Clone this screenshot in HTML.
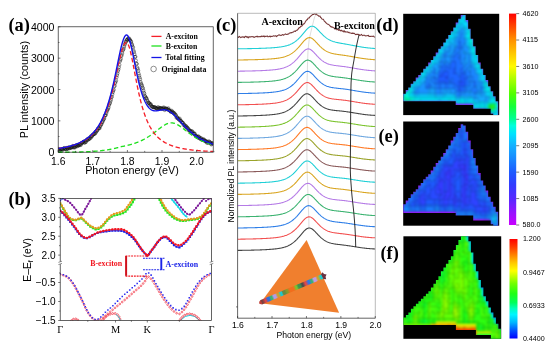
<!DOCTYPE html>
<html><head><meta charset="utf-8"><title>Figure</title>
<style>
html,body{margin:0;padding:0;background:#fff}
svg{display:block}
.s{font-family:"Liberation Sans", Arial, sans-serif}
.r{font-family:"Liberation Serif", "Times New Roman", serif}
</style></head><body>
<svg width="550" height="348" viewBox="0 0 550 348">
<rect width="550" height="348" fill="#fff"/>
<g id="pa">
<clipPath id="ca"><rect x="58.2" y="26.8" width="155" height="126.9"/></clipPath>
<g clip-path="url(#ca)">
<g fill="none" stroke="#111" stroke-width="0.45">
<circle cx="58.2" cy="148.8" r="1.5"/>
<circle cx="58.67" cy="149.51" r="1.5"/>
<circle cx="59.14" cy="149.63" r="1.5"/>
<circle cx="59.61" cy="150.68" r="1.5"/>
<circle cx="60.08" cy="149.72" r="1.5"/>
<circle cx="60.56" cy="149.69" r="1.5"/>
<circle cx="61.03" cy="149.47" r="1.5"/>
<circle cx="61.5" cy="149.71" r="1.5"/>
<circle cx="61.97" cy="149.3" r="1.5"/>
<circle cx="62.44" cy="149.47" r="1.5"/>
<circle cx="62.91" cy="149.87" r="1.5"/>
<circle cx="63.38" cy="148.55" r="1.5"/>
<circle cx="63.85" cy="148.47" r="1.5"/>
<circle cx="64.32" cy="147.92" r="1.5"/>
<circle cx="64.8" cy="148.78" r="1.5"/>
<circle cx="65.27" cy="148.95" r="1.5"/>
<circle cx="65.74" cy="148.94" r="1.5"/>
<circle cx="66.21" cy="149.41" r="1.5"/>
<circle cx="66.68" cy="147.89" r="1.5"/>
<circle cx="67.15" cy="148.97" r="1.5"/>
<circle cx="67.62" cy="148.92" r="1.5"/>
<circle cx="68.09" cy="148.27" r="1.5"/>
<circle cx="68.57" cy="147.21" r="1.5"/>
<circle cx="69.04" cy="147.81" r="1.5"/>
<circle cx="69.51" cy="148.41" r="1.5"/>
<circle cx="69.98" cy="148.12" r="1.5"/>
<circle cx="70.45" cy="147.24" r="1.5"/>
<circle cx="70.92" cy="147.56" r="1.5"/>
<circle cx="71.39" cy="147.78" r="1.5"/>
<circle cx="71.86" cy="147.35" r="1.5"/>
<circle cx="72.33" cy="146.66" r="1.5"/>
<circle cx="72.81" cy="145.83" r="1.5"/>
<circle cx="73.28" cy="147.51" r="1.5"/>
<circle cx="73.75" cy="147.01" r="1.5"/>
<circle cx="74.22" cy="146.96" r="1.5"/>
<circle cx="74.69" cy="147.72" r="1.5"/>
<circle cx="75.16" cy="146.72" r="1.5"/>
<circle cx="75.63" cy="146.61" r="1.5"/>
<circle cx="76.1" cy="145.24" r="1.5"/>
<circle cx="76.57" cy="145.77" r="1.5"/>
<circle cx="77.05" cy="146.44" r="1.5"/>
<circle cx="77.52" cy="144.97" r="1.5"/>
<circle cx="77.99" cy="145.35" r="1.5"/>
<circle cx="78.46" cy="145.94" r="1.5"/>
<circle cx="78.93" cy="145.1" r="1.5"/>
<circle cx="79.4" cy="144.89" r="1.5"/>
<circle cx="79.87" cy="144.84" r="1.5"/>
<circle cx="80.34" cy="144.12" r="1.5"/>
<circle cx="80.82" cy="145.18" r="1.5"/>
<circle cx="81.29" cy="143.84" r="1.5"/>
<circle cx="81.76" cy="142.88" r="1.5"/>
<circle cx="82.23" cy="142.73" r="1.5"/>
<circle cx="82.7" cy="142.34" r="1.5"/>
<circle cx="83.17" cy="142.07" r="1.5"/>
<circle cx="83.64" cy="141.6" r="1.5"/>
<circle cx="84.11" cy="142.8" r="1.5"/>
<circle cx="84.58" cy="141.42" r="1.5"/>
<circle cx="85.06" cy="142.66" r="1.5"/>
<circle cx="85.53" cy="141.65" r="1.5"/>
<circle cx="86" cy="142.09" r="1.5"/>
<circle cx="86.47" cy="140.11" r="1.5"/>
<circle cx="86.94" cy="139.62" r="1.5"/>
<circle cx="87.41" cy="140.15" r="1.5"/>
<circle cx="87.88" cy="138.7" r="1.5"/>
<circle cx="88.35" cy="139.73" r="1.5"/>
<circle cx="88.82" cy="138.9" r="1.5"/>
<circle cx="89.3" cy="138.53" r="1.5"/>
<circle cx="89.77" cy="138.83" r="1.5"/>
<circle cx="90.24" cy="137.59" r="1.5"/>
<circle cx="90.71" cy="136.33" r="1.5"/>
<circle cx="91.18" cy="137.58" r="1.5"/>
<circle cx="91.65" cy="136.06" r="1.5"/>
<circle cx="92.12" cy="136.21" r="1.5"/>
<circle cx="92.59" cy="134.66" r="1.5"/>
<circle cx="93.07" cy="134.91" r="1.5"/>
<circle cx="93.54" cy="134.31" r="1.5"/>
<circle cx="94.01" cy="133.83" r="1.5"/>
<circle cx="94.48" cy="133.53" r="1.5"/>
<circle cx="94.95" cy="133.91" r="1.5"/>
<circle cx="95.42" cy="131.79" r="1.5"/>
<circle cx="95.89" cy="132.77" r="1.5"/>
<circle cx="96.36" cy="131.27" r="1.5"/>
<circle cx="96.83" cy="130.45" r="1.5"/>
<circle cx="97.31" cy="130.64" r="1.5"/>
<circle cx="97.78" cy="129.43" r="1.5"/>
<circle cx="98.25" cy="128.18" r="1.5"/>
<circle cx="98.72" cy="128.16" r="1.5"/>
<circle cx="99.19" cy="127.93" r="1.5"/>
<circle cx="99.66" cy="128.34" r="1.5"/>
<circle cx="100.13" cy="126.47" r="1.5"/>
<circle cx="100.6" cy="125.47" r="1.5"/>
<circle cx="101.07" cy="124.61" r="1.5"/>
<circle cx="101.55" cy="124.02" r="1.5"/>
<circle cx="102.02" cy="122.4" r="1.5"/>
<circle cx="102.49" cy="122.04" r="1.5"/>
<circle cx="102.96" cy="120.84" r="1.5"/>
<circle cx="103.43" cy="119.44" r="1.5"/>
<circle cx="103.9" cy="119.32" r="1.5"/>
<circle cx="104.37" cy="117.98" r="1.5"/>
<circle cx="104.84" cy="115.54" r="1.5"/>
<circle cx="105.31" cy="115.17" r="1.5"/>
<circle cx="105.79" cy="115.27" r="1.5"/>
<circle cx="106.26" cy="113.42" r="1.5"/>
<circle cx="106.73" cy="111.85" r="1.5"/>
<circle cx="107.2" cy="110.24" r="1.5"/>
<circle cx="107.67" cy="109.57" r="1.5"/>
<circle cx="108.14" cy="108.64" r="1.5"/>
<circle cx="108.61" cy="107.39" r="1.5"/>
<circle cx="109.08" cy="105.21" r="1.5"/>
<circle cx="109.56" cy="103.95" r="1.5"/>
<circle cx="110.03" cy="102.93" r="1.5"/>
<circle cx="110.5" cy="101.22" r="1.5"/>
<circle cx="110.97" cy="99.77" r="1.5"/>
<circle cx="111.44" cy="97.51" r="1.5"/>
<circle cx="111.91" cy="96.64" r="1.5"/>
<circle cx="112.38" cy="94.27" r="1.5"/>
<circle cx="112.85" cy="92.31" r="1.5"/>
<circle cx="113.32" cy="90.72" r="1.5"/>
<circle cx="113.8" cy="89.63" r="1.5"/>
<circle cx="114.27" cy="86.52" r="1.5"/>
<circle cx="114.74" cy="85.74" r="1.5"/>
<circle cx="115.21" cy="83.17" r="1.5"/>
<circle cx="115.68" cy="81.84" r="1.5"/>
<circle cx="116.15" cy="80.38" r="1.5"/>
<circle cx="116.62" cy="77.22" r="1.5"/>
<circle cx="117.09" cy="75.11" r="1.5"/>
<circle cx="117.56" cy="73.22" r="1.5"/>
<circle cx="118.04" cy="70.91" r="1.5"/>
<circle cx="118.51" cy="69.31" r="1.5"/>
<circle cx="118.98" cy="67.23" r="1.5"/>
<circle cx="119.45" cy="64.79" r="1.5"/>
<circle cx="119.92" cy="61.51" r="1.5"/>
<circle cx="120.39" cy="60.04" r="1.5"/>
<circle cx="120.86" cy="58.79" r="1.5"/>
<circle cx="121.33" cy="56.24" r="1.5"/>
<circle cx="121.81" cy="54.93" r="1.5"/>
<circle cx="122.28" cy="53.08" r="1.5"/>
<circle cx="122.75" cy="50.57" r="1.5"/>
<circle cx="123.22" cy="49.66" r="1.5"/>
<circle cx="123.69" cy="48.72" r="1.5"/>
<circle cx="124.16" cy="46.79" r="1.5"/>
<circle cx="124.63" cy="44.85" r="1.5"/>
<circle cx="125.1" cy="43.56" r="1.5"/>
<circle cx="125.57" cy="41.8" r="1.5"/>
<circle cx="126.05" cy="41.92" r="1.5"/>
<circle cx="126.52" cy="40.25" r="1.5"/>
<circle cx="126.99" cy="39.73" r="1.5"/>
<circle cx="127.46" cy="39.52" r="1.5"/>
<circle cx="127.93" cy="38.59" r="1.5"/>
<circle cx="128.4" cy="38.57" r="1.5"/>
<circle cx="128.87" cy="39.32" r="1.5"/>
<circle cx="129.34" cy="38.45" r="1.5"/>
<circle cx="129.81" cy="40.19" r="1.5"/>
<circle cx="130.29" cy="40.14" r="1.5"/>
<circle cx="130.76" cy="41.07" r="1.5"/>
<circle cx="131.23" cy="41.92" r="1.5"/>
<circle cx="131.7" cy="43.85" r="1.5"/>
<circle cx="132.17" cy="44.91" r="1.5"/>
<circle cx="132.64" cy="46.58" r="1.5"/>
<circle cx="133.11" cy="47.67" r="1.5"/>
<circle cx="133.58" cy="50.54" r="1.5"/>
<circle cx="134.05" cy="52" r="1.5"/>
<circle cx="134.53" cy="54.21" r="1.5"/>
<circle cx="135" cy="56.89" r="1.5"/>
<circle cx="135.47" cy="56.78" r="1.5"/>
<circle cx="135.94" cy="60.49" r="1.5"/>
<circle cx="136.41" cy="63.47" r="1.5"/>
<circle cx="136.88" cy="64.01" r="1.5"/>
<circle cx="137.35" cy="67.58" r="1.5"/>
<circle cx="137.82" cy="68.91" r="1.5"/>
<circle cx="138.3" cy="70.74" r="1.5"/>
<circle cx="138.77" cy="73.67" r="1.5"/>
<circle cx="139.24" cy="75.58" r="1.5"/>
<circle cx="139.71" cy="77.62" r="1.5"/>
<circle cx="140.18" cy="79.31" r="1.5"/>
<circle cx="140.65" cy="82.01" r="1.5"/>
<circle cx="141.12" cy="83.59" r="1.5"/>
<circle cx="141.59" cy="84.71" r="1.5"/>
<circle cx="142.06" cy="85.71" r="1.5"/>
<circle cx="142.54" cy="87.53" r="1.5"/>
<circle cx="143.01" cy="88.44" r="1.5"/>
<circle cx="143.48" cy="90.49" r="1.5"/>
<circle cx="143.95" cy="92.56" r="1.5"/>
<circle cx="144.42" cy="93.66" r="1.5"/>
<circle cx="144.89" cy="95.99" r="1.5"/>
<circle cx="145.36" cy="96.57" r="1.5"/>
<circle cx="145.83" cy="97.72" r="1.5"/>
<circle cx="146.3" cy="98.05" r="1.5"/>
<circle cx="146.78" cy="98.83" r="1.5"/>
<circle cx="147.25" cy="100.44" r="1.5"/>
<circle cx="147.72" cy="101.32" r="1.5"/>
<circle cx="148.19" cy="102.67" r="1.5"/>
<circle cx="148.66" cy="102.62" r="1.5"/>
<circle cx="149.13" cy="103.11" r="1.5"/>
<circle cx="149.6" cy="103.64" r="1.5"/>
<circle cx="150.07" cy="104.92" r="1.5"/>
<circle cx="150.55" cy="103.89" r="1.5"/>
<circle cx="151.02" cy="104.83" r="1.5"/>
<circle cx="151.49" cy="106" r="1.5"/>
<circle cx="151.96" cy="106.64" r="1.5"/>
<circle cx="152.43" cy="106.88" r="1.5"/>
<circle cx="152.9" cy="106.92" r="1.5"/>
<circle cx="153.37" cy="107.29" r="1.5"/>
<circle cx="153.84" cy="107.25" r="1.5"/>
<circle cx="154.31" cy="107.29" r="1.5"/>
<circle cx="154.79" cy="107.13" r="1.5"/>
<circle cx="155.26" cy="107.4" r="1.5"/>
<circle cx="155.73" cy="108.22" r="1.5"/>
<circle cx="156.2" cy="108.03" r="1.5"/>
<circle cx="156.67" cy="108.54" r="1.5"/>
<circle cx="157.14" cy="108.71" r="1.5"/>
<circle cx="157.61" cy="107.33" r="1.5"/>
<circle cx="158.08" cy="108.69" r="1.5"/>
<circle cx="158.55" cy="107.32" r="1.5"/>
<circle cx="159.03" cy="108.64" r="1.5"/>
<circle cx="159.5" cy="108.29" r="1.5"/>
<circle cx="159.97" cy="107.81" r="1.5"/>
<circle cx="160.44" cy="108.4" r="1.5"/>
<circle cx="160.91" cy="108.18" r="1.5"/>
<circle cx="161.38" cy="108.53" r="1.5"/>
<circle cx="161.85" cy="108.66" r="1.5"/>
<circle cx="162.32" cy="108.49" r="1.5"/>
<circle cx="162.8" cy="108.78" r="1.5"/>
<circle cx="163.27" cy="107.52" r="1.5"/>
<circle cx="163.74" cy="108.58" r="1.5"/>
<circle cx="164.21" cy="107.56" r="1.5"/>
<circle cx="164.68" cy="110.12" r="1.5"/>
<circle cx="165.15" cy="108.68" r="1.5"/>
<circle cx="165.62" cy="108.48" r="1.5"/>
<circle cx="166.09" cy="109.09" r="1.5"/>
<circle cx="166.56" cy="108.45" r="1.5"/>
<circle cx="167.04" cy="108.87" r="1.5"/>
<circle cx="167.51" cy="109.57" r="1.5"/>
<circle cx="167.98" cy="109.38" r="1.5"/>
<circle cx="168.45" cy="108.26" r="1.5"/>
<circle cx="168.92" cy="109.96" r="1.5"/>
<circle cx="169.39" cy="110.2" r="1.5"/>
<circle cx="169.86" cy="110.91" r="1.5"/>
<circle cx="170.33" cy="110.9" r="1.5"/>
<circle cx="170.8" cy="112.03" r="1.5"/>
<circle cx="171.28" cy="111.76" r="1.5"/>
<circle cx="171.75" cy="110.63" r="1.5"/>
<circle cx="172.22" cy="111.8" r="1.5"/>
<circle cx="172.69" cy="112.44" r="1.5"/>
<circle cx="173.16" cy="112.6" r="1.5"/>
<circle cx="173.63" cy="112.59" r="1.5"/>
<circle cx="174.1" cy="113.76" r="1.5"/>
<circle cx="174.57" cy="113.38" r="1.5"/>
<circle cx="175.04" cy="114.41" r="1.5"/>
<circle cx="175.52" cy="115.4" r="1.5"/>
<circle cx="175.99" cy="115.01" r="1.5"/>
<circle cx="176.46" cy="117.81" r="1.5"/>
<circle cx="176.93" cy="117.3" r="1.5"/>
<circle cx="177.4" cy="117.34" r="1.5"/>
<circle cx="177.87" cy="118.51" r="1.5"/>
<circle cx="178.34" cy="118.6" r="1.5"/>
<circle cx="178.81" cy="119.39" r="1.5"/>
<circle cx="179.29" cy="119.93" r="1.5"/>
<circle cx="179.76" cy="118.55" r="1.5"/>
<circle cx="180.23" cy="120.25" r="1.5"/>
<circle cx="180.7" cy="121.16" r="1.5"/>
<circle cx="181.17" cy="120.91" r="1.5"/>
<circle cx="181.64" cy="122.3" r="1.5"/>
<circle cx="182.11" cy="122.19" r="1.5"/>
<circle cx="182.58" cy="123.01" r="1.5"/>
<circle cx="183.05" cy="122.8" r="1.5"/>
<circle cx="183.53" cy="125.03" r="1.5"/>
<circle cx="184" cy="124.3" r="1.5"/>
<circle cx="184.47" cy="125.16" r="1.5"/>
<circle cx="184.94" cy="126.38" r="1.5"/>
<circle cx="185.41" cy="125.62" r="1.5"/>
<circle cx="185.88" cy="127.19" r="1.5"/>
<circle cx="186.35" cy="126.27" r="1.5"/>
<circle cx="186.82" cy="127.36" r="1.5"/>
<circle cx="187.29" cy="127.73" r="1.5"/>
<circle cx="187.77" cy="128.53" r="1.5"/>
<circle cx="188.24" cy="128.52" r="1.5"/>
<circle cx="188.71" cy="130.53" r="1.5"/>
<circle cx="189.18" cy="129.88" r="1.5"/>
<circle cx="189.65" cy="130.71" r="1.5"/>
<circle cx="190.12" cy="130.62" r="1.5"/>
<circle cx="190.59" cy="131.22" r="1.5"/>
<circle cx="191.06" cy="131.26" r="1.5"/>
<circle cx="191.54" cy="132.49" r="1.5"/>
<circle cx="192.01" cy="131.37" r="1.5"/>
<circle cx="192.48" cy="131.49" r="1.5"/>
<circle cx="192.95" cy="133.3" r="1.5"/>
<circle cx="193.42" cy="133.57" r="1.5"/>
<circle cx="193.89" cy="133.76" r="1.5"/>
<circle cx="194.36" cy="133.57" r="1.5"/>
<circle cx="194.83" cy="133.57" r="1.5"/>
<circle cx="195.3" cy="135.67" r="1.5"/>
<circle cx="195.78" cy="135.68" r="1.5"/>
<circle cx="196.25" cy="136.26" r="1.5"/>
<circle cx="196.72" cy="136.62" r="1.5"/>
<circle cx="197.19" cy="137.23" r="1.5"/>
<circle cx="197.66" cy="136.41" r="1.5"/>
<circle cx="198.13" cy="137.58" r="1.5"/>
<circle cx="198.6" cy="136.38" r="1.5"/>
<circle cx="199.07" cy="137" r="1.5"/>
<circle cx="199.54" cy="138.38" r="1.5"/>
<circle cx="200.02" cy="138.66" r="1.5"/>
<circle cx="200.49" cy="138.7" r="1.5"/>
<circle cx="200.96" cy="137.84" r="1.5"/>
<circle cx="201.43" cy="139.37" r="1.5"/>
<circle cx="201.9" cy="139.99" r="1.5"/>
<circle cx="202.37" cy="139.42" r="1.5"/>
<circle cx="202.84" cy="139.43" r="1.5"/>
<circle cx="203.31" cy="140.25" r="1.5"/>
<circle cx="203.79" cy="139.2" r="1.5"/>
<circle cx="204.26" cy="140.21" r="1.5"/>
<circle cx="204.73" cy="140.31" r="1.5"/>
<circle cx="205.2" cy="141.27" r="1.5"/>
<circle cx="205.67" cy="141.02" r="1.5"/>
<circle cx="206.14" cy="141.29" r="1.5"/>
<circle cx="206.61" cy="142.69" r="1.5"/>
<circle cx="207.08" cy="141.45" r="1.5"/>
<circle cx="207.55" cy="142.82" r="1.5"/>
<circle cx="208.03" cy="142.01" r="1.5"/>
<circle cx="208.5" cy="143.01" r="1.5"/>
<circle cx="208.97" cy="141.22" r="1.5"/>
<circle cx="209.44" cy="142.36" r="1.5"/>
<circle cx="209.91" cy="142.23" r="1.5"/>
<circle cx="210.38" cy="142.37" r="1.5"/>
<circle cx="210.85" cy="143.8" r="1.5"/>
<circle cx="211.32" cy="144.5" r="1.5"/>
<circle cx="211.79" cy="143.56" r="1.5"/>
<circle cx="212.27" cy="143.02" r="1.5"/>
<circle cx="212.74" cy="143.63" r="1.5"/>
<circle cx="213.21" cy="143.39" r="1.5"/>
</g>
<path d="M58.2 152.2 L58.59 152.2 L58.98 152.2 L59.37 152.2 L59.75 152.2 L60.14 152.2 L60.53 152.2 L60.92 152.2 L61.31 152.2 L61.7 152.2 L62.08 152.2 L62.47 152.2 L62.86 152.2 L63.25 152.2 L63.64 152.2 L64.03 152.2 L64.42 152.2 L64.8 152.2 L65.19 152.2 L65.58 152.2 L65.97 152.2 L66.36 152.2 L66.75 152.2 L67.14 152.2 L67.52 152.2 L67.91 152.2 L68.3 152.2 L68.69 152.2 L69.08 152.2 L69.47 152.2 L69.85 152.19 L70.24 152.19 L70.63 152.19 L71.02 152.18 L71.41 152.18 L71.8 152.17 L72.19 152.17 L72.57 152.16 L72.96 152.16 L73.35 152.15 L73.74 152.15 L74.13 152.14 L74.52 152.13 L74.91 152.13 L75.29 152.12 L75.68 152.11 L76.07 152.1 L76.46 152.09 L76.85 152.09 L77.24 152.08 L77.62 152.07 L78.01 152.06 L78.4 152.05 L78.79 152.04 L79.18 152.03 L79.57 152.01 L79.96 152 L80.34 151.99 L80.73 151.98 L81.12 151.97 L81.51 151.95 L81.9 151.94 L82.29 151.93 L82.67 151.91 L83.06 151.9 L83.45 151.88 L83.84 151.87 L84.23 151.85 L84.62 151.84 L85.01 151.82 L85.39 151.8 L85.78 151.79 L86.17 151.77 L86.56 151.75 L86.95 151.73 L87.34 151.71 L87.73 151.69 L88.11 151.67 L88.5 151.65 L88.89 151.63 L89.28 151.61 L89.67 151.59 L90.06 151.56 L90.44 151.54 L90.83 151.52 L91.22 151.49 L91.61 151.47 L92 151.44 L92.39 151.42 L92.78 151.39 L93.16 151.36 L93.55 151.34 L93.94 151.31 L94.33 151.28 L94.72 151.25 L95.11 151.22 L95.5 151.19 L95.88 151.16 L96.27 151.12 L96.66 151.09 L97.05 151.06 L97.44 151.02 L97.83 150.99 L98.21 150.95 L98.6 150.91 L98.99 150.88 L99.38 150.84 L99.77 150.8 L100.16 150.76 L100.55 150.72 L100.93 150.67 L101.32 150.63 L101.71 150.59 L102.1 150.54 L102.49 150.5 L102.88 150.45 L103.26 150.4 L103.65 150.35 L104.04 150.3 L104.43 150.25 L104.82 150.2 L105.21 150.14 L105.6 150.09 L105.98 150.03 L106.37 149.98 L106.76 149.92 L107.15 149.86 L107.54 149.8 L107.93 149.74 L108.32 149.67 L108.7 149.61 L109.09 149.54 L109.48 149.47 L109.87 149.41 L110.26 149.33 L110.65 149.26 L111.03 149.19 L111.42 149.11 L111.81 149.04 L112.2 148.96 L112.59 148.88 L112.98 148.79 L113.37 148.71 L113.75 148.62 L114.14 148.53 L114.53 148.44 L114.92 148.35 L115.31 148.26 L115.7 148.16 L116.09 148.06 L116.47 147.96 L116.86 147.86 L117.25 147.75 L117.64 147.65 L118.03 147.54 L118.42 147.42 L118.8 147.31 L119.19 147.19 L119.58 147.07 L119.97 146.95 L120.36 146.82 L120.75 146.74 L121.14 146.67 L121.52 146.6 L121.91 146.52 L122.3 146.45 L122.69 146.38 L123.08 146.3 L123.47 146.23 L123.86 146.15 L124.24 146.07 L124.63 145.99 L125.02 145.91 L125.41 145.82 L125.8 145.74 L126.19 145.65 L126.57 145.56 L126.96 145.47 L127.35 145.38 L127.74 145.29 L128.13 145.19 L128.52 145.1 L128.91 145 L129.29 144.9 L129.68 144.8 L130.07 144.69 L130.46 144.58 L130.85 144.48 L131.24 144.37 L131.62 144.25 L132.01 144.14 L132.4 144.02 L132.79 143.9 L133.18 143.78 L133.57 143.66 L133.96 143.53 L134.34 143.41 L134.73 143.28 L135.12 143.14 L135.51 143.01 L135.9 142.87 L136.29 142.73 L136.68 142.59 L137.06 142.44 L137.45 142.29 L137.84 142.14 L138.23 141.98 L138.62 141.83 L139.01 141.67 L139.39 141.5 L139.78 141.33 L140.17 141.16 L140.56 140.99 L140.95 140.82 L141.34 140.64 L141.73 140.45 L142.11 140.27 L142.5 140.08 L142.89 139.88 L143.28 139.69 L143.67 139.49 L144.06 139.28 L144.45 139.07 L144.83 138.86 L145.22 138.65 L145.61 138.43 L146 138.21 L146.39 137.98 L146.78 137.75 L147.16 137.52 L147.55 137.28 L147.94 137.04 L148.33 136.79 L148.72 136.55 L149.11 136.29 L149.5 136.04 L149.88 135.78 L150.27 135.51 L150.66 135.25 L151.05 134.98 L151.44 134.7 L151.83 134.43 L152.21 134.15 L152.6 133.86 L152.99 133.58 L153.38 133.29 L153.77 133 L154.16 132.7 L154.55 132.41 L154.93 132.11 L155.32 131.81 L155.71 131.51 L156.1 131.2 L156.49 130.9 L156.88 130.59 L157.27 130.29 L157.65 129.98 L158.04 129.68 L158.43 129.37 L158.82 129.07 L159.21 128.77 L159.6 128.47 L159.98 128.17 L160.37 127.88 L160.76 127.59 L161.15 127.3 L161.54 127.01 L161.93 126.74 L162.32 126.46 L162.7 126.2 L163.09 125.93 L163.48 125.68 L163.87 125.44 L164.26 125.2 L164.65 124.97 L165.04 124.75 L165.42 124.54 L165.81 124.34 L166.2 124.15 L166.59 123.97 L166.98 123.81 L167.37 123.66 L167.75 123.52 L168.14 123.39 L168.53 123.28 L168.92 123.18 L169.31 123.09 L169.7 123.02 L170.09 122.97 L170.47 122.93 L170.86 122.9 L171.25 122.89 L171.64 122.89 L172.03 122.91 L172.42 122.95 L172.8 122.99 L173.19 123.06 L173.58 123.14 L173.97 123.23 L174.36 123.34 L174.75 123.46 L175.14 123.59 L175.52 123.74 L175.91 123.9 L176.3 124.07 L176.69 124.25 L177.08 124.44 L177.47 124.65 L177.86 124.86 L178.24 125.09 L178.63 125.32 L179.02 125.56 L179.41 125.82 L179.8 126.07 L180.19 126.34 L180.57 126.61 L180.96 126.88 L181.35 127.16 L181.74 127.45 L182.13 127.74 L182.52 128.03 L182.91 128.33 L183.29 128.63 L183.68 128.93 L184.07 129.23 L184.46 129.54 L184.85 129.84 L185.24 130.15 L185.63 130.45 L186.01 130.76 L186.4 131.06 L186.79 131.36 L187.18 131.67 L187.57 131.97 L187.96 132.27 L188.34 132.56 L188.73 132.86 L189.12 133.15 L189.51 133.44 L189.9 133.73 L190.29 134.01 L190.68 134.3 L191.06 134.57 L191.45 134.85 L191.84 135.12 L192.23 135.39 L192.62 135.65 L193.01 135.92 L193.39 136.17 L193.78 136.43 L194.17 136.68 L194.56 136.93 L194.95 137.17 L195.34 137.41 L195.73 137.64 L196.11 137.87 L196.5 138.1 L196.89 138.33 L197.28 138.55 L197.67 138.76 L198.06 138.98 L198.45 139.19 L198.83 139.39 L199.22 139.59 L199.61 139.79 L200 139.99 L200.39 140.18 L200.78 140.37 L201.16 140.55 L201.55 140.73 L201.94 140.91 L202.33 141.08 L202.72 141.26 L203.11 141.42 L203.5 141.59 L203.88 141.75 L204.27 141.91 L204.66 142.07 L205.05 142.22 L205.44 142.37 L205.83 142.52 L206.22 142.66 L206.6 142.8 L206.99 142.94 L207.38 143.08 L207.77 143.21 L208.16 143.35 L208.55 143.48 L208.93 143.6 L209.32 143.73 L209.71 143.85 L210.1 143.97 L210.49 144.09 L210.88 144.2 L211.27 144.31 L211.65 144.43 L212.04 144.53 L212.43 144.64 L212.82 144.75 L213.21 144.85" fill="none" stroke="#1fe01f" stroke-width="1.35" stroke-dasharray="4.4 2.6"/>
<path d="M58.2 148.51 L58.59 148.46 L58.98 148.4 L59.37 148.34 L59.75 148.27 L60.14 148.21 L60.53 148.15 L60.92 148.08 L61.31 148.02 L61.7 147.95 L62.08 147.88 L62.47 147.81 L62.86 147.74 L63.25 147.67 L63.64 147.59 L64.03 147.52 L64.42 147.44 L64.8 147.36 L65.19 147.28 L65.58 147.2 L65.97 147.12 L66.36 147.04 L66.75 146.95 L67.14 146.86 L67.52 146.77 L67.91 146.68 L68.3 146.59 L68.69 146.5 L69.08 146.4 L69.47 146.3 L69.85 146.2 L70.24 146.1 L70.63 146 L71.02 145.89 L71.41 145.78 L71.8 145.67 L72.19 145.56 L72.57 145.45 L72.96 145.33 L73.35 145.21 L73.74 145.09 L74.13 144.96 L74.52 144.84 L74.91 144.71 L75.29 144.57 L75.68 144.44 L76.07 144.3 L76.46 144.16 L76.85 144.02 L77.24 143.87 L77.62 143.72 L78.01 143.56 L78.4 143.41 L78.79 143.25 L79.18 143.08 L79.57 142.92 L79.96 142.74 L80.34 142.57 L80.73 142.39 L81.12 142.21 L81.51 142.02 L81.9 141.83 L82.29 141.63 L82.67 141.43 L83.06 141.22 L83.45 141.01 L83.84 140.8 L84.23 140.58 L84.62 140.35 L85.01 140.12 L85.39 139.89 L85.78 139.64 L86.17 139.4 L86.56 139.14 L86.95 138.88 L87.34 138.61 L87.73 138.34 L88.11 138.06 L88.5 137.77 L88.89 137.48 L89.28 137.18 L89.67 136.87 L90.06 136.55 L90.44 136.22 L90.83 135.89 L91.22 135.54 L91.61 135.19 L92 134.83 L92.39 134.46 L92.78 134.08 L93.16 133.69 L93.55 133.28 L93.94 132.87 L94.33 132.45 L94.72 132.01 L95.11 131.56 L95.5 131.1 L95.88 130.63 L96.27 130.15 L96.66 129.65 L97.05 129.13 L97.44 128.6 L97.83 128.06 L98.21 127.5 L98.6 126.93 L98.99 126.34 L99.38 125.73 L99.77 125.1 L100.16 124.46 L100.55 123.79 L100.93 123.11 L101.32 122.41 L101.71 121.69 L102.1 120.94 L102.49 120.18 L102.88 119.39 L103.26 118.58 L103.65 117.74 L104.04 116.88 L104.43 116 L104.82 115.09 L105.21 114.15 L105.6 113.19 L105.98 112.2 L106.37 111.18 L106.76 110.13 L107.15 109.05 L107.54 107.94 L107.93 106.8 L108.32 105.62 L108.7 104.42 L109.09 103.18 L109.48 101.91 L109.87 100.61 L110.26 99.27 L110.65 97.9 L111.03 96.5 L111.42 95.06 L111.81 93.59 L112.2 92.09 L112.59 90.55 L112.98 88.99 L113.37 87.39 L113.75 85.77 L114.14 84.12 L114.53 82.44 L114.92 80.74 L115.31 79.01 L115.7 77.27 L116.09 75.52 L116.47 73.75 L116.86 71.97 L117.25 70.19 L117.64 68.41 L118.03 66.64 L118.42 64.88 L118.8 63.14 L119.19 61.42 L119.58 59.73 L119.97 58.07 L120.36 56.46 L120.75 54.9 L121.14 53.41 L121.52 51.97 L121.91 50.62 L122.3 49.34 L122.69 48.15 L123.08 47.06 L123.47 46.07 L123.86 45.19 L124.24 44.43 L124.63 43.79 L125.02 43.27 L125.41 42.88 L125.8 42.62 L126.19 42.49 L126.57 42.5 L126.96 42.69 L127.35 43.05 L127.74 43.59 L128.13 44.29 L128.52 45.16 L128.91 46.18 L129.29 47.34 L129.68 48.64 L130.07 50.07 L130.46 51.61 L130.85 53.25 L131.24 54.98 L131.62 56.79 L132.01 58.67 L132.4 60.61 L132.79 62.59 L133.18 64.6 L133.57 66.64 L133.96 68.7 L134.34 70.76 L134.73 72.83 L135.12 74.89 L135.51 76.93 L135.9 78.96 L136.29 80.96 L136.68 82.93 L137.06 84.88 L137.45 86.78 L137.84 88.65 L138.23 90.48 L138.62 92.27 L139.01 94.02 L139.39 95.72 L139.78 97.38 L140.17 99 L140.56 100.57 L140.95 102.09 L141.34 103.57 L141.73 105.01 L142.11 106.4 L142.5 107.75 L142.89 109.06 L143.28 110.33 L143.67 111.55 L144.06 112.74 L144.45 113.89 L144.83 115 L145.22 116.08 L145.61 117.12 L146 118.13 L146.39 119.1 L146.78 120.05 L147.16 120.96 L147.55 121.84 L147.94 122.69 L148.33 123.51 L148.72 124.31 L149.11 125.08 L149.5 125.83 L149.88 126.55 L150.27 127.25 L150.66 127.93 L151.05 128.58 L151.44 129.21 L151.83 129.83 L152.21 130.42 L152.6 131 L152.99 131.55 L153.38 132.09 L153.77 132.62 L154.16 133.12 L154.55 133.61 L154.93 134.09 L155.32 134.55 L155.71 135 L156.1 135.43 L156.49 135.85 L156.88 136.26 L157.27 136.65 L157.65 137.04 L158.04 137.41 L158.43 137.77 L158.82 138.13 L159.21 138.47 L159.6 138.8 L159.98 139.12 L160.37 139.43 L160.76 139.74 L161.15 140.03 L161.54 140.32 L161.93 140.6 L162.32 140.87 L162.7 141.14 L163.09 141.39 L163.48 141.64 L163.87 141.89 L164.26 142.12 L164.65 142.35 L165.04 142.58 L165.42 142.8 L165.81 143.01 L166.2 143.21 L166.59 143.42 L166.98 143.61 L167.37 143.8 L167.75 143.99 L168.14 144.17 L168.53 144.35 L168.92 144.52 L169.31 144.69 L169.7 144.86 L170.09 145.02 L170.47 145.17 L170.86 145.32 L171.25 145.47 L171.64 145.62 L172.03 145.76 L172.42 145.9 L172.8 146.03 L173.19 146.16 L173.58 146.29 L173.97 146.42 L174.36 146.54 L174.75 146.66 L175.14 146.78 L175.52 146.89 L175.91 147 L176.3 147.11 L176.69 147.22 L177.08 147.32 L177.47 147.42 L177.86 147.52 L178.24 147.62 L178.63 147.71 L179.02 147.81 L179.41 147.9 L179.8 147.99 L180.19 148.07 L180.57 148.16 L180.96 148.24 L181.35 148.32 L181.74 148.4 L182.13 148.48 L182.52 148.55 L182.91 148.63 L183.29 148.7 L183.68 148.77 L184.07 148.84 L184.46 148.91 L184.85 148.98 L185.24 149.04 L185.63 149.1 L186.01 149.17 L186.4 149.23 L186.79 149.29 L187.18 149.35 L187.57 149.4 L187.96 149.46 L188.34 149.51 L188.73 149.57 L189.12 149.62 L189.51 149.67 L189.9 149.72 L190.29 149.77 L190.68 149.82 L191.06 149.87 L191.45 149.92 L191.84 149.96 L192.23 150.01 L192.62 150.05 L193.01 150.09 L193.39 150.13 L193.78 150.18 L194.17 150.22 L194.56 150.26 L194.95 150.29 L195.34 150.33 L195.73 150.37 L196.11 150.41 L196.5 150.44 L196.89 150.48 L197.28 150.51 L197.67 150.54 L198.06 150.58 L198.45 150.61 L198.83 150.64 L199.22 150.67 L199.61 150.7 L200 150.73 L200.39 150.76 L200.78 150.79 L201.16 150.82 L201.55 150.84 L201.94 150.87 L202.33 150.9 L202.72 150.92 L203.11 150.95 L203.5 150.97 L203.88 151 L204.27 151.02 L204.66 151.05 L205.05 151.07 L205.44 151.09 L205.83 151.11 L206.22 151.14 L206.6 151.16 L206.99 151.18 L207.38 151.2 L207.77 151.22 L208.16 151.24 L208.55 151.26 L208.93 151.28 L209.32 151.29 L209.71 151.31 L210.1 151.33 L210.49 151.35 L210.88 151.36 L211.27 151.38 L211.65 151.4 L212.04 151.41 L212.43 151.43 L212.82 151.45 L213.21 151.46" fill="none" stroke="#f5202a" stroke-width="1.35" stroke-dasharray="4.4 2.6"/>
<path d="M58.2 148.51 L58.59 148.46 L58.98 148.4 L59.37 148.34 L59.75 148.27 L60.14 148.21 L60.53 148.15 L60.92 148.08 L61.31 148.02 L61.7 147.95 L62.08 147.88 L62.47 147.81 L62.86 147.74 L63.25 147.67 L63.64 147.59 L64.03 147.52 L64.42 147.44 L64.8 147.36 L65.19 147.28 L65.58 147.2 L65.97 147.12 L66.36 147.04 L66.75 146.95 L67.14 146.86 L67.52 146.77 L67.91 146.68 L68.3 146.59 L68.69 146.5 L69.08 146.4 L69.47 146.3 L69.85 146.2 L70.24 146.09 L70.63 145.99 L71.02 145.88 L71.41 145.76 L71.8 145.65 L72.19 145.53 L72.57 145.41 L72.96 145.29 L73.35 145.16 L73.74 145.03 L74.13 144.9 L74.52 144.77 L74.91 144.63 L75.29 144.49 L75.68 144.35 L76.07 144.2 L76.46 144.05 L76.85 143.9 L77.24 143.74 L77.62 143.58 L78.01 143.42 L78.4 143.25 L78.79 143.08 L79.18 142.91 L79.57 142.73 L79.96 142.55 L80.34 142.36 L80.73 142.17 L81.12 141.97 L81.51 141.77 L81.9 141.57 L82.29 141.36 L82.67 141.14 L83.06 140.92 L83.45 140.7 L83.84 140.47 L84.23 140.23 L84.62 139.99 L85.01 139.74 L85.39 139.49 L85.78 139.23 L86.17 138.96 L86.56 138.69 L86.95 138.41 L87.34 138.13 L87.73 137.83 L88.11 137.53 L88.5 137.22 L88.89 136.91 L89.28 136.58 L89.67 136.25 L90.06 135.91 L90.44 135.56 L90.83 135.21 L91.22 134.84 L91.61 134.46 L92 134.07 L92.39 133.68 L92.78 133.27 L93.16 132.85 L93.55 132.42 L93.94 131.98 L94.33 131.53 L94.72 131.06 L95.11 130.58 L95.5 130.09 L95.88 129.59 L96.27 129.07 L96.66 128.54 L97.05 127.99 L97.44 127.42 L97.83 126.85 L98.21 126.25 L98.6 125.64 L98.99 125.01 L99.38 124.36 L99.77 123.7 L100.16 123.01 L100.55 122.31 L100.93 121.58 L101.32 120.84 L101.71 120.07 L102.1 119.28 L102.49 118.47 L102.88 117.64 L103.26 116.78 L103.65 115.89 L104.04 114.98 L104.43 114.05 L104.82 113.08 L105.21 112.09 L105.6 111.07 L105.98 110.02 L106.37 108.95 L106.76 107.84 L107.15 106.7 L107.54 105.52 L107.93 104.32 L108.32 103.08 L108.7 101.8 L109.09 100.5 L109.48 99.16 L109.87 97.78 L110.26 96.37 L110.65 94.92 L111.03 93.43 L111.42 91.91 L111.81 90.36 L112.2 88.77 L112.59 87.14 L112.98 85.48 L113.37 83.79 L113.75 82.06 L114.14 80.31 L114.53 78.52 L114.92 76.71 L115.31 74.87 L115.7 73.01 L116.09 71.14 L116.47 69.24 L116.86 67.34 L117.25 65.43 L117.64 63.51 L118.03 61.6 L118.42 59.69 L118.8 57.8 L119.19 55.93 L119.58 54.09 L119.97 52.28 L120.36 50.51 L120.75 48.83 L121.14 47.22 L121.52 45.69 L121.91 44.23 L122.3 42.85 L122.69 41.55 L123.08 40.36 L123.47 39.27 L123.86 38.29 L124.24 37.43 L124.63 36.68 L125.02 36.07 L125.41 35.58 L125.8 35.23 L126.19 35.01 L126.57 34.93 L126.96 35.03 L127.35 35.31 L127.74 35.77 L128.13 36.39 L128.52 37.18 L128.91 38.12 L129.29 39.21 L129.68 40.44 L130.07 41.79 L130.46 43.25 L130.85 44.82 L131.24 46.47 L131.62 48.2 L132.01 50 L132.4 51.86 L132.79 53.75 L133.18 55.68 L133.57 57.63 L133.96 59.59 L134.34 61.56 L134.73 63.52 L135.12 65.47 L135.51 67.4 L135.9 69.32 L136.29 71.2 L136.68 73.05 L137.06 74.86 L137.45 76.63 L137.84 78.36 L138.23 80.05 L138.62 81.69 L139.01 83.28 L139.39 84.82 L139.78 86.31 L140.17 87.75 L140.56 89.14 L140.95 90.48 L141.34 91.77 L141.73 93.01 L142.11 94.2 L142.5 95.34 L142.89 96.43 L143.28 97.48 L143.67 98.47 L144.06 99.42 L144.45 100.33 L144.83 101.18 L145.22 102 L145.61 102.77 L146 103.5 L146.39 104.19 L146.78 104.84 L147.16 105.45 L147.55 106.02 L147.94 106.55 L148.33 107.05 L148.72 107.51 L149.11 107.93 L149.5 108.33 L149.88 108.69 L150.27 109.01 L150.66 109.31 L151.05 109.58 L151.44 109.82 L151.83 110.03 L152.21 110.21 L152.6 110.37 L152.99 110.5 L153.38 110.61 L153.77 110.7 L154.16 110.77 L154.55 110.82 L154.93 110.85 L155.32 110.87 L155.71 110.87 L156.1 110.85 L156.49 110.82 L156.88 110.78 L157.27 110.74 L157.65 110.68 L158.04 110.62 L158.43 110.55 L158.82 110.47 L159.21 110.4 L159.6 110.32 L159.98 110.25 L160.37 110.17 L160.76 110.1 L161.15 110.04 L161.54 109.98 L161.93 109.92 L162.32 109.88 L162.7 109.84 L163.09 109.81 L163.48 109.8 L163.87 109.79 L164.26 109.8 L164.65 109.82 L165.04 109.86 L165.42 109.91 L165.81 109.97 L166.2 110.05 L166.59 110.15 L166.98 110.26 L167.37 110.39 L167.75 110.54 L168.14 110.7 L168.53 110.87 L168.92 111.07 L169.31 111.27 L169.7 111.5 L170.09 111.74 L170.47 111.99 L170.86 112.26 L171.25 112.54 L171.64 112.83 L172.03 113.14 L172.42 113.46 L172.8 113.79 L173.19 114.13 L173.58 114.48 L173.97 114.84 L174.36 115.21 L174.75 115.59 L175.14 115.97 L175.52 116.36 L175.91 116.76 L176.3 117.16 L176.69 117.57 L177.08 117.98 L177.47 118.4 L177.86 118.82 L178.24 119.24 L178.63 119.66 L179.02 120.09 L179.41 120.52 L179.8 120.94 L180.19 121.37 L180.57 121.79 L180.96 122.22 L181.35 122.64 L181.74 123.07 L182.13 123.49 L182.52 123.91 L182.91 124.32 L183.29 124.74 L183.68 125.15 L184.07 125.56 L184.46 125.96 L184.85 126.36 L185.24 126.76 L185.63 127.15 L186.01 127.54 L186.4 127.93 L186.79 128.31 L187.18 128.69 L187.57 129.06 L187.96 129.43 L188.34 129.79 L188.73 130.15 L189.12 130.51 L189.51 130.86 L189.9 131.2 L190.29 131.54 L190.68 131.88 L191.06 132.21 L191.45 132.54 L191.84 132.86 L192.23 133.17 L192.62 133.49 L193.01 133.79 L193.39 134.1 L193.78 134.39 L194.17 134.68 L194.56 134.97 L194.95 135.26 L195.34 135.53 L195.73 135.81 L196.11 136.08 L196.5 136.34 L196.89 136.6 L197.28 136.85 L197.67 137.1 L198.06 137.35 L198.45 137.59 L198.83 137.83 L199.22 138.06 L199.61 138.29 L200 138.52 L200.39 138.74 L200.78 138.95 L201.16 139.17 L201.55 139.38 L201.94 139.58 L202.33 139.78 L202.72 139.98 L203.11 140.17 L203.5 140.36 L203.88 140.55 L204.27 140.73 L204.66 140.91 L205.05 141.09 L205.44 141.26 L205.83 141.43 L206.22 141.6 L206.6 141.76 L206.99 141.92 L207.38 142.08 L207.77 142.23 L208.16 142.38 L208.55 142.53 L208.93 142.68 L209.32 142.82 L209.71 142.96 L210.1 143.1 L210.49 143.23 L210.88 143.37 L211.27 143.5 L211.65 143.62 L212.04 143.75 L212.43 143.87 L212.82 143.99 L213.21 144.11" fill="none" stroke="#1414e6" stroke-width="1.4"/>
</g>
<rect x="58.2" y="26.8" width="155" height="125.4" fill="none" stroke="#222" stroke-width="0.7"/>
<path d="M58.2 152.2v-2.2M75.5 152.2v-1.3M92.8 152.2v-2.2M110.1 152.2v-1.3M127.4 152.2v-2.2M144.7 152.2v-1.3M162 152.2v-2.2M179.3 152.2v-1.3M196.6 152.2v-2.2M213.9 152.2v-1.3M58.2 152.2h2.2M58.2 136.52h1.3M58.2 120.85h2.2M58.2 105.17h1.3M58.2 89.5h2.2M58.2 73.82h1.3M58.2 58.15h2.2M58.2 42.47h1.3M58.2 26.8h2.2" stroke="#222" stroke-width="0.6" fill="none"/>
<text class="s" x="58.2" y="165.4" font-size="10.4" text-anchor="middle">1.6</text>
<text class="s" x="92.8" y="165.4" font-size="10.4" text-anchor="middle">1.7</text>
<text class="s" x="127.4" y="165.4" font-size="10.4" text-anchor="middle">1.8</text>
<text class="s" x="162" y="165.4" font-size="10.4" text-anchor="middle">1.9</text>
<text class="s" x="196.6" y="165.4" font-size="10.4" text-anchor="middle">2.0</text>
<text class="s" x="54.5" y="156.2" font-size="10.6" text-anchor="end">0</text>
<text class="s" x="54.5" y="124.85" font-size="10.6" text-anchor="end">1000</text>
<text class="s" x="54.5" y="93.5" font-size="10.6" text-anchor="end">2000</text>
<text class="s" x="54.5" y="62.15" font-size="10.6" text-anchor="end">3000</text>
<text class="s" x="54.5" y="30.8" font-size="10.6" text-anchor="end">4000</text>
<text class="s" x="132" y="174.2" font-size="10.8" text-anchor="middle">Photon energy (eV)</text>
<text class="s" x="28" y="89.6" font-size="10.8" text-anchor="middle" transform="rotate(-90 28 89.6)">PL intensity (counts)</text>
<text class="r" x="8.4" y="30.8" font-size="18.4" font-weight="bold">(a)</text>
<path d="M151.4 36.4H161.5" stroke="#f5202a" stroke-width="1.3"/>
<path d="M151.4 46H161.5" stroke="#1fe01f" stroke-width="1.3"/>
<path d="M151.4 57.5H161.5" stroke="#1414e6" stroke-width="1.3"/>
<circle cx="153.6" cy="69" r="2.8" fill="none" stroke="#222" stroke-width="0.5"/>
<text class="r" x="165.7" y="38.9" font-size="7.8" font-weight="bold">A-exciton</text>
<text class="r" x="165.7" y="48.5" font-size="7.8" font-weight="bold">B-exciton</text>
<text class="r" x="165.2" y="60" font-size="7.8" font-weight="bold">Total fitting</text>
<text class="r" x="161.5" y="71.5" font-size="7.8" font-weight="bold">Original data</text>
</g>
<g id="pb">
<clipPath id="cb"><rect x="60.2" y="198.4" width="151.3" height="122.1"/></clipPath>
<g clip-path="url(#cb)">
<path d="M169 195 L169.5 195.81 L170 196.61 L170.5 197.38 L171 198.12 L171.5 198.81 L172 199.49 L172.5 200.14 L173 200.78 L173.5 201.4 L174 202 L174.5 202.6 L175 203.19 L175.5 203.78 L176 204.37 L176.5 204.95 L177 205.54 L177.5 206.13 L178 206.73 L178.5 207.35 L179 207.99 L179.5 208.65 L180 209.33 L180.5 210.01 L181 210.7 L181.5 211.38 L182 212.05 L182.5 212.7 L183 213.33 L183.5 213.93 L184 214.48 L184.5 214.99 L185 215.45 L185.5 215.85 L186 216.22 L186.5 216.54 L187 216.84 L187.5 217.1" fill="none" stroke="#19d7e8" stroke-width="1.5"/>
<path d="M168 195a1 1 0 1 0 2 0a1 1 0 1 0 -2 0zM169.61 197.53a1 1 0 1 0 2 0a1 1 0 1 0 -2 0zM171.36 199.96a1 1 0 1 0 2 0a1 1 0 1 0 -2 0zM173.25 202.3a1 1 0 1 0 2 0a1 1 0 1 0 -2 0zM175.19 204.59a1 1 0 1 0 2 0a1 1 0 1 0 -2 0zM177.12 206.88a1 1 0 1 0 2 0a1 1 0 1 0 -2 0zM178.95 209.26a1 1 0 1 0 2 0a1 1 0 1 0 -2 0zM180.72 211.68a1 1 0 1 0 2 0a1 1 0 1 0 -2 0zM182.59 214.03a1 1 0 1 0 2 0a1 1 0 1 0 -2 0zM184.78 216.06a1 1 0 1 0 2 0a1 1 0 1 0 -2 0z" fill="#19d7e8"/>
<path d="M60.2 203.8 L60.7 204.54 L61.2 205.32 L61.7 206.15 L62.2 207.02 L62.7 207.9 L63.2 208.8 L63.7 209.68 L64.2 210.55 L64.7 211.37 L65.2 212.15 L65.7 212.95 L66.2 213.77 L66.7 214.6 L67.2 215.41 L67.7 216.2 L68.2 216.92 L68.7 217.57 L69.2 218.12 L69.7 218.55 L70.2 218.85 L70.7 219.09 L71.2 219.31 L71.7 219.53 L72.2 219.72 L72.7 219.89 L73.2 220.03 L73.7 220.15 L74.2 220.24 L74.7 220.29 L75.2 220.3 L75.7 220.25 L76.2 220.15 L76.7 220.01 L77.2 219.83 L77.7 219.64 L78.2 219.43 L78.7 219.22 L79.2 219.03 L79.7 218.86 L80.2 218.72 L80.7 218.63 L81.2 218.6 L81.7 218.7 L82.2 218.97 L82.7 219.37 L83.2 219.87 L83.7 220.42 L84.2 220.98 L84.7 221.52 L85.2 222 L85.7 222.45 L86.2 222.92 L86.7 223.4 L87.2 223.9 L87.7 224.39 L88.2 224.88 L88.7 225.36 L89.2 225.82 L89.7 226.25 L90.2 226.64 L90.7 227 L91.2 227.3 L91.7 227.58 L92.2 227.87 L92.7 228.15 L93.2 228.43 L93.7 228.68 L94.2 228.91 L94.7 229.1 L95.2 229.25 L95.7 229.35 L96.2 229.4 L96.7 229.38 L97.2 229.3 L97.7 229.17 L98.2 228.99 L98.7 228.77 L99.2 228.53 L99.7 228.25 L100.2 227.96 L100.7 227.66 L101.2 227.36 L101.7 227.03 L102.2 226.61 L102.7 226.11 L103.2 225.56 L103.7 224.95 L104.2 224.32 L104.7 223.67 L105.2 223.02 L105.7 222.38 L106.2 221.77 L106.7 221.2 L107.2 220.69 L107.7 220.23 L108.2 219.76 L108.7 219.28 L109.2 218.82 L109.7 218.36 L110.2 217.91 L110.7 217.49 L111.2 217.09 L111.7 216.73 L112.2 216.4 L112.7 216.12 L113.2 215.88 L113.7 215.69 L114.2 215.53 L114.7 215.38 L115.2 215.26 L115.7 215.14 L116.2 215.03 L116.7 214.93 L117.2 214.83 L117.7 214.72 L118.2 214.61 L118.7 214.49 L119.2 214.36 L119.7 214.21 L120.2 214.06 L120.7 213.91 L121.2 213.76 L121.7 213.6 L122.2 213.43 L122.7 213.24 L123.2 213.04 L123.7 212.81 L124.2 212.56 L124.7 212.28 L125.2 211.91 L125.7 211.47 L126.2 210.95 L126.7 210.39 L127.2 209.79 L127.7 209.18 L128.2 208.56 L128.7 207.96 L129.2 207.34 L129.7 206.69 L130.2 206.02 L130.7 205.32 L131.2 204.6 L131.7 203.85 L132.2 203.08 L132.7 202.27 L133.2 201.43 L133.7 200.55 L134.2 199.64 L134.7 198.68 L135.2 197.7 L135.7 196.68 L136.2 195.64" fill="none" stroke="#22e622" stroke-width="0.9"/>
<path d="M59.1 202.7h2.2v2.2h-2.2zM60.71 205.23h2.2v2.2h-2.2zM62.18 207.84h2.2v2.2h-2.2zM63.7 210.43h2.2v2.2h-2.2zM65.29 212.98h2.2v2.2h-2.2zM66.89 215.51h2.2v2.2h-2.2zM68.95 217.66h2.2v2.2h-2.2zM71.71 218.82h2.2v2.2h-2.2zM74.66 219.14h2.2v2.2h-2.2zM77.49 218.17h2.2v2.2h-2.2zM80.39 217.56h2.2v2.2h-2.2zM82.68 219.41h2.2v2.2h-2.2zM84.8 221.53h2.2v2.2h-2.2zM86.95 223.63h2.2v2.2h-2.2zM89.2 225.61h2.2v2.2h-2.2zM91.77 227.15h2.2v2.2h-2.2zM94.55 228.24h2.2v2.2h-2.2zM97.46 227.74h2.2v2.2h-2.2zM100.07 226.28h2.2v2.2h-2.2zM102.27 224.25h2.2v2.2h-2.2zM104.12 221.89h2.2v2.2h-2.2zM106.08 219.62h2.2v2.2h-2.2zM108.26 217.57h2.2v2.2h-2.2zM110.57 215.65h2.2v2.2h-2.2zM113.27 214.38h2.2v2.2h-2.2zM116.19 213.71h2.2v2.2h-2.2zM119.1 212.96h2.2v2.2h-2.2zM121.94 212h2.2v2.2h-2.2zM124.49 210.46h2.2v2.2h-2.2zM126.48 208.23h2.2v2.2h-2.2zM128.37 205.89h2.2v2.2h-2.2zM130.13 203.46h2.2v2.2h-2.2zM131.74 200.94h2.2v2.2h-2.2zM133.21 198.32h2.2v2.2h-2.2zM134.57 195.65h2.2v2.2h-2.2z" fill="#22e622"/>
<path d="M156.2 195 L156.7 195.52 L157.2 196.11 L157.7 196.76 L158.2 197.48 L158.7 198.24 L159.2 199.09 L159.7 200.09 L160.2 201.18 L160.7 202.28 L161.2 203.34 L161.7 204.28 L162.2 205.16 L162.7 206.02 L163.2 206.86 L163.7 207.67 L164.2 208.44 L164.7 209.16 L165.2 209.84 L165.7 210.48 L166.2 211.08 L166.7 211.67 L167.2 212.23 L167.7 212.77 L168.2 213.29 L168.7 213.79 L169.2 214.27 L169.7 214.72 L170.2 215.16 L170.7 215.58 L171.2 216 L171.7 216.41 L172.2 216.82 L172.7 217.22 L173.2 217.61 L173.7 217.97 L174.2 218.31 L174.7 218.63 L175.2 218.91 L175.7 219.16 L176.2 219.36 L176.7 219.54 L177.2 219.71 L177.7 219.88 L178.2 220.04 L178.7 220.2 L179.2 220.34 L179.7 220.48 L180.2 220.6 L180.7 220.71 L181.2 220.81 L181.7 220.89 L182.2 220.94 L182.7 220.98 L183.2 221 L183.7 220.99 L184.2 220.96 L184.7 220.91 L185.2 220.85 L185.7 220.77 L186.2 220.68 L186.7 220.58 L187.2 220.48 L187.7 220.39 L188.2 220.29 L188.7 220.2 L189.2 220.13 L189.7 220.06 L190.2 220 L190.7 219.95 L191.2 219.9 L191.7 219.85 L192.2 219.81 L192.7 219.76 L193.2 219.71 L193.7 219.65 L194.2 219.59 L194.7 219.52 L195.2 219.44 L195.7 219.34 L196.2 219.23 L196.7 219.1 L197.2 218.96 L197.7 218.79 L198.2 218.61 L198.7 218.41 L199.2 218.19 L199.7 217.95 L200.2 217.69 L200.7 217.42 L201.2 217.12 L201.7 216.79 L202.2 216.35 L202.7 215.81 L203.2 215.2 L203.7 214.53 L204.2 213.83 L204.7 213.12 L205.2 212.41 L205.7 211.72 L206.2 210.99 L206.7 210.21 L207.2 209.4 L207.7 208.59 L208.2 207.8 L208.7 207.05 L209.2 206.37 L209.7 205.77 L210.2 205.22 L210.7 204.72 L211.2 204.26" fill="none" stroke="#22e622" stroke-width="0.9"/>
<path d="M155.1 193.9h2.2v2.2h-2.2zM156.99 196.22h2.2v2.2h-2.2zM158.51 198.81h2.2v2.2h-2.2zM159.77 201.53h2.2v2.2h-2.2zM161.17 204.18h2.2v2.2h-2.2zM162.72 206.75h2.2v2.2h-2.2zM164.46 209.19h2.2v2.2h-2.2zM166.41 211.47h2.2v2.2h-2.2zM168.54 213.57h2.2v2.2h-2.2zM170.84 215.51h2.2v2.2h-2.2zM173.24 217.3h2.2v2.2h-2.2zM175.95 218.56h2.2v2.2h-2.2zM178.82 219.43h2.2v2.2h-2.2zM181.78 219.89h2.2v2.2h-2.2zM184.76 219.64h2.2v2.2h-2.2zM187.71 219.09h2.2v2.2h-2.2zM190.69 218.75h2.2v2.2h-2.2zM193.67 218.4h2.2v2.2h-2.2zM196.58 217.7h2.2v2.2h-2.2zM199.32 216.47h2.2v2.2h-2.2zM201.66 214.64h2.2v2.2h-2.2zM203.45 212.23h2.2v2.2h-2.2zM205.17 209.78h2.2v2.2h-2.2zM206.76 207.23h2.2v2.2h-2.2zM208.5 204.79h2.2v2.2h-2.2z" fill="#22e622"/>
<path d="M60.2 203 L60.7 203.67 L61.2 204.4 L61.7 205.2 L62.2 206.05 L62.7 206.94 L63.2 207.84 L63.7 208.73 L64.2 209.61 L64.7 210.46 L65.2 211.26 L65.7 212.07 L66.2 212.92 L66.7 213.78 L67.2 214.64 L67.7 215.46 L68.2 216.22 L68.7 216.9 L69.2 217.48 L69.7 217.94 L70.2 218.25 L70.7 218.51 L71.2 218.75 L71.7 218.97 L72.2 219.18 L72.7 219.36 L73.2 219.52 L73.7 219.64 L74.2 219.73 L74.7 219.79 L75.2 219.8 L75.7 219.75 L76.2 219.63 L76.7 219.46 L77.2 219.25 L77.7 219.02 L78.2 218.78 L78.7 218.53 L79.2 218.3 L79.7 218.1 L80.2 217.94 L80.7 217.84 L81.2 217.8 L81.7 217.9 L82.2 218.17 L82.7 218.58 L83.2 219.08 L83.7 219.63 L84.2 220.2 L84.7 220.73 L85.2 221.2 L85.7 221.63 L86.2 222.08 L86.7 222.54 L87.2 223.01 L87.7 223.48 L88.2 223.94 L88.7 224.38 L89.2 224.81 L89.7 225.21 L90.2 225.58 L90.7 225.91 L91.2 226.2 L91.7 226.47 L92.2 226.74 L92.7 227.01 L93.2 227.27 L93.7 227.51 L94.2 227.73 L94.7 227.91 L95.2 228.06 L95.7 228.16 L96.2 228.2 L96.7 228.18 L97.2 228.11 L97.7 227.98 L98.2 227.82 L98.7 227.61 L99.2 227.38 L99.7 227.12 L100.2 226.84 L100.7 226.55 L101.2 226.26 L101.7 225.93 L102.2 225.5 L102.7 225 L103.2 224.42 L103.7 223.79 L104.2 223.13 L104.7 222.44 L105.2 221.76 L105.7 221.08 L106.2 220.44 L106.7 219.84 L107.2 219.3 L107.7 218.81 L108.2 218.31 L108.7 217.81 L109.2 217.31 L109.7 216.82 L110.2 216.35 L110.7 215.9 L111.2 215.48 L111.7 215.09 L112.2 214.74 L112.7 214.44 L113.2 214.19 L113.7 213.98 L114.2 213.81 L114.7 213.66 L115.2 213.53 L115.7 213.41 L116.2 213.3 L116.7 213.19 L117.2 213.08 L117.7 212.97 L118.2 212.85 L118.7 212.72 L119.2 212.57 L119.7 212.4 L120.2 212.22 L120.7 212.04 L121.2 211.84 L121.7 211.63 L122.2 211.41 L122.7 211.17 L123.2 210.91 L123.7 210.62 L124.2 210.3 L124.7 209.95 L125.2 209.5 L125.7 208.96 L126.2 208.34 L126.7 207.66 L127.2 206.96 L127.7 206.23 L128.2 205.52 L128.7 204.82 L129.2 204.13 L129.7 203.42 L130.2 202.69 L130.7 201.94 L131.2 201.16 L131.7 200.36 L132.2 199.52 L132.7 198.64 L133.2 197.7 L133.7 196.69 L134.2 195.64" fill="none" stroke="#e39a1c" stroke-width="0.9"/>
<path d="M59 203a1.2 1.2 0 1 0 2.4 0a1.2 1.2 0 1 0 -2.4 0zM60.67 205.49a1.2 1.2 0 1 0 2.4 0a1.2 1.2 0 1 0 -2.4 0zM62.15 208.1a1.2 1.2 0 1 0 2.4 0a1.2 1.2 0 1 0 -2.4 0zM63.65 210.7a1.2 1.2 0 1 0 2.4 0a1.2 1.2 0 1 0 -2.4 0zM65.2 213.27a1.2 1.2 0 1 0 2.4 0a1.2 1.2 0 1 0 -2.4 0zM66.75 215.83a1.2 1.2 0 1 0 2.4 0a1.2 1.2 0 1 0 -2.4 0zM68.71 218.07a1.2 1.2 0 1 0 2.4 0a1.2 1.2 0 1 0 -2.4 0zM71.43 219.33a1.2 1.2 0 1 0 2.4 0a1.2 1.2 0 1 0 -2.4 0zM74.37 219.76a1.2 1.2 0 1 0 2.4 0a1.2 1.2 0 1 0 -2.4 0zM77.16 218.7a1.2 1.2 0 1 0 2.4 0a1.2 1.2 0 1 0 -2.4 0zM80 217.8a1.2 1.2 0 1 0 2.4 0a1.2 1.2 0 1 0 -2.4 0zM82.38 219.5a1.2 1.2 0 1 0 2.4 0a1.2 1.2 0 1 0 -2.4 0zM84.49 221.62a1.2 1.2 0 1 0 2.4 0a1.2 1.2 0 1 0 -2.4 0zM86.7 223.66a1.2 1.2 0 1 0 2.4 0a1.2 1.2 0 1 0 -2.4 0zM89 225.58a1.2 1.2 0 1 0 2.4 0a1.2 1.2 0 1 0 -2.4 0zM91.6 227.07a1.2 1.2 0 1 0 2.4 0a1.2 1.2 0 1 0 -2.4 0zM94.39 228.14a1.2 1.2 0 1 0 2.4 0a1.2 1.2 0 1 0 -2.4 0zM97.31 227.69a1.2 1.2 0 1 0 2.4 0a1.2 1.2 0 1 0 -2.4 0zM99.96 226.28a1.2 1.2 0 1 0 2.4 0a1.2 1.2 0 1 0 -2.4 0zM102.14 224.24a1.2 1.2 0 1 0 2.4 0a1.2 1.2 0 1 0 -2.4 0zM103.94 221.84a1.2 1.2 0 1 0 2.4 0a1.2 1.2 0 1 0 -2.4 0zM105.81 219.5a1.2 1.2 0 1 0 2.4 0a1.2 1.2 0 1 0 -2.4 0zM107.93 217.38a1.2 1.2 0 1 0 2.4 0a1.2 1.2 0 1 0 -2.4 0zM110.15 215.36a1.2 1.2 0 1 0 2.4 0a1.2 1.2 0 1 0 -2.4 0zM112.75 213.9a1.2 1.2 0 1 0 2.4 0a1.2 1.2 0 1 0 -2.4 0zM115.65 213.16a1.2 1.2 0 1 0 2.4 0a1.2 1.2 0 1 0 -2.4 0zM118.55 212.38a1.2 1.2 0 1 0 2.4 0a1.2 1.2 0 1 0 -2.4 0zM121.33 211.25a1.2 1.2 0 1 0 2.4 0a1.2 1.2 0 1 0 -2.4 0zM123.84 209.64a1.2 1.2 0 1 0 2.4 0a1.2 1.2 0 1 0 -2.4 0zM125.74 207.32a1.2 1.2 0 1 0 2.4 0a1.2 1.2 0 1 0 -2.4 0zM127.47 204.87a1.2 1.2 0 1 0 2.4 0a1.2 1.2 0 1 0 -2.4 0zM129.18 202.41a1.2 1.2 0 1 0 2.4 0a1.2 1.2 0 1 0 -2.4 0zM130.79 199.88a1.2 1.2 0 1 0 2.4 0a1.2 1.2 0 1 0 -2.4 0zM132.22 197.25a1.2 1.2 0 1 0 2.4 0a1.2 1.2 0 1 0 -2.4 0z" fill="#e39a1c"/>
<path d="M158.2 195 L158.7 195.82 L159.2 196.66 L159.7 197.52 L160.2 198.4 L160.7 199.33 L161.2 200.3 L161.7 201.29 L162.2 202.27 L162.7 203.22 L163.2 204.1 L163.7 204.94 L164.2 205.76 L164.7 206.56 L165.2 207.34 L165.7 208.09 L166.2 208.8 L166.7 209.47 L167.2 210.1 L167.7 210.69 L168.2 211.26 L168.7 211.81 L169.2 212.34 L169.7 212.85 L170.2 213.33 L170.7 213.8 L171.2 214.25 L171.7 214.68 L172.2 215.1 L172.7 215.51 L173.2 215.92 L173.7 216.32 L174.2 216.71 L174.7 217.08 L175.2 217.44 L175.7 217.77 L176.2 218.07 L176.7 218.34 L177.2 218.56 L177.7 218.76 L178.2 218.95 L178.7 219.14 L179.2 219.32 L179.7 219.5 L180.2 219.66 L180.7 219.81 L181.2 219.93 L181.7 220.04 L182.2 220.12 L182.7 220.18 L183.2 220.2 L183.7 220.19 L184.2 220.16 L184.7 220.1 L185.2 220.02 L185.7 219.93 L186.2 219.83 L186.7 219.72 L187.2 219.61 L187.7 219.5 L188.2 219.4 L188.7 219.3 L189.2 219.23 L189.7 219.16 L190.2 219.11 L190.7 219.06 L191.2 219.02 L191.7 218.98 L192.2 218.94 L192.7 218.9 L193.2 218.86 L193.7 218.82 L194.2 218.76 L194.7 218.7 L195.2 218.63 L195.7 218.55 L196.2 218.44 L196.7 218.31 L197.2 218.16 L197.7 217.99 L198.2 217.79 L198.7 217.58 L199.2 217.34 L199.7 217.09 L200.2 216.82 L200.7 216.53 L201.2 216.23 L201.7 215.89 L202.2 215.44 L202.7 214.9 L203.2 214.29 L203.7 213.62 L204.2 212.92 L204.7 212.21 L205.2 211.51 L205.7 210.82 L206.2 210.09 L206.7 209.31 L207.2 208.5 L207.7 207.69 L208.2 206.9 L208.7 206.15 L209.2 205.47 L209.7 204.87 L210.2 204.32 L210.7 203.82 L211.2 203.36" fill="none" stroke="#e39a1c" stroke-width="0.9"/>
<path d="M157 195a1.2 1.2 0 1 0 2.4 0a1.2 1.2 0 1 0 -2.4 0zM158.53 197.58a1.2 1.2 0 1 0 2.4 0a1.2 1.2 0 1 0 -2.4 0zM159.96 200.22a1.2 1.2 0 1 0 2.4 0a1.2 1.2 0 1 0 -2.4 0zM161.33 202.89a1.2 1.2 0 1 0 2.4 0a1.2 1.2 0 1 0 -2.4 0zM162.83 205.48a1.2 1.2 0 1 0 2.4 0a1.2 1.2 0 1 0 -2.4 0zM164.45 208.01a1.2 1.2 0 1 0 2.4 0a1.2 1.2 0 1 0 -2.4 0zM166.25 210.4a1.2 1.2 0 1 0 2.4 0a1.2 1.2 0 1 0 -2.4 0zM168.28 212.62a1.2 1.2 0 1 0 2.4 0a1.2 1.2 0 1 0 -2.4 0zM170.47 214.66a1.2 1.2 0 1 0 2.4 0a1.2 1.2 0 1 0 -2.4 0zM172.8 216.55a1.2 1.2 0 1 0 2.4 0a1.2 1.2 0 1 0 -2.4 0zM175.29 218.22a1.2 1.2 0 1 0 2.4 0a1.2 1.2 0 1 0 -2.4 0zM178.07 219.35a1.2 1.2 0 1 0 2.4 0a1.2 1.2 0 1 0 -2.4 0zM180.96 220.12a1.2 1.2 0 1 0 2.4 0a1.2 1.2 0 1 0 -2.4 0zM183.95 220.03a1.2 1.2 0 1 0 2.4 0a1.2 1.2 0 1 0 -2.4 0zM186.88 219.42a1.2 1.2 0 1 0 2.4 0a1.2 1.2 0 1 0 -2.4 0zM189.86 219.03a1.2 1.2 0 1 0 2.4 0a1.2 1.2 0 1 0 -2.4 0zM192.85 218.78a1.2 1.2 0 1 0 2.4 0a1.2 1.2 0 1 0 -2.4 0zM195.79 218.22a1.2 1.2 0 1 0 2.4 0a1.2 1.2 0 1 0 -2.4 0zM198.55 217.06a1.2 1.2 0 1 0 2.4 0a1.2 1.2 0 1 0 -2.4 0zM201.03 215.4a1.2 1.2 0 1 0 2.4 0a1.2 1.2 0 1 0 -2.4 0zM202.9 213.06a1.2 1.2 0 1 0 2.4 0a1.2 1.2 0 1 0 -2.4 0zM204.64 210.62a1.2 1.2 0 1 0 2.4 0a1.2 1.2 0 1 0 -2.4 0zM206.26 208.09a1.2 1.2 0 1 0 2.4 0a1.2 1.2 0 1 0 -2.4 0zM207.91 205.59a1.2 1.2 0 1 0 2.4 0a1.2 1.2 0 1 0 -2.4 0zM209.96 203.4a1.2 1.2 0 1 0 2.4 0a1.2 1.2 0 1 0 -2.4 0z" fill="#e39a1c"/>
<path d="M61.2 195.5 L61.7 196.38 L62.2 197.22 L62.7 197.95 L63.2 198.49 L63.7 198.91 L64.2 199.27 L64.7 199.59 L65.2 199.87 L65.7 200.13 L66.2 200.37 L66.7 200.6 L67.2 200.84 L67.7 201.1 L68.2 201.39 L68.7 201.71 L69.2 202.08 L69.7 202.5 L70.2 202.96 L70.7 203.47 L71.2 204 L71.7 204.56 L72.2 205.13 L72.7 205.72 L73.2 206.31 L73.7 206.91 L74.2 207.49 L74.7 208.06 L75.2 208.61 L75.7 209.21 L76.2 209.87 L76.7 210.57 L77.2 211.29 L77.7 212 L78.2 212.69 L78.7 213.34 L79.2 213.91 L79.7 214.4 L80.2 214.77 L80.7 215.01 L81.2 215.1 L81.7 214.93 L82.2 214.46 L82.7 213.76 L83.2 212.89 L83.7 211.93 L84.2 210.93 L84.7 209.96 L85.2 209.1 L85.7 208.3 L86.2 207.49 L86.7 206.67 L87.2 205.83 L87.7 204.98 L88.2 204.1 L88.7 203.19 L89.2 202.25 L89.7 201.29 L90.2 200.32 L90.7 199.36 L91.2 198.4 L91.7 197.45 L92.2 196.51 L92.7 195.57" fill="none" stroke="#7d1a9a" stroke-width="0.9"/>
<path d="M60.05 195.5a1.15 1.15 0 1 0 2.3 0a1.15 1.15 0 1 0 -2.3 0zM61.63 198.04a1.15 1.15 0 1 0 2.3 0a1.15 1.15 0 1 0 -2.3 0zM64.01 199.85a1.15 1.15 0 1 0 2.3 0a1.15 1.15 0 1 0 -2.3 0zM66.69 201.18a1.15 1.15 0 1 0 2.3 0a1.15 1.15 0 1 0 -2.3 0zM69.08 202.99a1.15 1.15 0 1 0 2.3 0a1.15 1.15 0 1 0 -2.3 0zM71.11 205.2a1.15 1.15 0 1 0 2.3 0a1.15 1.15 0 1 0 -2.3 0zM73.05 207.49a1.15 1.15 0 1 0 2.3 0a1.15 1.15 0 1 0 -2.3 0zM74.98 209.78a1.15 1.15 0 1 0 2.3 0a1.15 1.15 0 1 0 -2.3 0zM76.71 212.23a1.15 1.15 0 1 0 2.3 0a1.15 1.15 0 1 0 -2.3 0zM78.67 214.49a1.15 1.15 0 1 0 2.3 0a1.15 1.15 0 1 0 -2.3 0zM81.19 214.26a1.15 1.15 0 1 0 2.3 0a1.15 1.15 0 1 0 -2.3 0zM82.68 211.66a1.15 1.15 0 1 0 2.3 0a1.15 1.15 0 1 0 -2.3 0zM84.1 209.02a1.15 1.15 0 1 0 2.3 0a1.15 1.15 0 1 0 -2.3 0zM85.67 206.46a1.15 1.15 0 1 0 2.3 0a1.15 1.15 0 1 0 -2.3 0zM87.18 203.87a1.15 1.15 0 1 0 2.3 0a1.15 1.15 0 1 0 -2.3 0zM88.59 201.22a1.15 1.15 0 1 0 2.3 0a1.15 1.15 0 1 0 -2.3 0zM89.97 198.56a1.15 1.15 0 1 0 2.3 0a1.15 1.15 0 1 0 -2.3 0zM91.37 195.9a1.15 1.15 0 1 0 2.3 0a1.15 1.15 0 1 0 -2.3 0z" fill="#7d1a9a"/>
<path d="M172.5 195 L173 196.01 L173.5 196.99 L174 197.9 L174.5 198.72 L175 199.48 L175.5 200.21 L176 200.91 L176.5 201.57 L177 202.22 L177.5 202.85 L178 203.48 L178.5 204.1 L179 204.72 L179.5 205.35 L180 206 L180.5 206.64 L181 207.29 L181.5 207.93 L182 208.56 L182.5 209.16 L183 209.75 L183.5 210.3 L184 210.81 L184.5 211.29 L185 211.79 L185.5 212.31 L186 212.82 L186.5 213.31 L187 213.76 L187.5 214.14 L188 214.44 L188.5 214.63 L189 214.7 L189.5 214.62 L190 214.4 L190.5 214.06 L191 213.63 L191.5 213.13 L192 212.59 L192.5 212.04 L193 211.5 L193.5 211 L194 210.49 L194.5 209.93 L195 209.35 L195.5 208.74 L196 208.12 L196.5 207.48 L197 206.84 L197.5 206.21 L198 205.59 L198.5 204.98 L199 204.38 L199.5 203.78 L200 203.19 L200.5 202.59 L201 201.99 L201.5 201.39 L202 200.8 L202.5 200.2 L203 199.6 L203.5 199 L204 198.4 L204.5 197.8 L205 197.2 L205.5 196.6 L206 196" fill="none" stroke="#7d1a9a" stroke-width="0.9"/>
<path d="M171.35 195a1.15 1.15 0 1 0 2.3 0a1.15 1.15 0 1 0 -2.3 0zM172.72 197.67a1.15 1.15 0 1 0 2.3 0a1.15 1.15 0 1 0 -2.3 0zM174.34 200.19a1.15 1.15 0 1 0 2.3 0a1.15 1.15 0 1 0 -2.3 0zM176.14 202.59a1.15 1.15 0 1 0 2.3 0a1.15 1.15 0 1 0 -2.3 0zM178.02 204.93a1.15 1.15 0 1 0 2.3 0a1.15 1.15 0 1 0 -2.3 0zM179.86 207.3a1.15 1.15 0 1 0 2.3 0a1.15 1.15 0 1 0 -2.3 0zM181.75 209.63a1.15 1.15 0 1 0 2.3 0a1.15 1.15 0 1 0 -2.3 0zM183.84 211.78a1.15 1.15 0 1 0 2.3 0a1.15 1.15 0 1 0 -2.3 0zM185.99 213.86a1.15 1.15 0 1 0 2.3 0a1.15 1.15 0 1 0 -2.3 0zM188.73 214.45a1.15 1.15 0 1 0 2.3 0a1.15 1.15 0 1 0 -2.3 0zM190.96 212.47a1.15 1.15 0 1 0 2.3 0a1.15 1.15 0 1 0 -2.3 0zM193.03 210.29a1.15 1.15 0 1 0 2.3 0a1.15 1.15 0 1 0 -2.3 0zM194.95 207.99a1.15 1.15 0 1 0 2.3 0a1.15 1.15 0 1 0 -2.3 0zM196.81 205.63a1.15 1.15 0 1 0 2.3 0a1.15 1.15 0 1 0 -2.3 0zM198.73 203.33a1.15 1.15 0 1 0 2.3 0a1.15 1.15 0 1 0 -2.3 0zM200.65 201.03a1.15 1.15 0 1 0 2.3 0a1.15 1.15 0 1 0 -2.3 0zM202.58 198.73a1.15 1.15 0 1 0 2.3 0a1.15 1.15 0 1 0 -2.3 0zM204.5 196.42a1.15 1.15 0 1 0 2.3 0a1.15 1.15 0 1 0 -2.3 0z" fill="#7d1a9a"/>
<path d="M206 201 L206.5 200.53 L207 200.1 L207.5 199.72 L208 199.41 L208.5 199.2 L209 199.04 L209.5 198.9 L210 198.78 L210.5 198.68 L211 198.62 L211.5 198.6" fill="none" stroke="#7d1a9a" stroke-width="0.9"/>
<path d="M205 201a1 1 0 1 0 2 0a1 1 0 1 0 -2 0zM207.4 199.24a1 1 0 1 0 2 0a1 1 0 1 0 -2 0zM210.32 198.61a1 1 0 1 0 2 0a1 1 0 1 0 -2 0z" fill="#7d1a9a"/>
<path d="M60.2 200.6 L60.7 200.26 L61.2 199.88 L61.7 199.47 L62.2 199.01 L62.7 198.51 L63.2 197.97 L63.7 197.37" fill="none" stroke="#2a49e0" stroke-width="0.9"/>
<path d="M59.3 199.7h1.8v1.8h-1.8zM61.61 197.8h1.8v1.8h-1.8z" fill="#2a49e0"/>
<path d="M60.2 210.9 L60.7 211.33 L61.2 211.79 L61.7 212.28 L62.2 212.78 L62.7 213.29 L63.2 213.82 L63.7 214.35 L64.2 214.9 L64.7 215.46 L65.2 216.02 L65.7 216.59 L66.2 217.16 L66.7 217.74 L67.2 218.32 L67.7 218.9 L68.2 219.5 L68.7 220.1 L69.2 220.71 L69.7 221.33 L70.2 221.95 L70.7 222.58 L71.2 223.22 L71.7 223.86 L72.2 224.49 L72.7 225.14 L73.2 225.78 L73.7 226.42 L74.2 227.06 L74.7 227.69 L75.2 228.33 L75.7 228.99 L76.2 229.7 L76.7 230.42 L77.2 231.16 L77.7 231.9 L78.2 232.63 L78.7 233.33 L79.2 233.99 L79.7 234.6 L80.2 235.15 L80.7 235.62 L81.2 236 L81.7 236.33 L82.2 236.67 L82.7 236.99 L83.2 237.29 L83.7 237.57 L84.2 237.81 L84.7 238.01 L85.2 238.17 L85.7 238.27 L86.2 238.3 L86.7 238.26 L87.2 238.16 L87.7 238.01 L88.2 237.8 L88.7 237.56 L89.2 237.29 L89.7 237 L90.2 236.7 L90.7 236.41 L91.2 236.12 L91.7 235.84 L92.2 235.6 L92.7 235.37 L93.2 235.12 L93.7 234.86 L94.2 234.6 L94.7 234.34 L95.2 234.08 L95.7 233.83 L96.2 233.59 L96.7 233.37 L97.2 233.16 L97.7 232.98 L98.2 232.83 L98.7 232.7 L99.2 232.57 L99.7 232.45 L100.2 232.34 L100.7 232.23 L101.2 232.12 L101.7 232.02 L102.2 231.93 L102.7 231.84 L103.2 231.75 L103.7 231.67 L104.2 231.59 L104.7 231.52 L105.2 231.45 L105.7 231.38 L106.2 231.32 L106.7 231.26 L107.2 231.21 L107.7 231.16 L108.2 231.11 L108.7 231.05 L109.2 231 L109.7 230.95 L110.2 230.9 L110.7 230.85 L111.2 230.81 L111.7 230.77 L112.2 230.73 L112.7 230.69 L113.2 230.66 L113.7 230.64 L114.2 230.62 L114.7 230.61 L115.2 230.6 L115.7 230.6 L116.2 230.61 L116.7 230.62 L117.2 230.63 L117.7 230.65 L118.2 230.67 L118.7 230.7 L119.2 230.73 L119.7 230.76 L120.2 230.8 L120.7 230.84 L121.2 230.88 L121.7 230.94 L122.2 231.03 L122.7 231.16 L123.2 231.33 L123.7 231.53 L124.2 231.76 L124.7 232 L125.2 232.27 L125.7 232.55 L126.2 232.84 L126.7 233.13 L127.2 233.43 L127.7 233.72 L128.2 234.03 L128.7 234.37 L129.2 234.73 L129.7 235.11 L130.2 235.51 L130.7 235.93 L131.2 236.37 L131.7 236.83 L132.2 237.3 L132.7 237.79 L133.2 238.29 L133.7 238.81 L134.2 239.38 L134.7 239.99 L135.2 240.65 L135.7 241.33 L136.2 242.04 L136.7 242.77 L137.2 243.5 L137.7 244.24 L138.2 244.97 L138.7 245.68 L139.2 246.37 L139.7 247.03 L140.2 247.69 L140.7 248.36 L141.2 249.03 L141.7 249.7 L142.2 250.36 L142.7 251 L143.2 251.62 L143.7 252.22 L144.2 252.78 L144.7 253.31 L145.2 253.8 L145.7 254.33 L146.2 254.85 L146.7 255.28 L147.2 255.55 L147.7 255.56 L148.2 255.2 L148.7 254.56 L149.2 253.78 L149.7 253.01 L150.2 252.35 L150.7 251.72 L151.2 251.08 L151.7 250.44 L152.2 249.79 L152.7 249.13 L153.2 248.47 L153.7 247.78 L154.2 247.07 L154.7 246.34 L155.2 245.6 L155.7 244.87 L156.2 244.15 L156.7 243.45 L157.2 242.79 L157.7 242.17 L158.2 241.6 L158.7 241.05 L159.2 240.51 L159.7 239.97 L160.2 239.46 L160.7 239 L161.2 238.59 L161.7 238.25 L162.2 238 L162.7 237.8 L163.2 237.61 L163.7 237.45 L164.2 237.32 L164.7 237.23 L165.2 237.2 L165.7 237.27 L166.2 237.48 L166.7 237.79 L167.2 238.19 L167.7 238.65 L168.2 239.16 L168.7 239.69 L169.2 240.23 L169.7 240.73 L170.2 241.2 L170.7 241.66 L171.2 242.17 L171.7 242.71 L172.2 243.26 L172.7 243.81 L173.2 244.34 L173.7 244.85 L174.2 245.31 L174.7 245.71 L175.2 246.04 L175.7 246.32 L176.2 246.6 L176.7 246.86 L177.2 247.08 L177.7 247.26 L178.2 247.37 L178.7 247.4 L179.2 247.33 L179.7 247.18 L180.2 246.95 L180.7 246.65 L181.2 246.3 L181.7 245.91 L182.2 245.48 L182.7 245.04 L183.2 244.58 L183.7 244.13 L184.2 243.69 L184.7 243.24 L185.2 242.76 L185.7 242.25 L186.2 241.7 L186.7 241.12 L187.2 240.52 L187.7 239.89 L188.2 239.25 L188.7 238.59 L189.2 237.92 L189.7 237.25 L190.2 236.57 L190.7 235.89 L191.2 235.18 L191.7 234.44 L192.2 233.68 L192.7 232.9 L193.2 232.11 L193.7 231.31 L194.2 230.5 L194.7 229.7 L195.2 228.89 L195.7 228.09 L196.2 227.31 L196.7 226.53 L197.2 225.74 L197.7 224.92 L198.2 224.1 L198.7 223.27 L199.2 222.45 L199.7 221.64 L200.2 220.85 L200.7 220.09 L201.2 219.36 L201.7 218.68 L202.2 218.04 L202.7 217.45 L203.2 216.86 L203.7 216.29 L204.2 215.73 L204.7 215.2 L205.2 214.69 L205.7 214.22 L206.2 213.79 L206.7 213.4 L207.2 213.07 L207.7 212.79 L208.2 212.54 L208.7 212.29 L209.2 212.07 L209.7 211.87 L210.2 211.69 L210.7 211.55 L211.2 211.44" fill="none" stroke="#1a22e8" stroke-width="0.9"/>
<path d="M59.1 209.8h2.2v2.2h-2.2zM61.28 211.86h2.2v2.2h-2.2zM63.33 214.05h2.2v2.2h-2.2zM65.31 216.3h2.2v2.2h-2.2zM67.26 218.59h2.2v2.2h-2.2zM69.15 220.91h2.2v2.2h-2.2zM71 223.27h2.2v2.2h-2.2zM72.85 225.64h2.2v2.2h-2.2zM74.68 228.01h2.2v2.2h-2.2zM76.38 230.48h2.2v2.2h-2.2zM78.13 232.92h2.2v2.2h-2.2zM80.26 235.01h2.2v2.2h-2.2zM82.82 236.57h2.2v2.2h-2.2zM85.71 237.14h2.2v2.2h-2.2zM88.46 235.98h2.2v2.2h-2.2zM91.07 234.51h2.2v2.2h-2.2zM93.75 233.16h2.2v2.2h-2.2zM96.48 231.92h2.2v2.2h-2.2zM99.38 231.17h2.2v2.2h-2.2zM102.33 230.61h2.2v2.2h-2.2zM105.3 230.2h2.2v2.2h-2.2zM108.29 229.88h2.2v2.2h-2.2zM111.27 229.62h2.2v2.2h-2.2zM114.27 229.5h2.2v2.2h-2.2zM117.27 229.58h2.2v2.2h-2.2zM120.26 229.8h2.2v2.2h-2.2zM123.12 230.66h2.2v2.2h-2.2zM125.74 232.11h2.2v2.2h-2.2zM128.26 233.74h2.2v2.2h-2.2zM130.55 235.68h2.2v2.2h-2.2zM132.67 237.79h2.2v2.2h-2.2zM134.54 240.14h2.2v2.2h-2.2zM136.24 242.61h2.2v2.2h-2.2zM137.96 245.07h2.2v2.2h-2.2zM139.76 247.47h2.2v2.2h-2.2zM141.57 249.86h2.2v2.2h-2.2zM143.53 252.13h2.2v2.2h-2.2zM145.68 254.22h2.2v2.2h-2.2zM147.92 252.97h2.2v2.2h-2.2zM149.67 250.53h2.2v2.2h-2.2zM151.5 248.16h2.2v2.2h-2.2zM153.26 245.73h2.2v2.2h-2.2zM154.96 243.26h2.2v2.2h-2.2zM156.77 240.87h2.2v2.2h-2.2zM158.8 238.66h2.2v2.2h-2.2zM161.18 236.87h2.2v2.2h-2.2zM164.06 236.1h2.2v2.2h-2.2zM166.6 237.56h2.2v2.2h-2.2zM168.69 239.72h2.2v2.2h-2.2zM170.81 241.84h2.2v2.2h-2.2zM172.88 244h2.2v2.2h-2.2zM175.38 245.64h2.2v2.2h-2.2zM178.25 246.19h2.2v2.2h-2.2zM180.79 244.64h2.2v2.2h-2.2zM183.03 242.65h2.2v2.2h-2.2zM185.16 240.53h2.2v2.2h-2.2zM187.05 238.21h2.2v2.2h-2.2zM188.85 235.81h2.2v2.2h-2.2zM190.59 233.36h2.2v2.2h-2.2zM192.21 230.84h2.2v2.2h-2.2zM193.79 228.29h2.2v2.2h-2.2zM195.39 225.75h2.2v2.2h-2.2zM196.97 223.2h2.2v2.2h-2.2zM198.54 220.64h2.2v2.2h-2.2zM200.19 218.14h2.2v2.2h-2.2zM202.07 215.8h2.2v2.2h-2.2zM204.1 213.59h2.2v2.2h-2.2zM206.46 211.77h2.2v2.2h-2.2zM209.21 210.56h2.2v2.2h-2.2z" fill="#1a22e8"/>
<path d="M60.2 210.6 L60.7 210.9 L61.2 211.25 L61.7 211.64 L62.2 212.07 L62.7 212.52 L63.2 213 L63.7 213.5 L64.2 214.02 L64.7 214.55 L65.2 215.09 L65.7 215.64 L66.2 216.2 L66.7 216.76 L67.2 217.31 L67.7 217.87 L68.2 218.45 L68.7 219.04 L69.2 219.64 L69.7 220.26 L70.2 220.88 L70.7 221.51 L71.2 222.14 L71.7 222.79 L72.2 223.43 L72.7 224.08 L73.2 224.73 L73.7 225.38 L74.2 226.03 L74.7 226.68 L75.2 227.33 L75.7 228.01 L76.2 228.73 L76.7 229.47 L77.2 230.23 L77.7 231 L78.2 231.75 L78.7 232.47 L79.2 233.16 L79.7 233.8 L80.2 234.38 L80.7 234.88 L81.2 235.3 L81.7 235.67 L82.2 236.04 L82.7 236.4 L83.2 236.75 L83.7 237.06 L84.2 237.34 L84.7 237.57 L85.2 237.75 L85.7 237.86 L86.2 237.9 L86.7 237.87 L87.2 237.77 L87.7 237.62 L88.2 237.43 L88.7 237.2 L89.2 236.95 L89.7 236.67 L90.2 236.38 L90.7 236.09 L91.2 235.81 L91.7 235.54 L92.2 235.3 L92.7 235.06 L93.2 234.81 L93.7 234.54 L94.2 234.27 L94.7 234 L95.2 233.72 L95.7 233.45 L96.2 233.2 L96.7 232.95 L97.2 232.72 L97.7 232.51 L98.2 232.33 L98.7 232.17 L99.2 232.02 L99.7 231.87 L100.2 231.73 L100.7 231.59 L101.2 231.46 L101.7 231.33 L102.2 231.21 L102.7 231.09 L103.2 230.98 L103.7 230.87 L104.2 230.76 L104.7 230.66 L105.2 230.57 L105.7 230.47 L106.2 230.38 L106.7 230.3 L107.2 230.22 L107.7 230.13 L108.2 230.05 L108.7 229.97 L109.2 229.88 L109.7 229.8 L110.2 229.72 L110.7 229.64 L111.2 229.56 L111.7 229.49 L112.2 229.42 L112.7 229.36 L113.2 229.31 L113.7 229.27 L114.2 229.24 L114.7 229.21 L115.2 229.2 L115.7 229.2 L116.2 229.2 L116.7 229.2 L117.2 229.2 L117.7 229.2 L118.2 229.2 L118.7 229.2 L119.2 229.2 L119.7 229.2 L120.2 229.2 L120.7 229.2 L121.2 229.2 L121.7 229.21 L122.2 229.27 L122.7 229.39 L123.2 229.54 L123.7 229.74 L124.2 229.97 L124.7 230.23 L125.2 230.51 L125.7 230.8 L126.2 231.11 L126.7 231.41 L127.2 231.72 L127.7 232.02 L128.2 232.35 L128.7 232.7 L129.2 233.09 L129.7 233.5 L130.2 233.93 L130.7 234.39 L131.2 234.87 L131.7 235.37 L132.2 235.89 L132.7 236.42 L133.2 236.97 L133.7 237.53 L134.2 238.14 L134.7 238.81 L135.2 239.52 L135.7 240.27 L136.2 241.04 L136.7 241.83 L137.2 242.63 L137.7 243.43 L138.2 244.22 L138.7 244.99 L139.2 245.73 L139.7 246.44 L140.2 247.14 L140.7 247.86 L141.2 248.58 L141.7 249.29 L142.2 250 L142.7 250.68 L143.2 251.34 L143.7 251.97 L144.2 252.56 L144.7 253.1 L145.2 253.6 L145.7 254.13 L146.2 254.65 L146.7 255.08 L147.2 255.35 L147.7 255.36 L148.2 255 L148.7 254.36 L149.2 253.58 L149.7 252.81 L150.2 252.15 L150.7 251.52 L151.2 250.89 L151.7 250.24 L152.2 249.59 L152.7 248.93 L153.2 248.27 L153.7 247.58 L154.2 246.86 L154.7 246.13 L155.2 245.4 L155.7 244.66 L156.2 243.94 L156.7 243.23 L157.2 242.55 L157.7 241.9 L158.2 241.3 L158.7 240.71 L159.2 240.12 L159.7 239.53 L160.2 238.97 L160.7 238.45 L161.2 237.98 L161.7 237.6 L162.2 237.3 L162.7 237.06 L163.2 236.82 L163.7 236.62 L164.2 236.45 L164.7 236.34 L165.2 236.3 L165.7 236.37 L166.2 236.55 L166.7 236.83 L167.2 237.19 L167.7 237.61 L168.2 238.07 L168.7 238.55 L169.2 239.02 L169.7 239.48 L170.2 239.9 L170.7 240.32 L171.2 240.79 L171.7 241.29 L172.2 241.8 L172.7 242.31 L173.2 242.8 L173.7 243.26 L174.2 243.66 L174.7 244 L175.2 244.26 L175.7 244.45 L176.2 244.63 L176.7 244.81 L177.2 244.96 L177.7 245.09 L178.2 245.2 L178.7 245.27 L179.2 245.3 L179.7 245.27 L180.2 245.15 L180.7 244.95 L181.2 244.68 L181.7 244.36 L182.2 243.99 L182.7 243.6 L183.2 243.19 L183.7 242.78 L184.2 242.38 L184.7 241.97 L185.2 241.53 L185.7 241.04 L186.2 240.52 L186.7 239.96 L187.2 239.38 L187.7 238.78 L188.2 238.15 L188.7 237.52 L189.2 236.87 L189.7 236.22 L190.2 235.56 L190.7 234.9 L191.2 234.21 L191.7 233.49 L192.2 232.75 L192.7 231.99 L193.2 231.21 L193.7 230.43 L194.2 229.64 L194.7 228.84 L195.2 228.05 L195.7 227.27 L196.2 226.5 L196.7 225.74 L197.2 224.96 L197.7 224.16 L198.2 223.35 L198.7 222.54 L199.2 221.74 L199.7 220.95 L200.2 220.17 L200.7 219.43 L201.2 218.72 L201.7 218.05 L202.2 217.43 L202.7 216.86 L203.2 216.3 L203.7 215.74 L204.2 215.21 L204.7 214.69 L205.2 214.2 L205.7 213.75 L206.2 213.34 L206.7 212.97 L207.2 212.66 L207.7 212.4 L208.2 212.16 L208.7 211.93 L209.2 211.72 L209.7 211.53 L210.2 211.36 L210.7 211.23 L211.2 211.14" fill="none" stroke="#f2141e" stroke-width="1.0"/>
<path d="M59 210.6a1.2 1.2 0 1 0 2.4 0a1.2 1.2 0 1 0 -2.4 0zM61.38 212.41a1.2 1.2 0 1 0 2.4 0a1.2 1.2 0 1 0 -2.4 0zM63.49 214.54a1.2 1.2 0 1 0 2.4 0a1.2 1.2 0 1 0 -2.4 0zM65.51 216.77a1.2 1.2 0 1 0 2.4 0a1.2 1.2 0 1 0 -2.4 0zM67.48 219.02a1.2 1.2 0 1 0 2.4 0a1.2 1.2 0 1 0 -2.4 0zM69.38 221.35a1.2 1.2 0 1 0 2.4 0a1.2 1.2 0 1 0 -2.4 0zM71.22 223.72a1.2 1.2 0 1 0 2.4 0a1.2 1.2 0 1 0 -2.4 0zM73.05 226.1a1.2 1.2 0 1 0 2.4 0a1.2 1.2 0 1 0 -2.4 0zM74.84 228.5a1.2 1.2 0 1 0 2.4 0a1.2 1.2 0 1 0 -2.4 0zM76.5 231a1.2 1.2 0 1 0 2.4 0a1.2 1.2 0 1 0 -2.4 0zM78.23 233.45a1.2 1.2 0 1 0 2.4 0a1.2 1.2 0 1 0 -2.4 0zM80.35 235.56a1.2 1.2 0 1 0 2.4 0a1.2 1.2 0 1 0 -2.4 0zM82.83 237.24a1.2 1.2 0 1 0 2.4 0a1.2 1.2 0 1 0 -2.4 0zM85.7 237.83a1.2 1.2 0 1 0 2.4 0a1.2 1.2 0 1 0 -2.4 0zM88.46 236.69a1.2 1.2 0 1 0 2.4 0a1.2 1.2 0 1 0 -2.4 0zM91.09 235.26a1.2 1.2 0 1 0 2.4 0a1.2 1.2 0 1 0 -2.4 0zM93.75 233.86a1.2 1.2 0 1 0 2.4 0a1.2 1.2 0 1 0 -2.4 0zM96.44 232.54a1.2 1.2 0 1 0 2.4 0a1.2 1.2 0 1 0 -2.4 0zM99.3 231.64a1.2 1.2 0 1 0 2.4 0a1.2 1.2 0 1 0 -2.4 0zM102.21 230.93a1.2 1.2 0 1 0 2.4 0a1.2 1.2 0 1 0 -2.4 0zM105.16 230.36a1.2 1.2 0 1 0 2.4 0a1.2 1.2 0 1 0 -2.4 0zM108.12 229.86a1.2 1.2 0 1 0 2.4 0a1.2 1.2 0 1 0 -2.4 0zM111.08 229.41a1.2 1.2 0 1 0 2.4 0a1.2 1.2 0 1 0 -2.4 0zM114.07 229.2a1.2 1.2 0 1 0 2.4 0a1.2 1.2 0 1 0 -2.4 0zM117.07 229.2a1.2 1.2 0 1 0 2.4 0a1.2 1.2 0 1 0 -2.4 0zM120.07 229.2a1.2 1.2 0 1 0 2.4 0a1.2 1.2 0 1 0 -2.4 0zM122.95 229.95a1.2 1.2 0 1 0 2.4 0a1.2 1.2 0 1 0 -2.4 0zM125.55 231.44a1.2 1.2 0 1 0 2.4 0a1.2 1.2 0 1 0 -2.4 0zM128.04 233.12a1.2 1.2 0 1 0 2.4 0a1.2 1.2 0 1 0 -2.4 0zM130.26 235.13a1.2 1.2 0 1 0 2.4 0a1.2 1.2 0 1 0 -2.4 0zM132.31 237.32a1.2 1.2 0 1 0 2.4 0a1.2 1.2 0 1 0 -2.4 0zM134.12 239.71a1.2 1.2 0 1 0 2.4 0a1.2 1.2 0 1 0 -2.4 0zM135.75 242.23a1.2 1.2 0 1 0 2.4 0a1.2 1.2 0 1 0 -2.4 0zM137.35 244.76a1.2 1.2 0 1 0 2.4 0a1.2 1.2 0 1 0 -2.4 0zM139.06 247.23a1.2 1.2 0 1 0 2.4 0a1.2 1.2 0 1 0 -2.4 0zM140.78 249.69a1.2 1.2 0 1 0 2.4 0a1.2 1.2 0 1 0 -2.4 0zM142.59 252.08a1.2 1.2 0 1 0 2.4 0a1.2 1.2 0 1 0 -2.4 0zM144.63 254.27a1.2 1.2 0 1 0 2.4 0a1.2 1.2 0 1 0 -2.4 0zM147.08 254.9a1.2 1.2 0 1 0 2.4 0a1.2 1.2 0 1 0 -2.4 0zM148.78 252.44a1.2 1.2 0 1 0 2.4 0a1.2 1.2 0 1 0 -2.4 0zM150.63 250.07a1.2 1.2 0 1 0 2.4 0a1.2 1.2 0 1 0 -2.4 0zM152.43 247.67a1.2 1.2 0 1 0 2.4 0a1.2 1.2 0 1 0 -2.4 0zM154.13 245.2a1.2 1.2 0 1 0 2.4 0a1.2 1.2 0 1 0 -2.4 0zM155.85 242.75a1.2 1.2 0 1 0 2.4 0a1.2 1.2 0 1 0 -2.4 0zM157.75 240.42a1.2 1.2 0 1 0 2.4 0a1.2 1.2 0 1 0 -2.4 0zM159.76 238.2a1.2 1.2 0 1 0 2.4 0a1.2 1.2 0 1 0 -2.4 0zM162.33 236.69a1.2 1.2 0 1 0 2.4 0a1.2 1.2 0 1 0 -2.4 0zM165.21 236.67a1.2 1.2 0 1 0 2.4 0a1.2 1.2 0 1 0 -2.4 0zM167.52 238.56a1.2 1.2 0 1 0 2.4 0a1.2 1.2 0 1 0 -2.4 0zM169.76 240.56a1.2 1.2 0 1 0 2.4 0a1.2 1.2 0 1 0 -2.4 0zM171.88 242.68a1.2 1.2 0 1 0 2.4 0a1.2 1.2 0 1 0 -2.4 0zM174.32 244.38a1.2 1.2 0 1 0 2.4 0a1.2 1.2 0 1 0 -2.4 0zM177.19 245.22a1.2 1.2 0 1 0 2.4 0a1.2 1.2 0 1 0 -2.4 0zM180.06 244.64a1.2 1.2 0 1 0 2.4 0a1.2 1.2 0 1 0 -2.4 0zM182.44 242.83a1.2 1.2 0 1 0 2.4 0a1.2 1.2 0 1 0 -2.4 0zM184.69 240.84a1.2 1.2 0 1 0 2.4 0a1.2 1.2 0 1 0 -2.4 0zM186.66 238.58a1.2 1.2 0 1 0 2.4 0a1.2 1.2 0 1 0 -2.4 0zM188.5 236.22a1.2 1.2 0 1 0 2.4 0a1.2 1.2 0 1 0 -2.4 0zM190.28 233.8a1.2 1.2 0 1 0 2.4 0a1.2 1.2 0 1 0 -2.4 0zM191.94 231.3a1.2 1.2 0 1 0 2.4 0a1.2 1.2 0 1 0 -2.4 0zM193.55 228.77a1.2 1.2 0 1 0 2.4 0a1.2 1.2 0 1 0 -2.4 0zM195.17 226.25a1.2 1.2 0 1 0 2.4 0a1.2 1.2 0 1 0 -2.4 0zM196.78 223.71a1.2 1.2 0 1 0 2.4 0a1.2 1.2 0 1 0 -2.4 0zM198.36 221.17a1.2 1.2 0 1 0 2.4 0a1.2 1.2 0 1 0 -2.4 0zM200.03 218.67a1.2 1.2 0 1 0 2.4 0a1.2 1.2 0 1 0 -2.4 0zM201.94 216.36a1.2 1.2 0 1 0 2.4 0a1.2 1.2 0 1 0 -2.4 0zM204.01 214.19a1.2 1.2 0 1 0 2.4 0a1.2 1.2 0 1 0 -2.4 0zM206.43 212.44a1.2 1.2 0 1 0 2.4 0a1.2 1.2 0 1 0 -2.4 0zM209.2 211.31a1.2 1.2 0 1 0 2.4 0a1.2 1.2 0 1 0 -2.4 0z" fill="#f2141e"/>
<path d="M59.35 274.4a0.85 0.85 0 1 0 1.7 0a0.85 0.85 0 1 0 -1.7 0zM62.33 275.27a0.85 0.85 0 1 0 1.7 0a0.85 0.85 0 1 0 -1.7 0zM65.19 276.43a0.85 0.85 0 1 0 1.7 0a0.85 0.85 0 1 0 -1.7 0zM67.75 278.17a0.85 0.85 0 1 0 1.7 0a0.85 0.85 0 1 0 -1.7 0zM69.8 280.48a0.85 0.85 0 1 0 1.7 0a0.85 0.85 0 1 0 -1.7 0zM71.65 282.97a0.85 0.85 0 1 0 1.7 0a0.85 0.85 0 1 0 -1.7 0zM73.38 285.54a0.85 0.85 0 1 0 1.7 0a0.85 0.85 0 1 0 -1.7 0zM74.91 288.24a0.85 0.85 0 1 0 1.7 0a0.85 0.85 0 1 0 -1.7 0zM76.35 290.98a0.85 0.85 0 1 0 1.7 0a0.85 0.85 0 1 0 -1.7 0zM77.79 293.73a0.85 0.85 0 1 0 1.7 0a0.85 0.85 0 1 0 -1.7 0zM79.19 296.49a0.85 0.85 0 1 0 1.7 0a0.85 0.85 0 1 0 -1.7 0zM80.56 299.27a0.85 0.85 0 1 0 1.7 0a0.85 0.85 0 1 0 -1.7 0zM81.93 302.06a0.85 0.85 0 1 0 1.7 0a0.85 0.85 0 1 0 -1.7 0zM83.28 304.85a0.85 0.85 0 1 0 1.7 0a0.85 0.85 0 1 0 -1.7 0zM84.57 307.67a0.85 0.85 0 1 0 1.7 0a0.85 0.85 0 1 0 -1.7 0zM85.9 310.46a0.85 0.85 0 1 0 1.7 0a0.85 0.85 0 1 0 -1.7 0zM87.45 313.15a0.85 0.85 0 1 0 1.7 0a0.85 0.85 0 1 0 -1.7 0zM89.25 315.67a0.85 0.85 0 1 0 1.7 0a0.85 0.85 0 1 0 -1.7 0zM91.28 318.01a0.85 0.85 0 1 0 1.7 0a0.85 0.85 0 1 0 -1.7 0zM93.72 319.91a0.85 0.85 0 1 0 1.7 0a0.85 0.85 0 1 0 -1.7 0zM96.65 320.44a0.85 0.85 0 1 0 1.7 0a0.85 0.85 0 1 0 -1.7 0zM99.51 319.26a0.85 0.85 0 1 0 1.7 0a0.85 0.85 0 1 0 -1.7 0zM102.21 317.74a0.85 0.85 0 1 0 1.7 0a0.85 0.85 0 1 0 -1.7 0zM104.63 315.81a0.85 0.85 0 1 0 1.7 0a0.85 0.85 0 1 0 -1.7 0zM106.95 313.75a0.85 0.85 0 1 0 1.7 0a0.85 0.85 0 1 0 -1.7 0zM109.33 311.77a0.85 0.85 0 1 0 1.7 0a0.85 0.85 0 1 0 -1.7 0zM111.74 309.82a0.85 0.85 0 1 0 1.7 0a0.85 0.85 0 1 0 -1.7 0zM114.14 307.86a0.85 0.85 0 1 0 1.7 0a0.85 0.85 0 1 0 -1.7 0zM116.55 305.9a0.85 0.85 0 1 0 1.7 0a0.85 0.85 0 1 0 -1.7 0zM118.96 303.95a0.85 0.85 0 1 0 1.7 0a0.85 0.85 0 1 0 -1.7 0zM121.37 302.01a0.85 0.85 0 1 0 1.7 0a0.85 0.85 0 1 0 -1.7 0zM123.77 300.04a0.85 0.85 0 1 0 1.7 0a0.85 0.85 0 1 0 -1.7 0zM126.13 298.04a0.85 0.85 0 1 0 1.7 0a0.85 0.85 0 1 0 -1.7 0zM128.46 296a0.85 0.85 0 1 0 1.7 0a0.85 0.85 0 1 0 -1.7 0zM130.79 293.94a0.85 0.85 0 1 0 1.7 0a0.85 0.85 0 1 0 -1.7 0zM133.12 291.9a0.85 0.85 0 1 0 1.7 0a0.85 0.85 0 1 0 -1.7 0zM135.49 289.91a0.85 0.85 0 1 0 1.7 0a0.85 0.85 0 1 0 -1.7 0zM137.86 287.91a0.85 0.85 0 1 0 1.7 0a0.85 0.85 0 1 0 -1.7 0zM140.14 285.81a0.85 0.85 0 1 0 1.7 0a0.85 0.85 0 1 0 -1.7 0zM142.27 283.55a0.85 0.85 0 1 0 1.7 0a0.85 0.85 0 1 0 -1.7 0zM144.19 281.12a0.85 0.85 0 1 0 1.7 0a0.85 0.85 0 1 0 -1.7 0zM145.64 278.38a0.85 0.85 0 1 0 1.7 0a0.85 0.85 0 1 0 -1.7 0zM147.75 276.64a0.85 0.85 0 1 0 1.7 0a0.85 0.85 0 1 0 -1.7 0zM150.02 278.71a0.85 0.85 0 1 0 1.7 0a0.85 0.85 0 1 0 -1.7 0zM151.97 281.11a0.85 0.85 0 1 0 1.7 0a0.85 0.85 0 1 0 -1.7 0zM153.64 283.72a0.85 0.85 0 1 0 1.7 0a0.85 0.85 0 1 0 -1.7 0zM155.19 286.41a0.85 0.85 0 1 0 1.7 0a0.85 0.85 0 1 0 -1.7 0zM156.78 289.07a0.85 0.85 0 1 0 1.7 0a0.85 0.85 0 1 0 -1.7 0zM158.36 291.73a0.85 0.85 0 1 0 1.7 0a0.85 0.85 0 1 0 -1.7 0zM159.93 294.41a0.85 0.85 0 1 0 1.7 0a0.85 0.85 0 1 0 -1.7 0zM161.55 297.05a0.85 0.85 0 1 0 1.7 0a0.85 0.85 0 1 0 -1.7 0zM163.24 299.65a0.85 0.85 0 1 0 1.7 0a0.85 0.85 0 1 0 -1.7 0zM164.96 302.23a0.85 0.85 0 1 0 1.7 0a0.85 0.85 0 1 0 -1.7 0zM166.76 304.75a0.85 0.85 0 1 0 1.7 0a0.85 0.85 0 1 0 -1.7 0zM168.74 307.14a0.85 0.85 0 1 0 1.7 0a0.85 0.85 0 1 0 -1.7 0zM170.85 309.41a0.85 0.85 0 1 0 1.7 0a0.85 0.85 0 1 0 -1.7 0zM173.14 311.49a0.85 0.85 0 1 0 1.7 0a0.85 0.85 0 1 0 -1.7 0zM175.74 313.18a0.85 0.85 0 1 0 1.7 0a0.85 0.85 0 1 0 -1.7 0zM178.66 313.89a0.85 0.85 0 1 0 1.7 0a0.85 0.85 0 1 0 -1.7 0zM181.12 312.07a0.85 0.85 0 1 0 1.7 0a0.85 0.85 0 1 0 -1.7 0zM183.16 309.73a0.85 0.85 0 1 0 1.7 0a0.85 0.85 0 1 0 -1.7 0zM185.03 307.27a0.85 0.85 0 1 0 1.7 0a0.85 0.85 0 1 0 -1.7 0zM186.64 304.62a0.85 0.85 0 1 0 1.7 0a0.85 0.85 0 1 0 -1.7 0zM188.18 301.93a0.85 0.85 0 1 0 1.7 0a0.85 0.85 0 1 0 -1.7 0zM189.73 299.24a0.85 0.85 0 1 0 1.7 0a0.85 0.85 0 1 0 -1.7 0zM191.22 296.52a0.85 0.85 0 1 0 1.7 0a0.85 0.85 0 1 0 -1.7 0zM192.7 293.8a0.85 0.85 0 1 0 1.7 0a0.85 0.85 0 1 0 -1.7 0zM194.22 291.1a0.85 0.85 0 1 0 1.7 0a0.85 0.85 0 1 0 -1.7 0zM195.71 288.38a0.85 0.85 0 1 0 1.7 0a0.85 0.85 0 1 0 -1.7 0zM197.22 285.67a0.85 0.85 0 1 0 1.7 0a0.85 0.85 0 1 0 -1.7 0zM198.89 283.06a0.85 0.85 0 1 0 1.7 0a0.85 0.85 0 1 0 -1.7 0zM200.87 280.68a0.85 0.85 0 1 0 1.7 0a0.85 0.85 0 1 0 -1.7 0zM203.06 278.49a0.85 0.85 0 1 0 1.7 0a0.85 0.85 0 1 0 -1.7 0zM205.51 276.59a0.85 0.85 0 1 0 1.7 0a0.85 0.85 0 1 0 -1.7 0zM208.2 275.06a0.85 0.85 0 1 0 1.7 0a0.85 0.85 0 1 0 -1.7 0z" fill="none" stroke="#f23545" stroke-width="0.72"/>
<path d="M59.43 273.23h1.55v1.55h-1.55zM62.63 273.97h1.55v1.55h-1.55zM65.63 275.33h1.55v1.55h-1.55zM68.26 277.3h1.55v1.55h-1.55zM70.4 279.81h1.55v1.55h-1.55zM72.36 282.47h1.55v1.55h-1.55zM74.11 285.26h1.55v1.55h-1.55zM75.67 288.17h1.55v1.55h-1.55zM77.2 291.09h1.55v1.55h-1.55zM78.72 294.03h1.55v1.55h-1.55zM80.19 296.98h1.55v1.55h-1.55zM81.64 299.94h1.55v1.55h-1.55zM83.09 302.91h1.55v1.55h-1.55zM84.47 305.91h1.55v1.55h-1.55zM85.88 308.89h1.55v1.55h-1.55zM87.51 311.75h1.55v1.55h-1.55zM89.41 314.45h1.55v1.55h-1.55zM91.61 316.91h1.55v1.55h-1.55zM94.35 318.73h1.55v1.55h-1.55zM97.43 318.26h1.55v1.55h-1.55zM100.02 316.22h1.55v1.55h-1.55zM102.35 313.89h1.55v1.55h-1.55zM104.64 311.52h1.55v1.55h-1.55zM107.11 309.32h1.55v1.55h-1.55zM109.62 307.18h1.55v1.55h-1.55zM112.1 305.01h1.55v1.55h-1.55zM114.48 302.72h1.55v1.55h-1.55zM116.79 300.36h1.55v1.55h-1.55zM119.1 298h1.55v1.55h-1.55zM121.49 295.73h1.55v1.55h-1.55zM123.96 293.54h1.55v1.55h-1.55zM126.46 291.39h1.55v1.55h-1.55zM128.95 289.23h1.55v1.55h-1.55zM131.45 287.07h1.55v1.55h-1.55zM133.95 284.92h1.55v1.55h-1.55zM136.41 282.72h1.55v1.55h-1.55zM138.82 280.46h1.55v1.55h-1.55zM141.18 278.16h1.55v1.55h-1.55zM143.39 275.71h1.55v1.55h-1.55zM145.19 272.95h1.55v1.55h-1.55zM147.93 272.13h1.55v1.55h-1.55zM150.35 274.36h1.55v1.55h-1.55zM152.12 277.13h1.55v1.55h-1.55zM153.6 280.08h1.55v1.55h-1.55zM155.22 282.96h1.55v1.55h-1.55zM156.9 285.79h1.55v1.55h-1.55zM158.61 288.62h1.55v1.55h-1.55zM160.36 291.42h1.55v1.55h-1.55zM162.12 294.21h1.55v1.55h-1.55zM163.9 296.98h1.55v1.55h-1.55zM165.79 299.69h1.55v1.55h-1.55zM167.81 302.3h1.55v1.55h-1.55zM169.91 304.84h1.55v1.55h-1.55zM172.33 307.08h1.55v1.55h-1.55zM175.1 308.87h1.55v1.55h-1.55zM178.25 309.52h1.55v1.55h-1.55zM181.07 307.87h1.55v1.55h-1.55zM183.46 305.6h1.55v1.55h-1.55zM185.23 302.82h1.55v1.55h-1.55zM186.83 299.93h1.55v1.55h-1.55zM188.46 297.06h1.55v1.55h-1.55zM190.01 294.16h1.55v1.55h-1.55zM191.58 291.25h1.55v1.55h-1.55zM193.24 288.4h1.55v1.55h-1.55zM194.96 285.58h1.55v1.55h-1.55zM196.77 282.82h1.55v1.55h-1.55zM198.8 280.23h1.55v1.55h-1.55zM201.07 277.83h1.55v1.55h-1.55zM203.57 275.69h1.55v1.55h-1.55zM206.4 273.99h1.55v1.55h-1.55zM209.42 272.67h1.55v1.55h-1.55z" fill="#3030f0"/>
<path d="M101.35 320.8a0.95 0.95 0 1 0 1.9 0a0.95 0.95 0 1 0 -1.9 0zM102.91 318.72a0.95 0.95 0 1 0 1.9 0a0.95 0.95 0 1 0 -1.9 0zM104.74 316.87a0.95 0.95 0 1 0 1.9 0a0.95 0.95 0 1 0 -1.9 0zM106.77 315.25a0.95 0.95 0 1 0 1.9 0a0.95 0.95 0 1 0 -1.9 0zM109.15 314.23a0.95 0.95 0 1 0 1.9 0a0.95 0.95 0 1 0 -1.9 0zM111.66 313.57a0.95 0.95 0 1 0 1.9 0a0.95 0.95 0 1 0 -1.9 0zM114.24 313.51a0.95 0.95 0 1 0 1.9 0a0.95 0.95 0 1 0 -1.9 0zM116.5 314.76a0.95 0.95 0 1 0 1.9 0a0.95 0.95 0 1 0 -1.9 0zM118.08 316.78a0.95 0.95 0 1 0 1.9 0a0.95 0.95 0 1 0 -1.9 0zM119.07 319.18a0.95 0.95 0 1 0 1.9 0a0.95 0.95 0 1 0 -1.9 0z" fill="none" stroke="#f03040" stroke-width="0.72"/>
<path d="M116 314.4Q119 316 120.4 320.4" stroke="#19d7e8" stroke-width="0.8" fill="none"/>
<path d="M70.6 320.6a0.9 0.9 0 1 0 1.8 0a0.9 0.9 0 1 0 -1.8 0zM72.52 319.18a0.9 0.9 0 1 0 1.8 0a0.9 0.9 0 1 0 -1.8 0zM74.86 318.88a0.9 0.9 0 1 0 1.8 0a0.9 0.9 0 1 0 -1.8 0zM76.95 320a0.9 0.9 0 1 0 1.8 0a0.9 0.9 0 1 0 -1.8 0z" fill="none" stroke="#f03040" stroke-width="0.72"/>
<path d="M180.5 320.3Q190 310.3 199.5 320.3" stroke="#19d7e8" stroke-width="1" fill="none"/>
<path d="M178.35 320.8a0.95 0.95 0 1 0 1.9 0a0.95 0.95 0 1 0 -1.9 0zM179.88 318.7a0.95 0.95 0 1 0 1.9 0a0.95 0.95 0 1 0 -1.9 0zM181.67 316.82a0.95 0.95 0 1 0 1.9 0a0.95 0.95 0 1 0 -1.9 0zM183.72 315.22a0.95 0.95 0 1 0 1.9 0a0.95 0.95 0 1 0 -1.9 0zM186.12 314.23a0.95 0.95 0 1 0 1.9 0a0.95 0.95 0 1 0 -1.9 0zM188.67 313.81a0.95 0.95 0 1 0 1.9 0a0.95 0.95 0 1 0 -1.9 0zM191.2 314.33a0.95 0.95 0 1 0 1.9 0a0.95 0.95 0 1 0 -1.9 0zM193.62 315.29a0.95 0.95 0 1 0 1.9 0a0.95 0.95 0 1 0 -1.9 0zM195.76 316.75a0.95 0.95 0 1 0 1.9 0a0.95 0.95 0 1 0 -1.9 0zM197.66 318.52a0.95 0.95 0 1 0 1.9 0a0.95 0.95 0 1 0 -1.9 0zM199.27 320.56a0.95 0.95 0 1 0 1.9 0a0.95 0.95 0 1 0 -1.9 0z" fill="none" stroke="#f03040" stroke-width="0.72"/>
</g>
<path d="M125.5 256H148M125.5 276.1H148" stroke="#f2141e" stroke-width="1.15" stroke-dasharray="1.9 0.9" fill="none"/>
<path d="M126.1 256V275.8" stroke="#d0101c" stroke-width="2" fill="none"/>
<path d="M143 258.2H165.2M143 269.7H165.2" stroke="#1a22e8" stroke-width="1.15" stroke-dasharray="1.9 0.9" fill="none"/>
<path d="M161.3 258.2V269.9" stroke="#1a22e8" stroke-width="1.9" fill="none"/>
<circle cx="147.5" cy="255.6" r="1.3" fill="#f2141e"/>
<text class="r" x="90.2" y="265.6" font-size="7.9" font-weight="bold" fill="#f2141e">B-exciton</text>
<text class="r" x="165.6" y="266.6" font-size="7.9" font-weight="bold" fill="#1a22e8">A-exciton</text>
<rect x="60.2" y="198.4" width="151.3" height="122.1" fill="none" stroke="#222" stroke-width="0.7"/>
<rect x="58.7" y="261.6" width="3" height="2.6" fill="#fff"/>
<path d="M58.4 262.4l3.6 -1.2M58.4 264.6l3.6 -1.2" stroke="#222" stroke-width="0.5" fill="none"/>
<rect x="210" y="261.6" width="3" height="2.6" fill="#fff"/>
<path d="M209.7 262.4l3.6 -1.2M209.7 264.6l3.6 -1.2" stroke="#222" stroke-width="0.5" fill="none"/>
<path d="M60.2 198.4h-2M60.2 217.3h-2M60.2 236.2h-2M60.2 255.1h-2M60.2 282.5h-2M60.2 301.5h-2M60.2 320.5h-2M60.2 207.85h-1.2M60.2 226.75h-1.2M60.2 245.65h-1.2M60.2 273h-1.2M60.2 292h-1.2M60.2 311h-1.2M115.5 320.5v2M147.3 320.5v2M87.8 320.5v1.3M131.4 320.5v1.3M179.4 320.5v1.3" stroke="#222" stroke-width="0.6" fill="none"/>
<text class="s" x="55.6" y="202" font-size="10.1" text-anchor="end">3.5</text>
<text class="s" x="55.6" y="220.9" font-size="10.1" text-anchor="end">3.0</text>
<text class="s" x="55.6" y="239.8" font-size="10.1" text-anchor="end">2.5</text>
<text class="s" x="55.6" y="258.7" font-size="10.1" text-anchor="end">2.0</text>
<text class="s" x="55.6" y="286.1" font-size="10.1" text-anchor="end">−0.5</text>
<text class="s" x="55.6" y="305.1" font-size="10.1" text-anchor="end">−1.0</text>
<text class="s" x="55.6" y="324.1" font-size="10.1" text-anchor="end">−1.5</text>
<text class="r" x="60.2" y="333.2" font-size="10.4" text-anchor="middle">Γ</text>
<text class="r" x="115.5" y="333.2" font-size="10.4" text-anchor="middle">M</text>
<text class="r" x="147.3" y="333.2" font-size="10.4" text-anchor="middle">K</text>
<text class="r" x="211.5" y="333.2" font-size="10.4" text-anchor="middle">Γ</text>
<text class="s" x="31.2" y="259.8" font-size="10.3" text-anchor="middle" transform="rotate(-90 31.2 259.8)">E–E<tspan font-size="7" dy="1.8">f</tspan><tspan dy="-1.8"> (eV)</tspan></text>
<text class="r" x="8.4" y="204.8" font-size="18.4" font-weight="bold">(b)</text>
</g>
<g id="pc">
<clipPath id="cc"><rect x="237.6" y="13.3" width="137.7" height="304.9"/></clipPath>
<path d="M306.6 240.1L339.1 312.7L260.3 303.3Z" fill="#f07f2e"/>
<linearGradient id="sg" x1="0" y1="0" x2="1" y2="0">
<stop offset="0.01" stop-color="#7a4040"/><stop offset="0.03" stop-color="#7a4040"/>
<stop offset="0.07" stop-color="#e04545"/><stop offset="0.08" stop-color="#e04545"/>
<stop offset="0.11" stop-color="#2f6fe0"/><stop offset="0.14" stop-color="#2f6fe0"/>
<stop offset="0.16" stop-color="#3cb371"/><stop offset="0.18" stop-color="#3cb371"/>
<stop offset="0.21" stop-color="#b59ae6"/><stop offset="0.24" stop-color="#b59ae6"/>
<stop offset="0.27" stop-color="#c9a030"/><stop offset="0.29" stop-color="#c9a030"/>
<stop offset="0.32" stop-color="#1fc8cf"/><stop offset="0.34" stop-color="#1fc8cf"/>
<stop offset="0.36" stop-color="#6a8a40"/><stop offset="0.39" stop-color="#6a8a40"/>
<stop offset="0.42" stop-color="#8a9a2a"/><stop offset="0.43" stop-color="#8a9a2a"/>
<stop offset="0.47" stop-color="#f26d1c"/><stop offset="0.48" stop-color="#f26d1c"/>
<stop offset="0.52" stop-color="#f26d1c"/><stop offset="0.53" stop-color="#f26d1c"/>
<stop offset="0.57" stop-color="#7cc42e"/><stop offset="0.58" stop-color="#7cc42e"/>
<stop offset="0.61" stop-color="#3f9050"/><stop offset="0.64" stop-color="#3f9050"/>
<stop offset="0.67" stop-color="#4a4a4a"/><stop offset="0.68" stop-color="#4a4a4a"/>
<stop offset="0.72" stop-color="#e04848"/><stop offset="0.73" stop-color="#e04848"/>
<stop offset="0.77" stop-color="#2f74e8"/><stop offset="0.78" stop-color="#2f74e8"/>
<stop offset="0.82" stop-color="#3cb371"/><stop offset="0.83" stop-color="#3cb371"/>
<stop offset="0.86" stop-color="#c09ae6"/><stop offset="0.89" stop-color="#c09ae6"/>
<stop offset="0.92" stop-color="#d0a520"/><stop offset="0.93" stop-color="#d0a520"/>
<stop offset="0.97" stop-color="#1fcfd0"/><stop offset="0.98" stop-color="#1fcfd0"/>
</linearGradient>
<g transform="translate(261 302.4) rotate(-22.88)">
<rect x="0" y="-2.4" width="66.86" height="4.8" fill="url(#sg)"/>
<path d="M66.26 -2.6l2.2 -1.2l0.6 2.2l2.2 1.4l-1.8 1.6l-0.4 2.6l-2.4 -1.4z" fill="#6a3242"/>
<path d="M0.6 -2.2l-1.6 0.6l-1.2 1.8l1.4 1.6l1.4 0.4z" fill="#c04038"/>
</g>
<g clip-path="url(#cc)" fill="none" stroke-width="1.08" stroke-linejoin="round">
<path d="M316.2 14.5 L314.6 16.9 L311.8 28.1 L309.2 39.3 L308 50.5 L307.6 61.7 L307.3 72.9 L307 84.1 L306.8 95.3 L306.8 106.5 L306.8 117.7 L306.8 128.9 L306.8 140.1 L306.8 151.3 L307 162.5 L307.2 173.7 L307.6 184.9 L308 196.1 L308.4 207.3 L308.8 218.5 L309 229.7" stroke="#d4d4d4" stroke-width="0.8"/>
<path d="M237.6 36.67 L238.23 37.52 L238.86 36.88 L239.49 36.29 L240.11 37.17 L240.74 37.67 L241.37 37.03 L242 37.11 L242.63 36.79 L243.26 37.24 L243.89 36.89 L244.52 37.69 L245.14 36.6 L245.77 36.33 L246.4 36.43 L247.03 37.4 L247.66 36.75 L248.29 37.89 L248.92 36.74 L249.54 36.85 L250.17 37.16 L250.8 36.68 L251.43 36.74 L252.06 36.45 L252.69 36.72 L253.32 36.67 L253.95 37.42 L254.57 37.13 L255.2 36.87 L255.83 36.59 L256.46 36.68 L257.09 36.13 L257.72 36.95 L258.35 36.71 L258.97 36.52 L259.6 36.67 L260.23 36.4 L260.86 36.75 L261.49 36.03 L262.12 36.62 L262.75 36.1 L263.38 36.48 L264 35.92 L264.63 36.91 L265.26 36.21 L265.89 36.52 L266.52 36.26 L267.15 35.9 L267.78 36.68 L268.41 36.72 L269.03 36.57 L269.66 36.1 L270.29 36.82 L270.92 36.09 L271.55 36.54 L272.18 36.45 L272.81 36.14 L273.43 35.83 L274.06 36.14 L274.69 36.05 L275.32 35.84 L275.95 35.88 L276.58 36.66 L277.21 35.82 L277.84 35.58 L278.46 35.17 L279.09 34.77 L279.72 35.18 L280.35 35.32 L280.98 35.6 L281.61 35.15 L282.24 34.82 L282.86 34.56 L283.49 35.21 L284.12 34.71 L284.75 34.39 L285.38 33.91 L286.01 34.34 L286.64 34.47 L287.27 34.38 L287.89 34.1 L288.52 34.03 L289.15 33.32 L289.78 33.04 L290.41 32.95 L291.04 32.55 L291.67 32.88 L292.29 32.33 L292.92 32.32 L293.55 31.87 L294.18 31.13 L294.81 31.23 L295.44 31.51 L296.07 30.56 L296.7 30.31 L297.32 30.16 L297.95 29.45 L298.58 28.36 L299.21 27.6 L299.84 27.82 L300.47 26.74 L301.1 26.1 L301.72 26.31 L302.35 25.29 L302.98 24.64 L303.61 23.89 L304.24 23.81 L304.87 22.67 L305.5 21.46 L306.13 20.66 L306.75 19.74 L307.38 19.77 L308.01 18.28 L308.64 18.01 L309.27 18.05 L309.9 16.67 L310.53 16.47 L311.16 15.63 L311.78 15.37 L312.41 14.51 L313.04 14.52 L313.67 14.47 L314.3 13.88 L314.93 14.08 L315.56 14.35 L316.18 13.88 L316.81 14.69 L317.44 15.06 L318.07 15.4 L318.7 16.16 L319.33 16.33 L319.96 16.02 L320.59 17.56 L321.21 17.83 L321.84 18.84 L322.47 19.29 L323.1 19.18 L323.73 20.02 L324.36 21.17 L324.99 21.57 L325.61 22.45 L326.24 23.02 L326.87 23.62 L327.5 24.16 L328.13 24.24 L328.76 24.64 L329.39 25.15 L330.02 25.83 L330.64 26.67 L331.27 26.62 L331.9 27.3 L332.53 27.03 L333.16 27.48 L333.79 27.73 L334.42 28.42 L335.04 29.21 L335.67 28.51 L336.3 28.67 L336.93 29.86 L337.56 29.51 L338.19 29.36 L338.82 30.36 L339.45 29.56 L340.07 30.48 L340.7 30.91 L341.33 30.23 L341.96 30.77 L342.59 31.27 L343.22 30.89 L343.85 32.03 L344.47 30.86 L345.1 31.93 L345.73 31.69 L346.36 32.08 L346.99 31.93 L347.62 31.91 L348.25 32.65 L348.88 32.23 L349.5 32.75 L350.13 33.02 L350.76 33 L351.39 33.41 L352.02 33.47 L352.65 33 L353.28 33.52 L353.91 33.2 L354.53 33.58 L355.16 34.23 L355.79 34.66 L356.42 34.37 L357.05 34.16 L357.68 34.38 L358.31 34.79 L358.93 34.27 L359.56 35.35 L360.19 35.3 L360.82 34.93 L361.45 34.31 L362.08 35.04 L362.71 35.65 L363.34 35.19 L363.96 35.25 L364.59 35.26 L365.22 35.82 L365.85 36.05 L366.48 35.81 L367.11 35.79 L367.74 35.45 L368.36 35.35 L368.99 36.41 L369.62 36.41 L370.25 36.31 L370.88 36.44 L371.51 36.24 L372.14 36.3 L372.77 36.43 L373.39 36.1 L374.02 36.67 L374.65 37.03 L375.28 37.25" stroke="#7a3b3b"/>
<path d="M237.6 48.8 L238.23 48.79 L238.86 48.79 L239.49 48.78 L240.11 48.77 L240.74 48.76 L241.37 48.75 L242 48.74 L242.63 48.74 L243.26 48.73 L243.89 48.72 L244.52 48.71 L245.14 48.7 L245.77 48.69 L246.4 48.68 L247.03 48.67 L247.66 48.66 L248.29 48.65 L248.92 48.63 L249.54 48.62 L250.17 48.61 L250.8 48.6 L251.43 48.59 L252.06 48.57 L252.69 48.56 L253.32 48.54 L253.95 48.53 L254.57 48.52 L255.2 48.5 L255.83 48.48 L256.46 48.47 L257.09 48.45 L257.72 48.43 L258.35 48.42 L258.97 48.4 L259.6 48.38 L260.23 48.36 L260.86 48.34 L261.49 48.32 L262.12 48.29 L262.75 48.27 L263.38 48.25 L264 48.22 L264.63 48.2 L265.26 48.17 L265.89 48.14 L266.52 48.11 L267.15 48.08 L267.78 48.05 L268.41 48.02 L269.03 47.99 L269.66 47.95 L270.29 47.92 L270.92 47.88 L271.55 47.84 L272.18 47.8 L272.81 47.75 L273.43 47.71 L274.06 47.66 L274.69 47.61 L275.32 47.55 L275.95 47.5 L276.58 47.44 L277.21 47.37 L277.84 47.31 L278.46 47.24 L279.09 47.16 L279.72 47.08 L280.35 47 L280.98 46.91 L281.61 46.81 L282.24 46.7 L282.86 46.59 L283.49 46.47 L284.12 46.34 L284.75 46.2 L285.38 46.05 L286.01 45.89 L286.64 45.72 L287.27 45.54 L287.89 45.34 L288.52 45.12 L289.15 44.89 L289.78 44.64 L290.41 44.37 L291.04 44.08 L291.67 43.78 L292.29 43.45 L292.92 43.09 L293.55 42.72 L294.18 42.32 L294.81 41.89 L295.44 41.43 L296.07 40.95 L296.7 40.45 L297.32 39.91 L297.95 39.35 L298.58 38.75 L299.21 38.13 L299.84 37.49 L300.47 36.82 L301.1 36.12 L301.72 35.41 L302.35 34.68 L302.98 33.93 L303.61 33.17 L304.24 32.41 L304.87 31.66 L305.5 30.91 L306.13 30.18 L306.75 29.48 L307.38 28.83 L308.01 28.22 L308.64 27.67 L309.27 27.2 L309.9 26.81 L310.53 26.51 L311.16 26.31 L311.78 26.21 L312.41 26.21 L313.04 26.31 L313.67 26.52 L314.3 26.82 L314.93 27.2 L315.56 27.65 L316.18 28.17 L316.81 28.75 L317.44 29.36 L318.07 30 L318.7 30.66 L319.33 31.33 L319.96 32.01 L320.59 32.68 L321.21 33.34 L321.84 33.99 L322.47 34.62 L323.1 35.23 L323.73 35.81 L324.36 36.37 L324.99 36.9 L325.61 37.4 L326.24 37.88 L326.87 38.33 L327.5 38.75 L328.13 39.14 L328.76 39.51 L329.39 39.85 L330.02 40.17 L330.64 40.47 L331.27 40.75 L331.9 41 L332.53 41.24 L333.16 41.46 L333.79 41.66 L334.42 41.85 L335.04 42.03 L335.67 42.19 L336.3 42.35 L336.93 42.49 L337.56 42.63 L338.19 42.76 L338.82 42.89 L339.45 43.01 L340.07 43.13 L340.7 43.24 L341.33 43.35 L341.96 43.46 L342.59 43.57 L343.22 43.68 L343.85 43.79 L344.47 43.9 L345.1 44.01 L345.73 44.12 L346.36 44.23 L346.99 44.34 L347.62 44.46 L348.25 44.57 L348.88 44.69 L349.5 44.8 L350.13 44.92 L350.76 45.04 L351.39 45.16 L352.02 45.28 L352.65 45.4 L353.28 45.52 L353.91 45.64 L354.53 45.76 L355.16 45.88 L355.79 46 L356.42 46.12 L357.05 46.24 L357.68 46.35 L358.31 46.47 L358.93 46.58 L359.56 46.69 L360.19 46.8 L360.82 46.9 L361.45 47 L362.08 47.1 L362.71 47.2 L363.34 47.29 L363.96 47.39 L364.59 47.47 L365.22 47.56 L365.85 47.64 L366.48 47.72 L367.11 47.8 L367.74 47.87 L368.36 47.94 L368.99 48.01 L369.62 48.07 L370.25 48.13 L370.88 48.19 L371.51 48.24 L372.14 48.29 L372.77 48.34 L373.39 48.39 L374.02 48.43 L374.65 48.47 L375.28 48.51" stroke="#1fcfd6"/>
<path d="M237.6 60 L238.23 59.99 L238.86 59.98 L239.49 59.98 L240.11 59.97 L240.74 59.96 L241.37 59.95 L242 59.94 L242.63 59.93 L243.26 59.92 L243.89 59.91 L244.52 59.9 L245.14 59.89 L245.77 59.88 L246.4 59.86 L247.03 59.85 L247.66 59.84 L248.29 59.83 L248.92 59.82 L249.54 59.8 L250.17 59.79 L250.8 59.77 L251.43 59.76 L252.06 59.74 L252.69 59.73 L253.32 59.71 L253.95 59.7 L254.57 59.68 L255.2 59.66 L255.83 59.64 L256.46 59.63 L257.09 59.61 L257.72 59.59 L258.35 59.57 L258.97 59.54 L259.6 59.52 L260.23 59.5 L260.86 59.47 L261.49 59.45 L262.12 59.42 L262.75 59.4 L263.38 59.37 L264 59.34 L264.63 59.31 L265.26 59.28 L265.89 59.25 L266.52 59.21 L267.15 59.18 L267.78 59.14 L268.41 59.1 L269.03 59.06 L269.66 59.02 L270.29 58.98 L270.92 58.93 L271.55 58.88 L272.18 58.83 L272.81 58.78 L273.43 58.72 L274.06 58.66 L274.69 58.6 L275.32 58.53 L275.95 58.46 L276.58 58.38 L277.21 58.3 L277.84 58.22 L278.46 58.12 L279.09 58.03 L279.72 57.92 L280.35 57.81 L280.98 57.69 L281.61 57.56 L282.24 57.42 L282.86 57.27 L283.49 57.11 L284.12 56.93 L284.75 56.75 L285.38 56.54 L286.01 56.33 L286.64 56.09 L287.27 55.84 L287.89 55.57 L288.52 55.28 L289.15 54.97 L289.78 54.64 L290.41 54.29 L291.04 53.91 L291.67 53.51 L292.29 53.08 L292.92 52.62 L293.55 52.14 L294.18 51.63 L294.81 51.09 L295.44 50.53 L296.07 49.94 L296.7 49.32 L297.32 48.67 L297.95 48 L298.58 47.31 L299.21 46.6 L299.84 45.87 L300.47 45.12 L301.1 44.37 L301.72 43.62 L302.35 42.87 L302.98 42.13 L303.61 41.41 L304.24 40.73 L304.87 40.09 L305.5 39.49 L306.13 38.97 L306.75 38.51 L307.38 38.14 L308.01 37.87 L308.64 37.69 L309.27 37.61 L309.9 37.63 L310.53 37.76 L311.16 37.99 L311.78 38.31 L312.41 38.71 L313.04 39.19 L313.67 39.73 L314.3 40.31 L314.93 40.94 L315.56 41.6 L316.18 42.27 L316.81 42.95 L317.44 43.64 L318.07 44.32 L318.7 44.98 L319.33 45.63 L319.96 46.27 L320.59 46.88 L321.21 47.46 L321.84 48.02 L322.47 48.55 L323.1 49.05 L323.73 49.52 L324.36 49.96 L324.99 50.38 L325.61 50.77 L326.24 51.13 L326.87 51.46 L327.5 51.77 L328.13 52.06 L328.76 52.32 L329.39 52.56 L330.02 52.78 L330.64 52.99 L331.27 53.17 L331.9 53.35 L332.53 53.5 L333.16 53.65 L333.79 53.78 L334.42 53.91 L335.04 54.02 L335.67 54.13 L336.3 54.23 L336.93 54.33 L337.56 54.42 L338.19 54.51 L338.82 54.6 L339.45 54.68 L340.07 54.77 L340.7 54.85 L341.33 54.94 L341.96 55.02 L342.59 55.11 L343.22 55.19 L343.85 55.28 L344.47 55.37 L345.1 55.47 L345.73 55.56 L346.36 55.66 L346.99 55.76 L347.62 55.86 L348.25 55.96 L348.88 56.07 L349.5 56.18 L350.13 56.29 L350.76 56.4 L351.39 56.51 L352.02 56.62 L352.65 56.73 L353.28 56.85 L353.91 56.96 L354.53 57.08 L355.16 57.19 L355.79 57.3 L356.42 57.42 L357.05 57.53 L357.68 57.64 L358.31 57.75 L358.93 57.85 L359.56 57.96 L360.19 58.06 L360.82 58.17 L361.45 58.26 L362.08 58.36 L362.71 58.45 L363.34 58.55 L363.96 58.63 L364.59 58.72 L365.22 58.8 L365.85 58.88 L366.48 58.96 L367.11 59.03 L367.74 59.1 L368.36 59.17 L368.99 59.23 L369.62 59.29 L370.25 59.35 L370.88 59.4 L371.51 59.46 L372.14 59.51 L372.77 59.55 L373.39 59.6 L374.02 59.64 L374.65 59.68 L375.28 59.72" stroke="#d9a520"/>
<path d="M237.6 71.2 L238.23 71.19 L238.86 71.18 L239.49 71.17 L240.11 71.16 L240.74 71.16 L241.37 71.15 L242 71.14 L242.63 71.13 L243.26 71.11 L243.89 71.1 L244.52 71.09 L245.14 71.08 L245.77 71.07 L246.4 71.06 L247.03 71.04 L247.66 71.03 L248.29 71.02 L248.92 71.01 L249.54 70.99 L250.17 70.98 L250.8 70.96 L251.43 70.95 L252.06 70.93 L252.69 70.91 L253.32 70.9 L253.95 70.88 L254.57 70.86 L255.2 70.84 L255.83 70.82 L256.46 70.8 L257.09 70.78 L257.72 70.76 L258.35 70.74 L258.97 70.72 L259.6 70.69 L260.23 70.67 L260.86 70.64 L261.49 70.62 L262.12 70.59 L262.75 70.56 L263.38 70.53 L264 70.5 L264.63 70.47 L265.26 70.43 L265.89 70.4 L266.52 70.36 L267.15 70.32 L267.78 70.28 L268.41 70.24 L269.03 70.2 L269.66 70.15 L270.29 70.1 L270.92 70.05 L271.55 70 L272.18 69.94 L272.81 69.88 L273.43 69.82 L274.06 69.75 L274.69 69.68 L275.32 69.61 L275.95 69.53 L276.58 69.44 L277.21 69.35 L277.84 69.25 L278.46 69.15 L279.09 69.04 L279.72 68.92 L280.35 68.79 L280.98 68.65 L281.61 68.5 L282.24 68.34 L282.86 68.17 L283.49 67.98 L284.12 67.78 L284.75 67.56 L285.38 67.33 L286.01 67.08 L286.64 66.82 L287.27 66.53 L287.89 66.22 L288.52 65.89 L289.15 65.54 L289.78 65.17 L290.41 64.77 L291.04 64.34 L291.67 63.89 L292.29 63.41 L292.92 62.9 L293.55 62.37 L294.18 61.81 L294.81 61.22 L295.44 60.6 L296.07 59.96 L296.7 59.3 L297.32 58.61 L297.95 57.9 L298.58 57.17 L299.21 56.43 L299.84 55.68 L300.47 54.93 L301.1 54.18 L301.72 53.44 L302.35 52.73 L302.98 52.04 L303.61 51.4 L304.24 50.81 L304.87 50.28 L305.5 49.82 L306.13 49.44 L306.75 49.16 L307.38 48.98 L308.01 48.9 L308.64 48.91 L309.27 49.04 L309.9 49.26 L310.53 49.58 L311.16 49.98 L311.78 50.45 L312.41 50.99 L313.04 51.58 L313.67 52.2 L314.3 52.86 L314.93 53.54 L315.56 54.22 L316.18 54.91 L316.81 55.59 L317.44 56.27 L318.07 56.92 L318.7 57.56 L319.33 58.18 L319.96 58.77 L320.59 59.33 L321.21 59.86 L321.84 60.37 L322.47 60.85 L323.1 61.29 L323.73 61.71 L324.36 62.1 L324.99 62.46 L325.61 62.8 L326.24 63.11 L326.87 63.39 L327.5 63.66 L328.13 63.9 L328.76 64.12 L329.39 64.32 L330.02 64.5 L330.64 64.67 L331.27 64.82 L331.9 64.96 L332.53 65.08 L333.16 65.2 L333.79 65.31 L334.42 65.41 L335.04 65.5 L335.67 65.59 L336.3 65.67 L336.93 65.75 L337.56 65.82 L338.19 65.9 L338.82 65.97 L339.45 66.04 L340.07 66.12 L340.7 66.19 L341.33 66.26 L341.96 66.34 L342.59 66.42 L343.22 66.5 L343.85 66.58 L344.47 66.66 L345.1 66.75 L345.73 66.84 L346.36 66.93 L346.99 67.02 L347.62 67.12 L348.25 67.22 L348.88 67.32 L349.5 67.42 L350.13 67.53 L350.76 67.64 L351.39 67.74 L352.02 67.85 L352.65 67.96 L353.28 68.07 L353.91 68.19 L354.53 68.3 L355.16 68.41 L355.79 68.52 L356.42 68.63 L357.05 68.74 L357.68 68.85 L358.31 68.95 L358.93 69.06 L359.56 69.16 L360.19 69.26 L360.82 69.36 L361.45 69.46 L362.08 69.55 L362.71 69.65 L363.34 69.74 L363.96 69.82 L364.59 69.91 L365.22 69.99 L365.85 70.06 L366.48 70.14 L367.11 70.21 L367.74 70.28 L368.36 70.34 L368.99 70.41 L369.62 70.47 L370.25 70.52 L370.88 70.58 L371.51 70.63 L372.14 70.68 L372.77 70.72 L373.39 70.76 L374.02 70.81 L374.65 70.84 L375.28 70.88" stroke="#b57be6"/>
<path d="M237.6 82.4 L238.23 82.39 L238.86 82.38 L239.49 82.37 L240.11 82.36 L240.74 82.35 L241.37 82.34 L242 82.33 L242.63 82.32 L243.26 82.31 L243.89 82.3 L244.52 82.29 L245.14 82.28 L245.77 82.27 L246.4 82.25 L247.03 82.24 L247.66 82.23 L248.29 82.22 L248.92 82.2 L249.54 82.19 L250.17 82.17 L250.8 82.16 L251.43 82.14 L252.06 82.13 L252.69 82.11 L253.32 82.09 L253.95 82.07 L254.57 82.05 L255.2 82.04 L255.83 82.02 L256.46 82 L257.09 81.97 L257.72 81.95 L258.35 81.93 L258.97 81.91 L259.6 81.88 L260.23 81.86 L260.86 81.83 L261.49 81.8 L262.12 81.78 L262.75 81.75 L263.38 81.72 L264 81.68 L264.63 81.65 L265.26 81.62 L265.89 81.58 L266.52 81.54 L267.15 81.5 L267.78 81.46 L268.41 81.42 L269.03 81.37 L269.66 81.33 L270.29 81.28 L270.92 81.22 L271.55 81.17 L272.18 81.11 L272.81 81.05 L273.43 80.98 L274.06 80.91 L274.69 80.84 L275.32 80.76 L275.95 80.68 L276.58 80.59 L277.21 80.49 L277.84 80.39 L278.46 80.28 L279.09 80.17 L279.72 80.04 L280.35 79.91 L280.98 79.76 L281.61 79.6 L282.24 79.44 L282.86 79.25 L283.49 79.06 L284.12 78.85 L284.75 78.63 L285.38 78.38 L286.01 78.12 L286.64 77.84 L287.27 77.54 L287.89 77.22 L288.52 76.88 L289.15 76.51 L289.78 76.12 L290.41 75.7 L291.04 75.26 L291.67 74.79 L292.29 74.3 L292.92 73.77 L293.55 73.22 L294.18 72.64 L294.81 72.04 L295.44 71.41 L296.07 70.75 L296.7 70.07 L297.32 69.37 L297.95 68.65 L298.58 67.91 L299.21 67.17 L299.84 66.42 L300.47 65.67 L301.1 64.93 L301.72 64.2 L302.35 63.5 L302.98 62.85 L303.61 62.23 L304.24 61.68 L304.87 61.2 L305.5 60.79 L306.13 60.48 L306.75 60.26 L307.38 60.14 L308.01 60.12 L308.64 60.21 L309.27 60.4 L309.9 60.68 L310.53 61.05 L311.16 61.5 L311.78 62.02 L312.41 62.59 L313.04 63.2 L313.67 63.85 L314.3 64.53 L314.93 65.21 L315.56 65.9 L316.18 66.59 L316.81 67.26 L317.44 67.93 L318.07 68.57 L318.7 69.2 L319.33 69.8 L319.96 70.37 L320.59 70.92 L321.21 71.43 L321.84 71.92 L322.47 72.38 L323.1 72.81 L323.73 73.21 L324.36 73.58 L324.99 73.92 L325.61 74.24 L326.24 74.54 L326.87 74.8 L327.5 75.05 L328.13 75.28 L328.76 75.48 L329.39 75.67 L330.02 75.84 L330.64 76 L331.27 76.14 L331.9 76.26 L332.53 76.38 L333.16 76.49 L333.79 76.59 L334.42 76.68 L335.04 76.77 L335.67 76.85 L336.3 76.92 L336.93 76.99 L337.56 77.07 L338.19 77.13 L338.82 77.2 L339.45 77.27 L340.07 77.34 L340.7 77.41 L341.33 77.48 L341.96 77.55 L342.59 77.63 L343.22 77.7 L343.85 77.78 L344.47 77.86 L345.1 77.95 L345.73 78.03 L346.36 78.12 L346.99 78.22 L347.62 78.31 L348.25 78.41 L348.88 78.51 L349.5 78.61 L350.13 78.71 L350.76 78.82 L351.39 78.92 L352.02 79.03 L352.65 79.14 L353.28 79.25 L353.91 79.36 L354.53 79.47 L355.16 79.58 L355.79 79.69 L356.42 79.8 L357.05 79.91 L357.68 80.01 L358.31 80.12 L358.93 80.22 L359.56 80.33 L360.19 80.43 L360.82 80.53 L361.45 80.62 L362.08 80.71 L362.71 80.81 L363.34 80.89 L363.96 80.98 L364.59 81.06 L365.22 81.14 L365.85 81.22 L366.48 81.29 L367.11 81.36 L367.74 81.43 L368.36 81.5 L368.99 81.56 L369.62 81.62 L370.25 81.67 L370.88 81.73 L371.51 81.78 L372.14 81.82 L372.77 81.87 L373.39 81.91 L374.02 81.95 L374.65 81.99 L375.28 82.02" stroke="#3cb371"/>
<path d="M237.6 93.6 L238.23 93.59 L238.86 93.58 L239.49 93.57 L240.11 93.56 L240.74 93.55 L241.37 93.54 L242 93.53 L242.63 93.52 L243.26 93.51 L243.89 93.5 L244.52 93.49 L245.14 93.48 L245.77 93.47 L246.4 93.45 L247.03 93.44 L247.66 93.43 L248.29 93.41 L248.92 93.4 L249.54 93.38 L250.17 93.37 L250.8 93.35 L251.43 93.34 L252.06 93.32 L252.69 93.3 L253.32 93.29 L253.95 93.27 L254.57 93.25 L255.2 93.23 L255.83 93.21 L256.46 93.19 L257.09 93.17 L257.72 93.15 L258.35 93.12 L258.97 93.1 L259.6 93.07 L260.23 93.05 L260.86 93.02 L261.49 92.99 L262.12 92.97 L262.75 92.94 L263.38 92.9 L264 92.87 L264.63 92.84 L265.26 92.8 L265.89 92.77 L266.52 92.73 L267.15 92.69 L267.78 92.65 L268.41 92.6 L269.03 92.55 L269.66 92.51 L270.29 92.46 L270.92 92.4 L271.55 92.34 L272.18 92.28 L272.81 92.22 L273.43 92.15 L274.06 92.08 L274.69 92.01 L275.32 91.93 L275.95 91.84 L276.58 91.75 L277.21 91.65 L277.84 91.54 L278.46 91.43 L279.09 91.31 L279.72 91.18 L280.35 91.04 L280.98 90.89 L281.61 90.73 L282.24 90.56 L282.86 90.37 L283.49 90.17 L284.12 89.95 L284.75 89.72 L285.38 89.47 L286.01 89.2 L286.64 88.91 L287.27 88.6 L287.89 88.27 L288.52 87.91 L289.15 87.53 L289.78 87.13 L290.41 86.7 L291.04 86.25 L291.67 85.77 L292.29 85.26 L292.92 84.72 L293.55 84.16 L294.18 83.57 L294.81 82.95 L295.44 82.3 L296.07 81.64 L296.7 80.94 L297.32 80.23 L297.95 79.51 L298.58 78.77 L299.21 78.02 L299.84 77.27 L300.47 76.52 L301.1 75.79 L301.72 75.08 L302.35 74.4 L302.98 73.76 L303.61 73.17 L304.24 72.65 L304.87 72.21 L305.5 71.85 L306.13 71.58 L306.75 71.41 L307.38 71.34 L308.01 71.37 L308.64 71.51 L309.27 71.74 L309.9 72.07 L310.53 72.48 L311.16 72.96 L311.78 73.51 L312.41 74.1 L313.04 74.73 L313.67 75.4 L314.3 76.08 L314.93 76.76 L315.56 77.45 L316.18 78.14 L316.81 78.81 L317.44 79.47 L318.07 80.1 L318.7 80.72 L319.33 81.3 L319.96 81.86 L320.59 82.4 L321.21 82.9 L321.84 83.37 L322.47 83.82 L323.1 84.23 L323.73 84.62 L324.36 84.98 L324.99 85.31 L325.61 85.61 L326.24 85.89 L326.87 86.15 L327.5 86.39 L328.13 86.6 L328.76 86.8 L329.39 86.97 L330.02 87.14 L330.64 87.28 L331.27 87.41 L331.9 87.54 L332.53 87.65 L333.16 87.75 L333.79 87.84 L334.42 87.92 L335.04 88 L335.67 88.08 L336.3 88.15 L336.93 88.22 L337.56 88.29 L338.19 88.35 L338.82 88.42 L339.45 88.48 L340.07 88.55 L340.7 88.61 L341.33 88.68 L341.96 88.75 L342.59 88.82 L343.22 88.9 L343.85 88.97 L344.47 89.05 L345.1 89.14 L345.73 89.22 L346.36 89.31 L346.99 89.4 L347.62 89.49 L348.25 89.59 L348.88 89.69 L349.5 89.79 L350.13 89.89 L350.76 89.99 L351.39 90.1 L352.02 90.21 L352.65 90.31 L353.28 90.42 L353.91 90.53 L354.53 90.64 L355.16 90.75 L355.79 90.86 L356.42 90.96 L357.05 91.07 L357.68 91.18 L358.31 91.28 L358.93 91.39 L359.56 91.49 L360.19 91.59 L360.82 91.68 L361.45 91.78 L362.08 91.87 L362.71 91.96 L363.34 92.05 L363.96 92.13 L364.59 92.22 L365.22 92.29 L365.85 92.37 L366.48 92.44 L367.11 92.51 L367.74 92.58 L368.36 92.64 L368.99 92.7 L369.62 92.76 L370.25 92.82 L370.88 92.87 L371.51 92.92 L372.14 92.97 L372.77 93.01 L373.39 93.05 L374.02 93.09 L374.65 93.13 L375.28 93.16" stroke="#2f7fe8"/>
<path d="M237.6 104.8 L238.23 104.79 L238.86 104.78 L239.49 104.77 L240.11 104.76 L240.74 104.75 L241.37 104.74 L242 104.73 L242.63 104.72 L243.26 104.71 L243.89 104.7 L244.52 104.69 L245.14 104.68 L245.77 104.66 L246.4 104.65 L247.03 104.64 L247.66 104.62 L248.29 104.61 L248.92 104.6 L249.54 104.58 L250.17 104.57 L250.8 104.55 L251.43 104.53 L252.06 104.52 L252.69 104.5 L253.32 104.48 L253.95 104.46 L254.57 104.44 L255.2 104.43 L255.83 104.4 L256.46 104.38 L257.09 104.36 L257.72 104.34 L258.35 104.32 L258.97 104.29 L259.6 104.27 L260.23 104.24 L260.86 104.21 L261.49 104.18 L262.12 104.16 L262.75 104.12 L263.38 104.09 L264 104.06 L264.63 104.03 L265.26 103.99 L265.89 103.95 L266.52 103.91 L267.15 103.87 L267.78 103.83 L268.41 103.78 L269.03 103.74 L269.66 103.69 L270.29 103.63 L270.92 103.58 L271.55 103.52 L272.18 103.46 L272.81 103.39 L273.43 103.32 L274.06 103.25 L274.69 103.17 L275.32 103.09 L275.95 103 L276.58 102.91 L277.21 102.8 L277.84 102.7 L278.46 102.58 L279.09 102.45 L279.72 102.32 L280.35 102.18 L280.98 102.02 L281.61 101.85 L282.24 101.67 L282.86 101.48 L283.49 101.27 L284.12 101.04 L284.75 100.8 L285.38 100.54 L286.01 100.27 L286.64 99.97 L287.27 99.65 L287.89 99.3 L288.52 98.94 L289.15 98.55 L289.78 98.13 L290.41 97.69 L291.04 97.23 L291.67 96.73 L292.29 96.21 L292.92 95.66 L293.55 95.08 L294.18 94.48 L294.81 93.85 L295.44 93.19 L296.07 92.52 L296.7 91.82 L297.32 91.1 L297.95 90.36 L298.58 89.62 L299.21 88.87 L299.84 88.12 L300.47 87.38 L301.1 86.66 L301.72 85.96 L302.35 85.3 L302.98 84.69 L303.61 84.13 L304.24 83.65 L304.87 83.24 L305.5 82.92 L306.13 82.7 L306.75 82.58 L307.38 82.56 L308.01 82.64 L308.64 82.83 L309.27 83.11 L309.9 83.48 L310.53 83.92 L311.16 84.44 L311.78 85.01 L312.41 85.62 L313.04 86.27 L313.67 86.94 L314.3 87.63 L314.93 88.32 L315.56 89.01 L316.18 89.69 L316.81 90.35 L317.44 91 L318.07 91.63 L318.7 92.23 L319.33 92.8 L319.96 93.35 L320.59 93.87 L321.21 94.36 L321.84 94.82 L322.47 95.25 L323.1 95.65 L323.73 96.02 L324.36 96.37 L324.99 96.69 L325.61 96.98 L326.24 97.25 L326.87 97.49 L327.5 97.72 L328.13 97.92 L328.76 98.11 L329.39 98.27 L330.02 98.43 L330.64 98.56 L331.27 98.69 L331.9 98.8 L332.53 98.91 L333.16 99 L333.79 99.09 L334.42 99.17 L335.04 99.24 L335.67 99.31 L336.3 99.38 L336.93 99.44 L337.56 99.51 L338.19 99.57 L338.82 99.63 L339.45 99.69 L340.07 99.75 L340.7 99.82 L341.33 99.88 L341.96 99.95 L342.59 100.02 L343.22 100.09 L343.85 100.17 L344.47 100.24 L345.1 100.33 L345.73 100.41 L346.36 100.49 L346.99 100.58 L347.62 100.68 L348.25 100.77 L348.88 100.87 L349.5 100.97 L350.13 101.07 L350.76 101.17 L351.39 101.27 L352.02 101.38 L352.65 101.48 L353.28 101.59 L353.91 101.7 L354.53 101.81 L355.16 101.91 L355.79 102.02 L356.42 102.13 L357.05 102.24 L357.68 102.34 L358.31 102.44 L358.93 102.55 L359.56 102.65 L360.19 102.75 L360.82 102.84 L361.45 102.94 L362.08 103.03 L362.71 103.12 L363.34 103.2 L363.96 103.29 L364.59 103.37 L365.22 103.45 L365.85 103.52 L366.48 103.59 L367.11 103.66 L367.74 103.73 L368.36 103.79 L368.99 103.85 L369.62 103.91 L370.25 103.96 L370.88 104.02 L371.51 104.06 L372.14 104.11 L372.77 104.15 L373.39 104.19 L374.02 104.23 L374.65 104.27 L375.28 104.3" stroke="#f25050"/>
<path d="M237.6 116 L238.23 115.99 L238.86 115.98 L239.49 115.97 L240.11 115.96 L240.74 115.95 L241.37 115.94 L242 115.93 L242.63 115.92 L243.26 115.91 L243.89 115.9 L244.52 115.89 L245.14 115.87 L245.77 115.86 L246.4 115.85 L247.03 115.84 L247.66 115.82 L248.29 115.81 L248.92 115.79 L249.54 115.78 L250.17 115.76 L250.8 115.75 L251.43 115.73 L252.06 115.71 L252.69 115.7 L253.32 115.68 L253.95 115.66 L254.57 115.64 L255.2 115.62 L255.83 115.6 L256.46 115.58 L257.09 115.56 L257.72 115.53 L258.35 115.51 L258.97 115.49 L259.6 115.46 L260.23 115.43 L260.86 115.41 L261.49 115.38 L262.12 115.35 L262.75 115.32 L263.38 115.29 L264 115.25 L264.63 115.22 L265.26 115.18 L265.89 115.14 L266.52 115.1 L267.15 115.06 L267.78 115.02 L268.41 114.97 L269.03 114.92 L269.66 114.87 L270.29 114.82 L270.92 114.76 L271.55 114.7 L272.18 114.64 L272.81 114.58 L273.43 114.5 L274.06 114.43 L274.69 114.35 L275.32 114.27 L275.95 114.17 L276.58 114.08 L277.21 113.97 L277.84 113.86 L278.46 113.74 L279.09 113.62 L279.72 113.48 L280.35 113.33 L280.98 113.17 L281.61 113 L282.24 112.81 L282.86 112.62 L283.49 112.4 L284.12 112.17 L284.75 111.93 L285.38 111.66 L286.01 111.38 L286.64 111.07 L287.27 110.74 L287.89 110.39 L288.52 110.02 L289.15 109.62 L289.78 109.2 L290.41 108.75 L291.04 108.28 L291.67 107.77 L292.29 107.24 L292.92 106.68 L293.55 106.1 L294.18 105.49 L294.81 104.85 L295.44 104.19 L296.07 103.5 L296.7 102.79 L297.32 102.07 L297.95 101.33 L298.58 100.59 L299.21 99.84 L299.84 99.09 L300.47 98.35 L301.1 97.64 L301.72 96.95 L302.35 96.31 L302.98 95.71 L303.61 95.18 L304.24 94.72 L304.87 94.34 L305.5 94.05 L306.13 93.86 L306.75 93.77 L307.38 93.79 L308.01 93.9 L308.64 94.12 L309.27 94.43 L309.9 94.82 L310.53 95.29 L311.16 95.83 L311.78 96.41 L312.41 97.04 L313.04 97.7 L313.67 98.37 L314.3 99.06 L314.93 99.75 L315.56 100.44 L316.18 101.12 L316.81 101.78 L317.44 102.42 L318.07 103.04 L318.7 103.63 L319.33 104.2 L319.96 104.74 L320.59 105.24 L321.21 105.72 L321.84 106.17 L322.47 106.59 L323.1 106.99 L323.73 107.35 L324.36 107.68 L324.99 107.99 L325.61 108.28 L326.24 108.54 L326.87 108.78 L327.5 108.99 L328.13 109.19 L328.76 109.37 L329.39 109.53 L330.02 109.68 L330.64 109.81 L331.27 109.93 L331.9 110.04 L332.53 110.14 L333.16 110.23 L333.79 110.31 L334.42 110.38 L335.04 110.45 L335.67 110.52 L336.3 110.59 L336.93 110.65 L337.56 110.71 L338.19 110.77 L338.82 110.83 L339.45 110.88 L340.07 110.95 L340.7 111.01 L341.33 111.07 L341.96 111.14 L342.59 111.2 L343.22 111.28 L343.85 111.35 L344.47 111.42 L345.1 111.5 L345.73 111.59 L346.36 111.67 L346.99 111.76 L347.62 111.85 L348.25 111.94 L348.88 112.04 L349.5 112.14 L350.13 112.24 L350.76 112.34 L351.39 112.44 L352.02 112.54 L352.65 112.65 L353.28 112.76 L353.91 112.86 L354.53 112.97 L355.16 113.08 L355.79 113.18 L356.42 113.29 L357.05 113.39 L357.68 113.5 L358.31 113.6 L358.93 113.7 L359.56 113.8 L360.19 113.9 L360.82 114 L361.45 114.09 L362.08 114.18 L362.71 114.27 L363.34 114.35 L363.96 114.44 L364.59 114.52 L365.22 114.59 L365.85 114.67 L366.48 114.74 L367.11 114.81 L367.74 114.87 L368.36 114.94 L368.99 115 L369.62 115.05 L370.25 115.11 L370.88 115.16 L371.51 115.2 L372.14 115.25 L372.77 115.29 L373.39 115.33 L374.02 115.37 L374.65 115.4 L375.28 115.44" stroke="#444444"/>
<path d="M237.6 127.2 L238.23 127.19 L238.86 127.18 L239.49 127.17 L240.11 127.16 L240.74 127.15 L241.37 127.14 L242 127.13 L242.63 127.12 L243.26 127.11 L243.89 127.1 L244.52 127.09 L245.14 127.07 L245.77 127.06 L246.4 127.05 L247.03 127.04 L247.66 127.02 L248.29 127.01 L248.92 126.99 L249.54 126.98 L250.17 126.96 L250.8 126.95 L251.43 126.93 L252.06 126.91 L252.69 126.9 L253.32 126.88 L253.95 126.86 L254.57 126.84 L255.2 126.82 L255.83 126.8 L256.46 126.78 L257.09 126.76 L257.72 126.73 L258.35 126.71 L258.97 126.69 L259.6 126.66 L260.23 126.63 L260.86 126.61 L261.49 126.58 L262.12 126.55 L262.75 126.52 L263.38 126.49 L264 126.45 L264.63 126.42 L265.26 126.38 L265.89 126.34 L266.52 126.3 L267.15 126.26 L267.78 126.22 L268.41 126.17 L269.03 126.12 L269.66 126.07 L270.29 126.02 L270.92 125.96 L271.55 125.9 L272.18 125.84 L272.81 125.78 L273.43 125.7 L274.06 125.63 L274.69 125.55 L275.32 125.47 L275.95 125.37 L276.58 125.28 L277.21 125.17 L277.84 125.06 L278.46 124.94 L279.09 124.82 L279.72 124.68 L280.35 124.53 L280.98 124.37 L281.61 124.2 L282.24 124.01 L282.86 123.82 L283.49 123.6 L284.12 123.37 L284.75 123.13 L285.38 122.86 L286.01 122.58 L286.64 122.27 L287.27 121.94 L287.89 121.59 L288.52 121.22 L289.15 120.82 L289.78 120.4 L290.41 119.95 L291.04 119.48 L291.67 118.97 L292.29 118.44 L292.92 117.88 L293.55 117.3 L294.18 116.69 L294.81 116.05 L295.44 115.39 L296.07 114.7 L296.7 113.99 L297.32 113.27 L297.95 112.53 L298.58 111.79 L299.21 111.04 L299.84 110.29 L300.47 109.55 L301.1 108.84 L301.72 108.15 L302.35 107.51 L302.98 106.91 L303.61 106.38 L304.24 105.92 L304.87 105.54 L305.5 105.25 L306.13 105.06 L306.75 104.97 L307.38 104.99 L308.01 105.1 L308.64 105.32 L309.27 105.62 L309.9 106.02 L310.53 106.49 L311.16 107.02 L311.78 107.61 L312.41 108.23 L313.04 108.89 L313.67 109.57 L314.3 110.25 L314.93 110.95 L315.56 111.63 L316.18 112.31 L316.81 112.97 L317.44 113.61 L318.07 114.23 L318.7 114.82 L319.33 115.38 L319.96 115.92 L320.59 116.43 L321.21 116.91 L321.84 117.36 L322.47 117.78 L323.1 118.17 L323.73 118.53 L324.36 118.87 L324.99 119.18 L325.61 119.46 L326.24 119.72 L326.87 119.96 L327.5 120.17 L328.13 120.37 L328.76 120.55 L329.39 120.71 L330.02 120.85 L330.64 120.99 L331.27 121.1 L331.9 121.21 L332.53 121.31 L333.16 121.4 L333.79 121.48 L334.42 121.56 L335.04 121.63 L335.67 121.69 L336.3 121.76 L336.93 121.82 L337.56 121.88 L338.19 121.93 L338.82 121.99 L339.45 122.05 L340.07 122.11 L340.7 122.17 L341.33 122.24 L341.96 122.3 L342.59 122.37 L343.22 122.44 L343.85 122.51 L344.47 122.59 L345.1 122.67 L345.73 122.75 L346.36 122.83 L346.99 122.92 L347.62 123.01 L348.25 123.1 L348.88 123.2 L349.5 123.29 L350.13 123.39 L350.76 123.49 L351.39 123.6 L352.02 123.7 L352.65 123.8 L353.28 123.91 L353.91 124.02 L354.53 124.12 L355.16 124.23 L355.79 124.33 L356.42 124.44 L357.05 124.54 L357.68 124.65 L358.31 124.75 L358.93 124.85 L359.56 124.95 L360.19 125.05 L360.82 125.14 L361.45 125.23 L362.08 125.32 L362.71 125.41 L363.34 125.5 L363.96 125.58 L364.59 125.66 L365.22 125.74 L365.85 125.81 L366.48 125.88 L367.11 125.95 L367.74 126.01 L368.36 126.08 L368.99 126.13 L369.62 126.19 L370.25 126.24 L370.88 126.29 L371.51 126.34 L372.14 126.38 L372.77 126.43 L373.39 126.47 L374.02 126.5 L374.65 126.54 L375.28 126.57" stroke="#7cc42e"/>
<path d="M237.6 138.4 L238.23 138.39 L238.86 138.38 L239.49 138.37 L240.11 138.36 L240.74 138.35 L241.37 138.34 L242 138.33 L242.63 138.32 L243.26 138.31 L243.89 138.3 L244.52 138.29 L245.14 138.27 L245.77 138.26 L246.4 138.25 L247.03 138.24 L247.66 138.22 L248.29 138.21 L248.92 138.19 L249.54 138.18 L250.17 138.16 L250.8 138.15 L251.43 138.13 L252.06 138.11 L252.69 138.1 L253.32 138.08 L253.95 138.06 L254.57 138.04 L255.2 138.02 L255.83 138 L256.46 137.98 L257.09 137.96 L257.72 137.93 L258.35 137.91 L258.97 137.89 L259.6 137.86 L260.23 137.83 L260.86 137.81 L261.49 137.78 L262.12 137.75 L262.75 137.72 L263.38 137.69 L264 137.65 L264.63 137.62 L265.26 137.58 L265.89 137.54 L266.52 137.5 L267.15 137.46 L267.78 137.42 L268.41 137.37 L269.03 137.32 L269.66 137.27 L270.29 137.22 L270.92 137.16 L271.55 137.1 L272.18 137.04 L272.81 136.98 L273.43 136.9 L274.06 136.83 L274.69 136.75 L275.32 136.67 L275.95 136.57 L276.58 136.48 L277.21 136.37 L277.84 136.26 L278.46 136.14 L279.09 136.02 L279.72 135.88 L280.35 135.73 L280.98 135.57 L281.61 135.4 L282.24 135.21 L282.86 135.02 L283.49 134.8 L284.12 134.57 L284.75 134.33 L285.38 134.06 L286.01 133.78 L286.64 133.47 L287.27 133.14 L287.89 132.79 L288.52 132.42 L289.15 132.02 L289.78 131.6 L290.41 131.15 L291.04 130.68 L291.67 130.17 L292.29 129.64 L292.92 129.08 L293.55 128.5 L294.18 127.89 L294.81 127.25 L295.44 126.59 L296.07 125.9 L296.7 125.19 L297.32 124.47 L297.95 123.73 L298.58 122.99 L299.21 122.24 L299.84 121.49 L300.47 120.75 L301.1 120.04 L301.72 119.35 L302.35 118.71 L302.98 118.11 L303.61 117.58 L304.24 117.12 L304.87 116.74 L305.5 116.45 L306.13 116.26 L306.75 116.17 L307.38 116.18 L308.01 116.3 L308.64 116.51 L309.27 116.82 L309.9 117.22 L310.53 117.68 L311.16 118.22 L311.78 118.8 L312.41 119.43 L313.04 120.08 L313.67 120.76 L314.3 121.45 L314.93 122.14 L315.56 122.82 L316.18 123.5 L316.81 124.16 L317.44 124.8 L318.07 125.41 L318.7 126.01 L319.33 126.57 L319.96 127.11 L320.59 127.62 L321.21 128.09 L321.84 128.54 L322.47 128.96 L323.1 129.35 L323.73 129.71 L324.36 130.05 L324.99 130.36 L325.61 130.64 L326.24 130.9 L326.87 131.14 L327.5 131.35 L328.13 131.55 L328.76 131.72 L329.39 131.89 L330.02 132.03 L330.64 132.16 L331.27 132.28 L331.9 132.39 L332.53 132.48 L333.16 132.57 L333.79 132.65 L334.42 132.73 L335.04 132.8 L335.67 132.86 L336.3 132.93 L336.93 132.99 L337.56 133.05 L338.19 133.1 L338.82 133.16 L339.45 133.22 L340.07 133.28 L340.7 133.34 L341.33 133.4 L341.96 133.47 L342.59 133.53 L343.22 133.6 L343.85 133.67 L344.47 133.75 L345.1 133.83 L345.73 133.91 L346.36 133.99 L346.99 134.08 L347.62 134.17 L348.25 134.26 L348.88 134.35 L349.5 134.45 L350.13 134.55 L350.76 134.65 L351.39 134.75 L352.02 134.85 L352.65 134.96 L353.28 135.06 L353.91 135.17 L354.53 135.27 L355.16 135.38 L355.79 135.49 L356.42 135.59 L357.05 135.69 L357.68 135.8 L358.31 135.9 L358.93 136 L359.56 136.1 L360.19 136.19 L360.82 136.29 L361.45 136.38 L362.08 136.47 L362.71 136.56 L363.34 136.64 L363.96 136.72 L364.59 136.8 L365.22 136.88 L365.85 136.95 L366.48 137.02 L367.11 137.09 L367.74 137.15 L368.36 137.21 L368.99 137.27 L369.62 137.33 L370.25 137.38 L370.88 137.43 L371.51 137.48 L372.14 137.52 L372.77 137.56 L373.39 137.6 L374.02 137.64 L374.65 137.67 L375.28 137.7" stroke="#6fa8e0"/>
<path d="M237.6 149.6 L238.23 149.59 L238.86 149.58 L239.49 149.57 L240.11 149.56 L240.74 149.55 L241.37 149.54 L242 149.53 L242.63 149.52 L243.26 149.51 L243.89 149.5 L244.52 149.49 L245.14 149.47 L245.77 149.46 L246.4 149.45 L247.03 149.44 L247.66 149.42 L248.29 149.41 L248.92 149.39 L249.54 149.38 L250.17 149.36 L250.8 149.35 L251.43 149.33 L252.06 149.31 L252.69 149.3 L253.32 149.28 L253.95 149.26 L254.57 149.24 L255.2 149.22 L255.83 149.2 L256.46 149.18 L257.09 149.16 L257.72 149.13 L258.35 149.11 L258.97 149.09 L259.6 149.06 L260.23 149.03 L260.86 149.01 L261.49 148.98 L262.12 148.95 L262.75 148.92 L263.38 148.89 L264 148.85 L264.63 148.82 L265.26 148.78 L265.89 148.74 L266.52 148.7 L267.15 148.66 L267.78 148.62 L268.41 148.57 L269.03 148.52 L269.66 148.47 L270.29 148.42 L270.92 148.36 L271.55 148.3 L272.18 148.24 L272.81 148.18 L273.43 148.1 L274.06 148.03 L274.69 147.95 L275.32 147.87 L275.95 147.77 L276.58 147.68 L277.21 147.57 L277.84 147.46 L278.46 147.34 L279.09 147.22 L279.72 147.08 L280.35 146.93 L280.98 146.77 L281.61 146.6 L282.24 146.41 L282.86 146.22 L283.49 146 L284.12 145.77 L284.75 145.53 L285.38 145.26 L286.01 144.98 L286.64 144.67 L287.27 144.34 L287.89 143.99 L288.52 143.62 L289.15 143.22 L289.78 142.8 L290.41 142.35 L291.04 141.88 L291.67 141.37 L292.29 140.84 L292.92 140.28 L293.55 139.7 L294.18 139.09 L294.81 138.45 L295.44 137.79 L296.07 137.1 L296.7 136.39 L297.32 135.67 L297.95 134.93 L298.58 134.19 L299.21 133.44 L299.84 132.69 L300.47 131.95 L301.1 131.24 L301.72 130.55 L302.35 129.91 L302.98 129.31 L303.61 128.78 L304.24 128.32 L304.87 127.94 L305.5 127.65 L306.13 127.46 L306.75 127.37 L307.38 127.38 L308.01 127.5 L308.64 127.71 L309.27 128.02 L309.9 128.41 L310.53 128.88 L311.16 129.41 L311.78 130 L312.41 130.62 L313.04 131.28 L313.67 131.95 L314.3 132.64 L314.93 133.33 L315.56 134.01 L316.18 134.69 L316.81 135.35 L317.44 135.99 L318.07 136.6 L318.7 137.19 L319.33 137.76 L319.96 138.3 L320.59 138.8 L321.21 139.28 L321.84 139.73 L322.47 140.15 L323.1 140.54 L323.73 140.9 L324.36 141.23 L324.99 141.54 L325.61 141.82 L326.24 142.08 L326.87 142.32 L327.5 142.53 L328.13 142.73 L328.76 142.9 L329.39 143.06 L330.02 143.21 L330.64 143.34 L331.27 143.46 L331.9 143.56 L332.53 143.66 L333.16 143.75 L333.79 143.83 L334.42 143.9 L335.04 143.97 L335.67 144.04 L336.3 144.1 L336.93 144.16 L337.56 144.21 L338.19 144.27 L338.82 144.33 L339.45 144.39 L340.07 144.45 L340.7 144.51 L341.33 144.57 L341.96 144.63 L342.59 144.7 L343.22 144.77 L343.85 144.84 L344.47 144.91 L345.1 144.99 L345.73 145.07 L346.36 145.15 L346.99 145.24 L347.62 145.33 L348.25 145.42 L348.88 145.51 L349.5 145.61 L350.13 145.71 L350.76 145.81 L351.39 145.91 L352.02 146.01 L352.65 146.11 L353.28 146.22 L353.91 146.32 L354.53 146.43 L355.16 146.53 L355.79 146.64 L356.42 146.74 L357.05 146.84 L357.68 146.95 L358.31 147.05 L358.93 147.15 L359.56 147.24 L360.19 147.34 L360.82 147.43 L361.45 147.53 L362.08 147.61 L362.71 147.7 L363.34 147.78 L363.96 147.87 L364.59 147.94 L365.22 148.02 L365.85 148.09 L366.48 148.16 L367.11 148.23 L367.74 148.29 L368.36 148.35 L368.99 148.41 L369.62 148.46 L370.25 148.52 L370.88 148.56 L371.51 148.61 L372.14 148.65 L372.77 148.69 L373.39 148.73 L374.02 148.77 L374.65 148.8 L375.28 148.83" stroke="#ff7a26"/>
<path d="M237.6 160.8 L238.23 160.79 L238.86 160.78 L239.49 160.77 L240.11 160.76 L240.74 160.75 L241.37 160.74 L242 160.73 L242.63 160.72 L243.26 160.71 L243.89 160.7 L244.52 160.69 L245.14 160.67 L245.77 160.66 L246.4 160.65 L247.03 160.64 L247.66 160.62 L248.29 160.61 L248.92 160.59 L249.54 160.58 L250.17 160.56 L250.8 160.55 L251.43 160.53 L252.06 160.51 L252.69 160.5 L253.32 160.48 L253.95 160.46 L254.57 160.44 L255.2 160.42 L255.83 160.4 L256.46 160.38 L257.09 160.36 L257.72 160.33 L258.35 160.31 L258.97 160.29 L259.6 160.26 L260.23 160.23 L260.86 160.21 L261.49 160.18 L262.12 160.15 L262.75 160.12 L263.38 160.09 L264 160.05 L264.63 160.02 L265.26 159.98 L265.89 159.94 L266.52 159.9 L267.15 159.86 L267.78 159.82 L268.41 159.77 L269.03 159.72 L269.66 159.67 L270.29 159.62 L270.92 159.56 L271.55 159.5 L272.18 159.44 L272.81 159.38 L273.43 159.3 L274.06 159.23 L274.69 159.15 L275.32 159.07 L275.95 158.97 L276.58 158.88 L277.21 158.77 L277.84 158.66 L278.46 158.54 L279.09 158.42 L279.72 158.28 L280.35 158.13 L280.98 157.97 L281.61 157.8 L282.24 157.61 L282.86 157.42 L283.49 157.2 L284.12 156.97 L284.75 156.73 L285.38 156.46 L286.01 156.18 L286.64 155.87 L287.27 155.54 L287.89 155.19 L288.52 154.82 L289.15 154.42 L289.78 154 L290.41 153.55 L291.04 153.08 L291.67 152.57 L292.29 152.04 L292.92 151.48 L293.55 150.9 L294.18 150.29 L294.81 149.65 L295.44 148.99 L296.07 148.3 L296.7 147.59 L297.32 146.87 L297.95 146.13 L298.58 145.39 L299.21 144.64 L299.84 143.89 L300.47 143.15 L301.1 142.44 L301.72 141.75 L302.35 141.11 L302.98 140.51 L303.61 139.98 L304.24 139.52 L304.87 139.14 L305.5 138.85 L306.13 138.66 L306.75 138.57 L307.38 138.58 L308.01 138.7 L308.64 138.91 L309.27 139.22 L309.9 139.61 L310.53 140.08 L311.16 140.61 L311.78 141.19 L312.41 141.82 L313.04 142.47 L313.67 143.15 L314.3 143.83 L314.93 144.52 L315.56 145.2 L316.18 145.88 L316.81 146.54 L317.44 147.18 L318.07 147.79 L318.7 148.38 L319.33 148.95 L319.96 149.48 L320.59 149.99 L321.21 150.47 L321.84 150.91 L322.47 151.33 L323.1 151.72 L323.73 152.08 L324.36 152.41 L324.99 152.72 L325.61 153 L326.24 153.26 L326.87 153.5 L327.5 153.71 L328.13 153.91 L328.76 154.08 L329.39 154.24 L330.02 154.38 L330.64 154.51 L331.27 154.63 L331.9 154.74 L332.53 154.83 L333.16 154.92 L333.79 155 L334.42 155.07 L335.04 155.14 L335.67 155.21 L336.3 155.27 L336.93 155.33 L337.56 155.38 L338.19 155.44 L338.82 155.5 L339.45 155.55 L340.07 155.61 L340.7 155.67 L341.33 155.73 L341.96 155.8 L342.59 155.86 L343.22 155.93 L343.85 156 L344.47 156.07 L345.1 156.15 L345.73 156.23 L346.36 156.31 L346.99 156.4 L347.62 156.49 L348.25 156.58 L348.88 156.67 L349.5 156.77 L350.13 156.86 L350.76 156.96 L351.39 157.06 L352.02 157.16 L352.65 157.27 L353.28 157.37 L353.91 157.47 L354.53 157.58 L355.16 157.68 L355.79 157.79 L356.42 157.89 L357.05 157.99 L357.68 158.1 L358.31 158.2 L358.93 158.29 L359.56 158.39 L360.19 158.49 L360.82 158.58 L361.45 158.67 L362.08 158.76 L362.71 158.85 L363.34 158.93 L363.96 159.01 L364.59 159.09 L365.22 159.16 L365.85 159.23 L366.48 159.3 L367.11 159.37 L367.74 159.43 L368.36 159.49 L368.99 159.55 L369.62 159.6 L370.25 159.65 L370.88 159.7 L371.51 159.75 L372.14 159.79 L372.77 159.83 L373.39 159.87 L374.02 159.9 L374.65 159.93 L375.28 159.96" stroke="#9aa32a"/>
<path d="M237.6 172 L238.23 171.99 L238.86 171.98 L239.49 171.97 L240.11 171.96 L240.74 171.95 L241.37 171.94 L242 171.93 L242.63 171.92 L243.26 171.91 L243.89 171.9 L244.52 171.89 L245.14 171.87 L245.77 171.86 L246.4 171.85 L247.03 171.84 L247.66 171.82 L248.29 171.81 L248.92 171.79 L249.54 171.78 L250.17 171.76 L250.8 171.75 L251.43 171.73 L252.06 171.71 L252.69 171.7 L253.32 171.68 L253.95 171.66 L254.57 171.64 L255.2 171.62 L255.83 171.6 L256.46 171.58 L257.09 171.56 L257.72 171.53 L258.35 171.51 L258.97 171.49 L259.6 171.46 L260.23 171.43 L260.86 171.41 L261.49 171.38 L262.12 171.35 L262.75 171.32 L263.38 171.29 L264 171.25 L264.63 171.22 L265.26 171.18 L265.89 171.14 L266.52 171.1 L267.15 171.06 L267.78 171.02 L268.41 170.97 L269.03 170.92 L269.66 170.87 L270.29 170.82 L270.92 170.76 L271.55 170.7 L272.18 170.64 L272.81 170.58 L273.43 170.5 L274.06 170.43 L274.69 170.35 L275.32 170.27 L275.95 170.17 L276.58 170.08 L277.21 169.97 L277.84 169.86 L278.46 169.74 L279.09 169.62 L279.72 169.48 L280.35 169.33 L280.98 169.17 L281.61 169 L282.24 168.81 L282.86 168.62 L283.49 168.4 L284.12 168.17 L284.75 167.93 L285.38 167.66 L286.01 167.38 L286.64 167.07 L287.27 166.74 L287.89 166.39 L288.52 166.02 L289.15 165.62 L289.78 165.2 L290.41 164.75 L291.04 164.28 L291.67 163.77 L292.29 163.24 L292.92 162.68 L293.55 162.1 L294.18 161.49 L294.81 160.85 L295.44 160.19 L296.07 159.5 L296.7 158.79 L297.32 158.07 L297.95 157.33 L298.58 156.59 L299.21 155.84 L299.84 155.09 L300.47 154.35 L301.1 153.64 L301.72 152.95 L302.35 152.31 L302.98 151.71 L303.61 151.18 L304.24 150.72 L304.87 150.34 L305.5 150.05 L306.13 149.86 L306.75 149.77 L307.38 149.78 L308.01 149.9 L308.64 150.11 L309.27 150.41 L309.9 150.81 L310.53 151.27 L311.16 151.8 L311.78 152.39 L312.41 153.01 L313.04 153.67 L313.67 154.34 L314.3 155.02 L314.93 155.71 L315.56 156.4 L316.18 157.07 L316.81 157.73 L317.44 158.37 L318.07 158.98 L318.7 159.57 L319.33 160.13 L319.96 160.67 L320.59 161.18 L321.21 161.65 L321.84 162.1 L322.47 162.52 L323.1 162.9 L323.73 163.26 L324.36 163.6 L324.99 163.9 L325.61 164.18 L326.24 164.44 L326.87 164.68 L327.5 164.89 L328.13 165.08 L328.76 165.26 L329.39 165.42 L330.02 165.56 L330.64 165.69 L331.27 165.81 L331.9 165.91 L332.53 166.01 L333.16 166.09 L333.79 166.17 L334.42 166.25 L335.04 166.31 L335.67 166.38 L336.3 166.44 L336.93 166.5 L337.56 166.55 L338.19 166.61 L338.82 166.67 L339.45 166.72 L340.07 166.78 L340.7 166.84 L341.33 166.9 L341.96 166.96 L342.59 167.03 L343.22 167.09 L343.85 167.16 L344.47 167.24 L345.1 167.31 L345.73 167.39 L346.36 167.47 L346.99 167.56 L347.62 167.65 L348.25 167.74 L348.88 167.83 L349.5 167.92 L350.13 168.02 L350.76 168.12 L351.39 168.22 L352.02 168.32 L352.65 168.42 L353.28 168.52 L353.91 168.63 L354.53 168.73 L355.16 168.83 L355.79 168.94 L356.42 169.04 L357.05 169.14 L357.68 169.24 L358.31 169.34 L358.93 169.44 L359.56 169.54 L360.19 169.63 L360.82 169.73 L361.45 169.82 L362.08 169.9 L362.71 169.99 L363.34 170.07 L363.96 170.15 L364.59 170.23 L365.22 170.3 L365.85 170.37 L366.48 170.44 L367.11 170.51 L367.74 170.57 L368.36 170.63 L368.99 170.69 L369.62 170.74 L370.25 170.79 L370.88 170.84 L371.51 170.88 L372.14 170.92 L372.77 170.96 L373.39 171 L374.02 171.03 L374.65 171.07 L375.28 171.1" stroke="#8a5a5a"/>
<path d="M237.6 183.2 L238.23 183.19 L238.86 183.18 L239.49 183.17 L240.11 183.16 L240.74 183.15 L241.37 183.14 L242 183.13 L242.63 183.12 L243.26 183.11 L243.89 183.1 L244.52 183.09 L245.14 183.08 L245.77 183.06 L246.4 183.05 L247.03 183.04 L247.66 183.02 L248.29 183.01 L248.92 183 L249.54 182.98 L250.17 182.97 L250.8 182.95 L251.43 182.93 L252.06 182.92 L252.69 182.9 L253.32 182.88 L253.95 182.86 L254.57 182.84 L255.2 182.83 L255.83 182.8 L256.46 182.78 L257.09 182.76 L257.72 182.74 L258.35 182.72 L258.97 182.69 L259.6 182.67 L260.23 182.64 L260.86 182.61 L261.49 182.58 L262.12 182.56 L262.75 182.52 L263.38 182.49 L264 182.46 L264.63 182.43 L265.26 182.39 L265.89 182.35 L266.52 182.31 L267.15 182.27 L267.78 182.23 L268.41 182.18 L269.03 182.14 L269.66 182.09 L270.29 182.03 L270.92 181.98 L271.55 181.92 L272.18 181.86 L272.81 181.79 L273.43 181.72 L274.06 181.65 L274.69 181.57 L275.32 181.49 L275.95 181.4 L276.58 181.31 L277.21 181.2 L277.84 181.1 L278.46 180.98 L279.09 180.85 L279.72 180.72 L280.35 180.58 L280.98 180.42 L281.61 180.25 L282.24 180.07 L282.86 179.88 L283.49 179.67 L284.12 179.44 L284.75 179.2 L285.38 178.94 L286.01 178.67 L286.64 178.37 L287.27 178.05 L287.89 177.7 L288.52 177.34 L289.15 176.95 L289.78 176.53 L290.41 176.09 L291.04 175.63 L291.67 175.13 L292.29 174.61 L292.92 174.06 L293.55 173.48 L294.18 172.88 L294.81 172.25 L295.44 171.59 L296.07 170.92 L296.7 170.22 L297.32 169.5 L297.95 168.76 L298.58 168.02 L299.21 167.27 L299.84 166.52 L300.47 165.78 L301.1 165.06 L301.72 164.36 L302.35 163.7 L302.98 163.09 L303.61 162.53 L304.24 162.05 L304.87 161.64 L305.5 161.32 L306.13 161.1 L306.75 160.98 L307.38 160.96 L308.01 161.03 L308.64 161.21 L309.27 161.49 L309.9 161.85 L310.53 162.3 L311.16 162.81 L311.78 163.37 L312.41 163.98 L313.04 164.63 L313.67 165.3 L314.3 165.98 L314.93 166.66 L315.56 167.35 L316.18 168.02 L316.81 168.69 L317.44 169.33 L318.07 169.95 L318.7 170.55 L319.33 171.12 L319.96 171.66 L320.59 172.17 L321.21 172.66 L321.84 173.11 L322.47 173.54 L323.1 173.94 L323.73 174.3 L324.36 174.65 L324.99 174.96 L325.61 175.25 L326.24 175.51 L326.87 175.75 L327.5 175.97 L328.13 176.17 L328.76 176.35 L329.39 176.52 L330.02 176.66 L330.64 176.8 L331.27 176.92 L331.9 177.03 L332.53 177.13 L333.16 177.22 L333.79 177.3 L334.42 177.37 L335.04 177.44 L335.67 177.51 L336.3 177.57 L336.93 177.63 L337.56 177.69 L338.19 177.75 L338.82 177.81 L339.45 177.86 L340.07 177.92 L340.7 177.98 L341.33 178.04 L341.96 178.1 L342.59 178.17 L343.22 178.24 L343.85 178.31 L344.47 178.38 L345.1 178.46 L345.73 178.54 L346.36 178.62 L346.99 178.7 L347.62 178.79 L348.25 178.88 L348.88 178.97 L349.5 179.07 L350.13 179.16 L350.76 179.26 L351.39 179.36 L352.02 179.46 L352.65 179.56 L353.28 179.67 L353.91 179.77 L354.53 179.87 L355.16 179.98 L355.79 180.08 L356.42 180.18 L357.05 180.28 L357.68 180.38 L358.31 180.48 L358.93 180.58 L359.56 180.68 L360.19 180.77 L360.82 180.86 L361.45 180.95 L362.08 181.04 L362.71 181.13 L363.34 181.21 L363.96 181.29 L364.59 181.36 L365.22 181.44 L365.85 181.51 L366.48 181.58 L367.11 181.64 L367.74 181.7 L368.36 181.76 L368.99 181.82 L369.62 181.87 L370.25 181.92 L370.88 181.97 L371.51 182.01 L372.14 182.05 L372.77 182.09 L373.39 182.13 L374.02 182.16 L374.65 182.19 L375.28 182.22" stroke="#1fcfd6"/>
<path d="M237.6 194.4 L238.23 194.39 L238.86 194.38 L239.49 194.37 L240.11 194.36 L240.74 194.35 L241.37 194.34 L242 194.33 L242.63 194.32 L243.26 194.31 L243.89 194.3 L244.52 194.29 L245.14 194.28 L245.77 194.26 L246.4 194.25 L247.03 194.24 L247.66 194.23 L248.29 194.21 L248.92 194.2 L249.54 194.18 L250.17 194.17 L250.8 194.15 L251.43 194.14 L252.06 194.12 L252.69 194.1 L253.32 194.09 L253.95 194.07 L254.57 194.05 L255.2 194.03 L255.83 194.01 L256.46 193.99 L257.09 193.97 L257.72 193.94 L258.35 193.92 L258.97 193.9 L259.6 193.87 L260.23 193.85 L260.86 193.82 L261.49 193.79 L262.12 193.76 L262.75 193.73 L263.38 193.7 L264 193.67 L264.63 193.63 L265.26 193.6 L265.89 193.56 L266.52 193.52 L267.15 193.48 L267.78 193.44 L268.41 193.4 L269.03 193.35 L269.66 193.3 L270.29 193.25 L270.92 193.19 L271.55 193.14 L272.18 193.08 L272.81 193.01 L273.43 192.94 L274.06 192.87 L274.69 192.8 L275.32 192.71 L275.95 192.63 L276.58 192.53 L277.21 192.44 L277.84 192.33 L278.46 192.21 L279.09 192.09 L279.72 191.96 L280.35 191.82 L280.98 191.67 L281.61 191.5 L282.24 191.33 L282.86 191.14 L283.49 190.93 L284.12 190.72 L284.75 190.48 L285.38 190.23 L286.01 189.95 L286.64 189.66 L287.27 189.35 L287.89 189.01 L288.52 188.65 L289.15 188.27 L289.78 187.87 L290.41 187.43 L291.04 186.97 L291.67 186.49 L292.29 185.98 L292.92 185.44 L293.55 184.87 L294.18 184.27 L294.81 183.65 L295.44 183 L296.07 182.33 L296.7 181.64 L297.32 180.92 L297.95 180.19 L298.58 179.45 L299.21 178.7 L299.84 177.95 L300.47 177.21 L301.1 176.48 L301.72 175.77 L302.35 175.1 L302.98 174.47 L303.61 173.89 L304.24 173.38 L304.87 172.95 L305.5 172.6 L306.13 172.35 L306.75 172.19 L307.38 172.14 L308.01 172.18 L308.64 172.33 L309.27 172.58 L309.9 172.91 L310.53 173.33 L311.16 173.82 L311.78 174.37 L312.41 174.96 L313.04 175.6 L313.67 176.26 L314.3 176.93 L314.93 177.62 L315.56 178.3 L316.18 178.98 L316.81 179.64 L317.44 180.29 L318.07 180.92 L318.7 181.52 L319.33 182.1 L319.96 182.65 L320.59 183.17 L321.21 183.66 L321.84 184.13 L322.47 184.56 L323.1 184.97 L323.73 185.34 L324.36 185.69 L324.99 186.01 L325.61 186.31 L326.24 186.58 L326.87 186.83 L327.5 187.05 L328.13 187.26 L328.76 187.45 L329.39 187.61 L330.02 187.77 L330.64 187.91 L331.27 188.03 L331.9 188.14 L332.53 188.25 L333.16 188.34 L333.79 188.42 L334.42 188.5 L335.04 188.57 L335.67 188.64 L336.3 188.71 L336.93 188.77 L337.56 188.83 L338.19 188.89 L338.82 188.95 L339.45 189 L340.07 189.06 L340.7 189.12 L341.33 189.18 L341.96 189.25 L342.59 189.31 L343.22 189.38 L343.85 189.45 L344.47 189.53 L345.1 189.6 L345.73 189.68 L346.36 189.76 L346.99 189.85 L347.62 189.94 L348.25 190.03 L348.88 190.12 L349.5 190.21 L350.13 190.31 L350.76 190.41 L351.39 190.51 L352.02 190.61 L352.65 190.71 L353.28 190.81 L353.91 190.91 L354.53 191.02 L355.16 191.12 L355.79 191.22 L356.42 191.32 L357.05 191.43 L357.68 191.53 L358.31 191.62 L358.93 191.72 L359.56 191.82 L360.19 191.91 L360.82 192 L361.45 192.09 L362.08 192.18 L362.71 192.26 L363.34 192.34 L363.96 192.42 L364.59 192.5 L365.22 192.57 L365.85 192.64 L366.48 192.71 L367.11 192.77 L367.74 192.84 L368.36 192.89 L368.99 192.95 L369.62 193 L370.25 193.05 L370.88 193.1 L371.51 193.14 L372.14 193.18 L372.77 193.22 L373.39 193.26 L374.02 193.29 L374.65 193.32 L375.28 193.35" stroke="#d9a520"/>
<path d="M237.6 205.6 L238.23 205.59 L238.86 205.58 L239.49 205.57 L240.11 205.56 L240.74 205.55 L241.37 205.54 L242 205.53 L242.63 205.52 L243.26 205.51 L243.89 205.5 L244.52 205.49 L245.14 205.48 L245.77 205.47 L246.4 205.45 L247.03 205.44 L247.66 205.43 L248.29 205.42 L248.92 205.4 L249.54 205.39 L250.17 205.37 L250.8 205.36 L251.43 205.34 L252.06 205.33 L252.69 205.31 L253.32 205.29 L253.95 205.27 L254.57 205.25 L255.2 205.24 L255.83 205.22 L256.46 205.2 L257.09 205.17 L257.72 205.15 L258.35 205.13 L258.97 205.11 L259.6 205.08 L260.23 205.06 L260.86 205.03 L261.49 205 L262.12 204.98 L262.75 204.95 L263.38 204.92 L264 204.88 L264.63 204.85 L265.26 204.82 L265.89 204.78 L266.52 204.74 L267.15 204.7 L267.78 204.66 L268.41 204.62 L269.03 204.57 L269.66 204.53 L270.29 204.48 L270.92 204.42 L271.55 204.37 L272.18 204.31 L272.81 204.25 L273.43 204.18 L274.06 204.11 L274.69 204.04 L275.32 203.96 L275.95 203.88 L276.58 203.79 L277.21 203.69 L277.84 203.59 L278.46 203.48 L279.09 203.37 L279.72 203.24 L280.35 203.11 L280.98 202.96 L281.61 202.8 L282.24 202.64 L282.86 202.45 L283.49 202.26 L284.12 202.05 L284.75 201.83 L285.38 201.58 L286.01 201.32 L286.64 201.04 L287.27 200.74 L287.89 200.42 L288.52 200.08 L289.15 199.71 L289.78 199.32 L290.41 198.9 L291.04 198.46 L291.67 197.99 L292.29 197.5 L292.92 196.97 L293.55 196.42 L294.18 195.84 L294.81 195.24 L295.44 194.61 L296.07 193.95 L296.7 193.27 L297.32 192.57 L297.95 191.85 L298.58 191.11 L299.21 190.37 L299.84 189.62 L300.47 188.87 L301.1 188.13 L301.72 187.4 L302.35 186.7 L302.98 186.05 L303.61 185.43 L304.24 184.88 L304.87 184.4 L305.5 183.99 L306.13 183.68 L306.75 183.46 L307.38 183.34 L308.01 183.32 L308.64 183.4 L309.27 183.58 L309.9 183.86 L310.53 184.22 L311.16 184.66 L311.78 185.17 L312.41 185.74 L313.04 186.34 L313.67 186.99 L314.3 187.65 L314.93 188.33 L315.56 189.01 L316.18 189.69 L316.81 190.36 L317.44 191.02 L318.07 191.66 L318.7 192.28 L319.33 192.87 L319.96 193.43 L320.59 193.97 L321.21 194.48 L321.84 194.96 L322.47 195.41 L323.1 195.84 L323.73 196.23 L324.36 196.59 L324.99 196.93 L325.61 197.24 L326.24 197.53 L326.87 197.79 L327.5 198.03 L328.13 198.25 L328.76 198.45 L329.39 198.63 L330.02 198.79 L330.64 198.94 L331.27 199.07 L331.9 199.19 L332.53 199.31 L333.16 199.41 L333.79 199.5 L334.42 199.58 L335.04 199.66 L335.67 199.73 L336.3 199.8 L336.93 199.87 L337.56 199.93 L338.19 199.99 L338.82 200.06 L339.45 200.12 L340.07 200.18 L340.7 200.24 L341.33 200.3 L341.96 200.37 L342.59 200.44 L343.22 200.51 L343.85 200.58 L344.47 200.65 L345.1 200.73 L345.73 200.81 L346.36 200.89 L346.99 200.98 L347.62 201.07 L348.25 201.16 L348.88 201.25 L349.5 201.34 L350.13 201.44 L350.76 201.54 L351.39 201.64 L352.02 201.74 L352.65 201.84 L353.28 201.94 L353.91 202.05 L354.53 202.15 L355.16 202.25 L355.79 202.35 L356.42 202.46 L357.05 202.56 L357.68 202.66 L358.31 202.76 L358.93 202.85 L359.56 202.95 L360.19 203.04 L360.82 203.13 L361.45 203.22 L362.08 203.31 L362.71 203.39 L363.34 203.47 L363.96 203.55 L364.59 203.63 L365.22 203.7 L365.85 203.77 L366.48 203.84 L367.11 203.9 L367.74 203.96 L368.36 204.02 L368.99 204.07 L369.62 204.13 L370.25 204.18 L370.88 204.22 L371.51 204.26 L372.14 204.31 L372.77 204.34 L373.39 204.38 L374.02 204.41 L374.65 204.44 L375.28 204.47" stroke="#b57be6"/>
<path d="M237.6 216.8 L238.23 216.79 L238.86 216.78 L239.49 216.77 L240.11 216.76 L240.74 216.76 L241.37 216.75 L242 216.74 L242.63 216.73 L243.26 216.71 L243.89 216.7 L244.52 216.69 L245.14 216.68 L245.77 216.67 L246.4 216.66 L247.03 216.64 L247.66 216.63 L248.29 216.62 L248.92 216.61 L249.54 216.59 L250.17 216.58 L250.8 216.56 L251.43 216.55 L252.06 216.53 L252.69 216.51 L253.32 216.5 L253.95 216.48 L254.57 216.46 L255.2 216.44 L255.83 216.42 L256.46 216.4 L257.09 216.38 L257.72 216.36 L258.35 216.34 L258.97 216.32 L259.6 216.29 L260.23 216.27 L260.86 216.24 L261.49 216.22 L262.12 216.19 L262.75 216.16 L263.38 216.13 L264 216.1 L264.63 216.07 L265.26 216.03 L265.89 216 L266.52 215.96 L267.15 215.92 L267.78 215.88 L268.41 215.84 L269.03 215.8 L269.66 215.75 L270.29 215.7 L270.92 215.65 L271.55 215.6 L272.18 215.54 L272.81 215.48 L273.43 215.42 L274.06 215.35 L274.69 215.28 L275.32 215.21 L275.95 215.13 L276.58 215.04 L277.21 214.95 L277.84 214.85 L278.46 214.75 L279.09 214.64 L279.72 214.52 L280.35 214.39 L280.98 214.25 L281.61 214.1 L282.24 213.94 L282.86 213.77 L283.49 213.58 L284.12 213.38 L284.75 213.16 L285.38 212.93 L286.01 212.68 L286.64 212.42 L287.27 212.13 L287.89 211.82 L288.52 211.49 L289.15 211.14 L289.78 210.77 L290.41 210.37 L291.04 209.94 L291.67 209.49 L292.29 209.01 L292.92 208.5 L293.55 207.97 L294.18 207.41 L294.81 206.82 L295.44 206.2 L296.07 205.56 L296.7 204.9 L297.32 204.21 L297.95 203.5 L298.58 202.77 L299.21 202.03 L299.84 201.28 L300.47 200.53 L301.1 199.78 L301.72 199.04 L302.35 198.33 L302.98 197.64 L303.61 197 L304.24 196.41 L304.87 195.88 L305.5 195.42 L306.13 195.04 L306.75 194.76 L307.38 194.58 L308.01 194.49 L308.64 194.51 L309.27 194.62 L309.9 194.84 L310.53 195.14 L311.16 195.53 L311.78 196 L312.41 196.53 L313.04 197.11 L313.67 197.73 L314.3 198.38 L314.93 199.05 L315.56 199.72 L316.18 200.4 L316.81 201.08 L317.44 201.74 L318.07 202.39 L318.7 203.02 L319.33 203.63 L319.96 204.21 L320.59 204.76 L321.21 205.29 L321.84 205.79 L322.47 206.25 L323.1 206.69 L323.73 207.1 L324.36 207.48 L324.99 207.84 L325.61 208.17 L326.24 208.47 L326.87 208.74 L327.5 209 L328.13 209.23 L328.76 209.44 L329.39 209.63 L330.02 209.81 L330.64 209.97 L331.27 210.11 L331.9 210.24 L332.53 210.36 L333.16 210.47 L333.79 210.57 L334.42 210.66 L335.04 210.74 L335.67 210.82 L336.3 210.9 L336.93 210.97 L337.56 211.03 L338.19 211.1 L338.82 211.16 L339.45 211.23 L340.07 211.29 L340.7 211.36 L341.33 211.42 L341.96 211.49 L342.59 211.56 L343.22 211.63 L343.85 211.7 L344.47 211.78 L345.1 211.86 L345.73 211.94 L346.36 212.02 L346.99 212.11 L347.62 212.2 L348.25 212.29 L348.88 212.38 L349.5 212.48 L350.13 212.57 L350.76 212.67 L351.39 212.77 L352.02 212.87 L352.65 212.97 L353.28 213.08 L353.91 213.18 L354.53 213.28 L355.16 213.38 L355.79 213.49 L356.42 213.59 L357.05 213.69 L357.68 213.79 L358.31 213.89 L358.93 213.98 L359.56 214.08 L360.19 214.17 L360.82 214.26 L361.45 214.35 L362.08 214.44 L362.71 214.52 L363.34 214.6 L363.96 214.68 L364.59 214.76 L365.22 214.83 L365.85 214.9 L366.48 214.97 L367.11 215.03 L367.74 215.09 L368.36 215.15 L368.99 215.2 L369.62 215.25 L370.25 215.3 L370.88 215.35 L371.51 215.39 L372.14 215.43 L372.77 215.47 L373.39 215.5 L374.02 215.53 L374.65 215.56 L375.28 215.59" stroke="#3cb371"/>
<path d="M237.6 228 L238.23 227.99 L238.86 227.98 L239.49 227.97 L240.11 227.97 L240.74 227.96 L241.37 227.95 L242 227.94 L242.63 227.93 L243.26 227.92 L243.89 227.91 L244.52 227.89 L245.14 227.88 L245.77 227.87 L246.4 227.86 L247.03 227.85 L247.66 227.83 L248.29 227.82 L248.92 227.81 L249.54 227.79 L250.17 227.78 L250.8 227.77 L251.43 227.75 L252.06 227.74 L252.69 227.72 L253.32 227.7 L253.95 227.69 L254.57 227.67 L255.2 227.65 L255.83 227.63 L256.46 227.61 L257.09 227.59 L257.72 227.57 L258.35 227.55 L258.97 227.53 L259.6 227.5 L260.23 227.48 L260.86 227.45 L261.49 227.43 L262.12 227.4 L262.75 227.37 L263.38 227.34 L264 227.31 L264.63 227.28 L265.26 227.25 L265.89 227.21 L266.52 227.18 L267.15 227.14 L267.78 227.1 L268.41 227.06 L269.03 227.02 L269.66 226.98 L270.29 226.93 L270.92 226.88 L271.55 226.83 L272.18 226.77 L272.81 226.72 L273.43 226.65 L274.06 226.59 L274.69 226.52 L275.32 226.45 L275.95 226.37 L276.58 226.29 L277.21 226.2 L277.84 226.11 L278.46 226.01 L279.09 225.9 L279.72 225.79 L280.35 225.66 L280.98 225.53 L281.61 225.39 L282.24 225.24 L282.86 225.07 L283.49 224.89 L284.12 224.7 L284.75 224.5 L285.38 224.28 L286.01 224.04 L286.64 223.78 L287.27 223.51 L287.89 223.21 L288.52 222.9 L289.15 222.56 L289.78 222.2 L290.41 221.82 L291.04 221.41 L291.67 220.97 L292.29 220.51 L292.92 220.02 L293.55 219.5 L294.18 218.96 L294.81 218.39 L295.44 217.79 L296.07 217.16 L296.7 216.51 L297.32 215.84 L297.95 215.14 L298.58 214.42 L299.21 213.69 L299.84 212.94 L300.47 212.19 L301.1 211.44 L301.72 210.7 L302.35 209.97 L302.98 209.26 L303.61 208.59 L304.24 207.96 L304.87 207.38 L305.5 206.88 L306.13 206.45 L306.75 206.11 L307.38 205.86 L308.01 205.71 L308.64 205.66 L309.27 205.71 L309.9 205.86 L310.53 206.1 L311.16 206.44 L311.78 206.86 L312.41 207.34 L313.04 207.89 L313.67 208.48 L314.3 209.11 L314.93 209.77 L315.56 210.44 L316.18 211.12 L316.81 211.79 L317.44 212.46 L318.07 213.12 L318.7 213.76 L319.33 214.38 L319.96 214.97 L320.59 215.54 L321.21 216.09 L321.84 216.6 L322.47 217.08 L323.1 217.54 L323.73 217.97 L324.36 218.37 L324.99 218.74 L325.61 219.08 L326.24 219.4 L326.87 219.69 L327.5 219.96 L328.13 220.2 L328.76 220.43 L329.39 220.63 L330.02 220.82 L330.64 220.99 L331.27 221.14 L331.9 221.28 L332.53 221.41 L333.16 221.53 L333.79 221.63 L334.42 221.73 L335.04 221.82 L335.67 221.91 L336.3 221.99 L336.93 222.06 L337.56 222.13 L338.19 222.2 L338.82 222.27 L339.45 222.34 L340.07 222.4 L340.7 222.47 L341.33 222.54 L341.96 222.61 L342.59 222.68 L343.22 222.75 L343.85 222.83 L344.47 222.91 L345.1 222.98 L345.73 223.07 L346.36 223.15 L346.99 223.24 L347.62 223.33 L348.25 223.42 L348.88 223.51 L349.5 223.61 L350.13 223.7 L350.76 223.8 L351.39 223.9 L352.02 224 L352.65 224.11 L353.28 224.21 L353.91 224.31 L354.53 224.41 L355.16 224.52 L355.79 224.62 L356.42 224.72 L357.05 224.82 L357.68 224.92 L358.31 225.02 L358.93 225.12 L359.56 225.21 L360.19 225.3 L360.82 225.39 L361.45 225.48 L362.08 225.57 L362.71 225.65 L363.34 225.73 L363.96 225.81 L364.59 225.89 L365.22 225.96 L365.85 226.03 L366.48 226.09 L367.11 226.16 L367.74 226.22 L368.36 226.27 L368.99 226.33 L369.62 226.38 L370.25 226.43 L370.88 226.47 L371.51 226.51 L372.14 226.55 L372.77 226.59 L373.39 226.62 L374.02 226.65 L374.65 226.68 L375.28 226.71" stroke="#2f7fe8"/>
<path d="M237.6 239.2 L238.23 239.19 L238.86 239.18 L239.49 239.17 L240.11 239.17 L240.74 239.16 L241.37 239.15 L242 239.14 L242.63 239.13 L243.26 239.12 L243.89 239.11 L244.52 239.1 L245.14 239.09 L245.77 239.07 L246.4 239.06 L247.03 239.05 L247.66 239.04 L248.29 239.03 L248.92 239.01 L249.54 239 L250.17 238.98 L250.8 238.97 L251.43 238.96 L252.06 238.94 L252.69 238.92 L253.32 238.91 L253.95 238.89 L254.57 238.87 L255.2 238.86 L255.83 238.84 L256.46 238.82 L257.09 238.8 L257.72 238.78 L258.35 238.76 L258.97 238.73 L259.6 238.71 L260.23 238.69 L260.86 238.66 L261.49 238.64 L262.12 238.61 L262.75 238.58 L263.38 238.56 L264 238.53 L264.63 238.5 L265.26 238.46 L265.89 238.43 L266.52 238.4 L267.15 238.36 L267.78 238.32 L268.41 238.28 L269.03 238.24 L269.66 238.2 L270.29 238.15 L270.92 238.11 L271.55 238.06 L272.18 238 L272.81 237.95 L273.43 237.89 L274.06 237.83 L274.69 237.76 L275.32 237.69 L275.95 237.62 L276.58 237.54 L277.21 237.45 L277.84 237.36 L278.46 237.27 L279.09 237.17 L279.72 237.06 L280.35 236.94 L280.98 236.81 L281.61 236.68 L282.24 236.53 L282.86 236.37 L283.49 236.2 L284.12 236.02 L284.75 235.82 L285.38 235.61 L286.01 235.39 L286.64 235.14 L287.27 234.88 L287.89 234.6 L288.52 234.3 L289.15 233.97 L289.78 233.63 L290.41 233.26 L291.04 232.86 L291.67 232.44 L292.29 232 L292.92 231.53 L293.55 231.03 L294.18 230.5 L294.81 229.95 L295.44 229.36 L296.07 228.76 L296.7 228.12 L297.32 227.46 L297.95 226.77 L298.58 226.07 L299.21 225.35 L299.84 224.61 L300.47 223.86 L301.1 223.11 L301.72 222.35 L302.35 221.61 L302.98 220.89 L303.61 220.19 L304.24 219.53 L304.87 218.92 L305.5 218.37 L306.13 217.89 L306.75 217.49 L307.38 217.18 L308.01 216.97 L308.64 216.85 L309.27 216.83 L309.9 216.92 L310.53 217.1 L311.16 217.38 L311.78 217.74 L312.41 218.19 L313.04 218.69 L313.67 219.26 L314.3 219.86 L314.93 220.5 L315.56 221.16 L316.18 221.83 L316.81 222.5 L317.44 223.18 L318.07 223.84 L318.7 224.49 L319.33 225.12 L319.96 225.73 L320.59 226.31 L321.21 226.87 L321.84 227.4 L322.47 227.9 L323.1 228.38 L323.73 228.82 L324.36 229.24 L324.99 229.62 L325.61 229.98 L326.24 230.32 L326.87 230.62 L327.5 230.91 L328.13 231.17 L328.76 231.41 L329.39 231.62 L330.02 231.82 L330.64 232 L331.27 232.17 L331.9 232.32 L332.53 232.45 L333.16 232.58 L333.79 232.69 L334.42 232.8 L335.04 232.9 L335.67 232.99 L336.3 233.07 L336.93 233.15 L337.56 233.23 L338.19 233.3 L338.82 233.37 L339.45 233.45 L340.07 233.52 L340.7 233.59 L341.33 233.66 L341.96 233.73 L342.59 233.8 L343.22 233.88 L343.85 233.95 L344.47 234.03 L345.1 234.11 L345.73 234.19 L346.36 234.28 L346.99 234.37 L347.62 234.46 L348.25 234.55 L348.88 234.64 L349.5 234.74 L350.13 234.83 L350.76 234.93 L351.39 235.03 L352.02 235.14 L352.65 235.24 L353.28 235.34 L353.91 235.44 L354.53 235.55 L355.16 235.65 L355.79 235.75 L356.42 235.85 L357.05 235.95 L357.68 236.05 L358.31 236.15 L358.93 236.25 L359.56 236.34 L360.19 236.44 L360.82 236.53 L361.45 236.61 L362.08 236.7 L362.71 236.78 L363.34 236.86 L363.96 236.94 L364.59 237.01 L365.22 237.09 L365.85 237.16 L366.48 237.22 L367.11 237.28 L367.74 237.34 L368.36 237.4 L368.99 237.45 L369.62 237.5 L370.25 237.55 L370.88 237.59 L371.51 237.64 L372.14 237.68 L372.77 237.71 L373.39 237.75 L374.02 237.78 L374.65 237.8 L375.28 237.83" stroke="#f25050"/>
<path d="M237.6 250.4 L238.23 250.39 L238.86 250.38 L239.49 250.37 L240.11 250.37 L240.74 250.36 L241.37 250.35 L242 250.34 L242.63 250.33 L243.26 250.32 L243.89 250.31 L244.52 250.3 L245.14 250.29 L245.77 250.28 L246.4 250.26 L247.03 250.25 L247.66 250.24 L248.29 250.23 L248.92 250.21 L249.54 250.2 L250.17 250.19 L250.8 250.17 L251.43 250.16 L252.06 250.14 L252.69 250.13 L253.32 250.11 L253.95 250.09 L254.57 250.08 L255.2 250.06 L255.83 250.04 L256.46 250.02 L257.09 250 L257.72 249.98 L258.35 249.96 L258.97 249.94 L259.6 249.92 L260.23 249.89 L260.86 249.87 L261.49 249.84 L262.12 249.82 L262.75 249.79 L263.38 249.76 L264 249.73 L264.63 249.7 L265.26 249.67 L265.89 249.64 L266.52 249.61 L267.15 249.57 L267.78 249.53 L268.41 249.49 L269.03 249.45 L269.66 249.41 L270.29 249.37 L270.92 249.32 L271.55 249.27 L272.18 249.22 L272.81 249.16 L273.43 249.1 L274.06 249.04 L274.69 248.98 L275.32 248.91 L275.95 248.84 L276.58 248.76 L277.21 248.68 L277.84 248.59 L278.46 248.5 L279.09 248.4 L279.72 248.29 L280.35 248.17 L280.98 248.05 L281.61 247.92 L282.24 247.77 L282.86 247.62 L283.49 247.46 L284.12 247.28 L284.75 247.09 L285.38 246.88 L286.01 246.66 L286.64 246.42 L287.27 246.16 L287.89 245.89 L288.52 245.59 L289.15 245.27 L289.78 244.94 L290.41 244.57 L291.04 244.19 L291.67 243.78 L292.29 243.34 L292.92 242.88 L293.55 242.39 L294.18 241.87 L294.81 241.32 L295.44 240.75 L296.07 240.15 L296.7 239.52 L297.32 238.87 L297.95 238.19 L298.58 237.49 L299.21 236.77 L299.84 236.04 L300.47 235.29 L301.1 234.54 L301.72 233.79 L302.35 233.04 L302.98 232.31 L303.61 231.6 L304.24 230.93 L304.87 230.3 L305.5 229.73 L306.13 229.23 L306.75 228.8 L307.38 228.46 L308.01 228.21 L308.64 228.06 L309.27 228.02 L309.9 228.06 L310.53 228.21 L311.16 228.46 L311.78 228.8 L312.41 229.22 L313.04 229.7 L313.67 230.25 L314.3 230.84 L314.93 231.47 L315.56 232.12 L316.18 232.78 L316.81 233.46 L317.44 234.13 L318.07 234.8 L318.7 235.45 L319.33 236.08 L319.96 236.7 L320.59 237.29 L321.21 237.86 L321.84 238.39 L322.47 238.9 L323.1 239.38 L323.73 239.84 L324.36 240.26 L324.99 240.66 L325.61 241.02 L326.24 241.37 L326.87 241.68 L327.5 241.97 L328.13 242.24 L328.76 242.48 L329.39 242.71 L330.02 242.91 L330.64 243.1 L331.27 243.27 L331.9 243.42 L332.53 243.56 L333.16 243.69 L333.79 243.81 L334.42 243.92 L335.04 244.02 L335.67 244.11 L336.3 244.2 L336.93 244.28 L337.56 244.36 L338.19 244.44 L338.82 244.51 L339.45 244.58 L340.07 244.65 L340.7 244.73 L341.33 244.8 L341.96 244.87 L342.59 244.94 L343.22 245.02 L343.85 245.09 L344.47 245.17 L345.1 245.25 L345.73 245.34 L346.36 245.42 L346.99 245.51 L347.62 245.6 L348.25 245.69 L348.88 245.79 L349.5 245.88 L350.13 245.98 L350.76 246.08 L351.39 246.18 L352.02 246.28 L352.65 246.38 L353.28 246.48 L353.91 246.59 L354.53 246.69 L355.16 246.79 L355.79 246.89 L356.42 246.99 L357.05 247.09 L357.68 247.19 L358.31 247.29 L358.93 247.39 L359.56 247.48 L360.19 247.57 L360.82 247.66 L361.45 247.75 L362.08 247.84 L362.71 247.92 L363.34 248 L363.96 248.08 L364.59 248.15 L365.22 248.22 L365.85 248.29 L366.48 248.35 L367.11 248.42 L367.74 248.48 L368.36 248.53 L368.99 248.58 L369.62 248.63 L370.25 248.68 L370.88 248.73 L371.51 248.77 L372.14 248.8 L372.77 248.84 L373.39 248.87 L374.02 248.9 L374.65 248.93 L375.28 248.96" stroke="#444444"/>
<path d="M359 35 L358.51 37 L358.03 39 L357.57 41 L357.13 43 L356.7 45 L356.3 47 L355.92 49 L355.55 51 L355.19 53 L354.85 55 L354.51 57 L354.17 59 L353.83 61 L353.47 63 L353.1 65 L352.73 67 L352.38 69 L352.07 71 L351.8 73 L351.6 75 L351.44 77 L351.29 79 L351.16 81 L351.06 83 L351 85 L350.96 87 L350.92 89 L350.89 91 L350.86 93 L350.83 95 L350.81 97 L350.79 99 L350.77 101 L350.75 103 L350.74 105 L350.72 107 L350.71 109 L350.69 111 L350.68 113 L350.66 115 L350.65 117 L350.64 119 L350.63 121 L350.62 123 L350.61 125 L350.6 127 L350.59 129 L350.58 131 L350.57 133 L350.56 135 L350.55 137 L350.54 139 L350.53 141 L350.51 143 L350.5 145 L350.48 147 L350.46 149 L350.44 151 L350.42 153 L350.4 155 L350.37 157 L350.35 159 L350.33 161 L350.32 163 L350.31 165 L350.3 167 L350.3 169 L350.34 171 L350.4 173 L350.48 175 L350.59 177 L350.71 179 L350.84 181 L350.98 183 L351.13 185 L351.28 187 L351.43 189 L351.57 191 L351.74 193 L351.92 195 L352.12 197 L352.33 199 L352.55 201 L352.77 203 L352.99 205 L353.22 207 L353.43 209 L353.64 211 L353.83 213 L354 215 L354.16 217 L354.33 219 L354.49 221 L354.64 223 L354.79 225 L354.92 227 L355.05 229 L355.15 231 L355.24 233 L355.33 235 L355.41 237 L355.49 239 L355.55 241 L355.61 243 L355.66 245 L355.7 247" stroke="#1a1a1a" stroke-width="0.9"/>
</g>
<path d="M237.6 13.3H375.3V318.2" fill="none" stroke="#8c8c8c" stroke-width="0.6"/>
<path d="M237.6 13.3V318.2H375.3" fill="none" stroke="#222" stroke-width="0.7"/>
<path d="M237.6 318.2v-2.2M254.81 318.2v-1.3M272.02 318.2v-2.2M289.23 318.2v-1.3M306.44 318.2v-2.2M323.65 318.2v-1.3M340.86 318.2v-2.2M358.07 318.2v-1.3M375.28 318.2v-2.2M237.6 306.9h-1.6" stroke="#222" stroke-width="0.6" fill="none"/>
<text class="s" x="237.9" y="328.4" font-size="8.6" text-anchor="middle">1.6</text>
<text class="s" x="272.32" y="328.4" font-size="8.6" text-anchor="middle">1.7</text>
<text class="s" x="306.74" y="328.4" font-size="8.6" text-anchor="middle">1.8</text>
<text class="s" x="341.16" y="328.4" font-size="8.6" text-anchor="middle">1.9</text>
<text class="s" x="375.58" y="328.4" font-size="8.6" text-anchor="middle">2.0</text>
<text class="s" x="313.8" y="338.2" font-size="8.65" text-anchor="middle">Photon energy (eV)</text>
<text class="s" x="234.4" y="166" font-size="8.65" text-anchor="middle" transform="rotate(-90 234.4 166)">Normolized PL intensity (a.u.)</text>
<text class="r" x="216" y="30.8" font-size="18.4" font-weight="bold">(c)</text>
<text class="r" x="261.4" y="25" font-size="10.1" font-weight="bold">A-exciton</text>
<text class="r" x="333.9" y="28.9" font-size="10.1" font-weight="bold">B-exciton</text>
</g>
<g id="pdef">
<rect x="403.2" y="13.8" width="96" height="101.3" fill="#000"/>
<clipPath id="hdc"><path d="M460.7 15.05H465.7V16.32H460.7zM460.7 16.3H465.7V17.57H460.7zM460.7 17.55H465.7V18.82H460.7zM458.2 18.8H465.7V20.07H458.2zM458.2 20.05H468.2V21.32H458.2zM458.2 21.3H468.2V22.57H458.2zM455.7 22.55H468.2V23.82H455.7zM455.7 23.8H468.2V25.07H455.7zM455.7 25.05H468.2V26.32H455.7zM455.7 26.3H468.2V27.57H455.7zM453.2 27.55H468.2V28.82H453.2zM453.2 28.8H470.7V30.07H453.2zM453.2 30.05H470.7V31.32H453.2zM450.7 31.3H470.7V32.57H450.7zM450.7 32.55H470.7V33.82H450.7zM450.7 33.8H470.7V35.07H450.7zM448.2 35.05H470.7V36.32H448.2zM448.2 36.3H470.7V37.57H448.2zM448.2 37.55H470.7V38.82H448.2zM445.7 38.8H473.2V40.07H445.7zM445.7 40.05H473.2V41.32H445.7zM445.7 41.3H473.2V42.57H445.7zM443.2 42.55H473.2V43.82H443.2zM443.2 43.8H473.2V45.07H443.2zM443.2 45.05H473.2V46.32H443.2zM440.7 46.3H475.7V47.57H440.7zM440.7 47.55H475.7V48.82H440.7zM438.2 48.8H475.7V50.07H438.2zM438.2 50.05H475.7V51.32H438.2zM438.2 51.3H475.7V52.57H438.2zM435.7 52.55H475.7V53.82H435.7zM435.7 53.8H475.7V55.07H435.7zM435.7 55.05H478.2V56.32H435.7zM433.2 56.3H478.2V57.57H433.2zM433.2 57.55H478.2V58.82H433.2zM433.2 58.8H478.2V60.07H433.2zM430.7 60.05H478.2V61.32H430.7zM430.7 61.3H478.2V62.57H430.7zM428.2 62.55H480.7V63.82H428.2zM428.2 63.8H480.7V65.07H428.2zM428.2 65.05H480.7V66.32H428.2zM425.7 66.3H480.7V67.57H425.7zM425.7 67.55H480.7V68.82H425.7zM423.2 68.8H483.2V70.07H423.2zM423.2 70.05H483.2V71.32H423.2zM423.2 71.3H483.2V72.57H423.2zM420.7 72.55H483.2V73.82H420.7zM420.7 73.8H483.2V75.07H420.7zM418.2 75.05H485.7V76.32H418.2zM418.2 76.3H485.7V77.57H418.2zM415.7 77.55H485.7V78.82H415.7zM415.7 78.8H485.7V80.07H415.7zM415.7 80.05H488.2V81.32H415.7zM413.2 81.3H488.2V82.57H413.2zM413.2 82.55H488.2V83.82H413.2zM410.7 83.8H488.2V85.07H410.7zM410.7 85.05H488.2V86.32H410.7zM410.7 86.3H490.7V87.57H410.7zM408.2 87.55H490.7V88.82H408.2zM408.2 88.8H490.7V90.07H408.2zM405.7 90.05H490.7V91.32H405.7zM405.7 91.3H493.2V92.57H405.7zM405.7 92.55H493.2V93.82H405.7zM403.2 93.8H493.2V95.07H403.2zM403.2 95.05H493.2V96.32H403.2zM403.2 96.3H495.7V97.57H403.2zM403.2 97.55H495.7V98.82H403.2zM403.2 98.8H495.7V100.07H403.2zM403.2 100.05H495.7V101.32H403.2zM455.7 101.3H498.2V102.57H455.7zM455.7 102.55H498.2V103.82H455.7zM455.7 103.8H498.2V105.07H455.7zM473.2 105.05H498.2V106.32H473.2zM473.2 106.3H498.2V107.57H473.2zM473.2 107.55H498.2V108.82H473.2zM490.7 108.8H498.2V110.07H490.7zM490.7 110.05H498.2V111.32H490.7zM490.7 111.3H498.2V112.57H490.7zM490.7 112.55H498.2V113.82H490.7zM493.2 113.8H498.2V115.07H493.2zM493.2 115.05H498.2V115.12H493.2z"/></clipPath>
<filter id="hdb" x="-10%" y="-10%" width="120%" height="120%"><feGaussianBlur stdDeviation="1.2" color-interpolation-filters="sRGB"/></filter>
<g clip-path="url(#hdc)"><g filter="url(#hdb)">
<path fill="#a110ff" d="M463.15 6.25H465.75V8.85H463.15zM460.65 8.75H468.25V11.35H460.65zM458.15 11.25H470.75V13.85H458.15zM455.65 13.75H463.25V16.35H455.65zM465.65 13.75H473.25V16.35H465.65zM453.15 16.25H460.75V18.85H453.15zM465.65 16.25H473.25V18.85H465.65zM450.65 18.75H458.25V21.35H450.65zM465.65 18.75H473.25V21.35H465.65zM450.65 21.25H458.25V23.85H450.65zM468.15 21.25H475.75V23.85H468.15zM448.15 23.75H455.75V26.35H448.15zM468.15 23.75H475.75V26.35H468.15zM445.65 26.25H453.25V28.85H445.65zM468.15 26.25H475.75V28.85H468.15zM445.65 28.75H453.25V31.35H445.65zM470.65 28.75H478.25V31.35H470.65zM443.15 31.25H450.75V33.85H443.15zM470.65 31.25H478.25V33.85H470.65zM440.65 33.75H448.25V36.35H440.65zM470.65 33.75H478.25V36.35H470.65zM440.65 36.25H448.25V38.85H440.65zM470.65 36.25H478.25V38.85H470.65zM438.15 38.75H445.75V41.35H438.15zM473.15 38.75H480.75V41.35H473.15zM435.65 41.25H443.25V43.85H435.65zM473.15 41.25H480.75V43.85H473.15zM435.65 43.75H443.25V46.35H435.65zM473.15 43.75H480.75V46.35H473.15zM433.15 46.25H440.75V48.85H433.15zM475.65 46.25H483.25V48.85H475.65zM430.65 48.75H438.25V51.35H430.65zM475.65 48.75H483.25V51.35H475.65zM430.65 51.25H438.25V53.85H430.65zM475.65 51.25H483.25V53.85H475.65zM428.15 53.75H435.75V56.35H428.15zM478.15 53.75H485.75V56.35H478.15zM425.65 56.25H433.25V58.85H425.65zM478.15 56.25H485.75V58.85H478.15zM423.15 58.75H430.75V61.35H423.15zM478.15 58.75H485.75V61.35H478.15zM423.15 61.25H430.75V63.85H423.15zM478.15 61.25H485.75V63.85H478.15zM420.65 63.75H428.25V66.35H420.65zM480.65 63.75H488.25V66.35H480.65zM418.15 66.25H425.75V68.85H418.15zM480.65 66.25H488.25V68.85H480.65zM415.65 68.75H423.25V71.35H415.65zM483.15 68.75H490.75V71.35H483.15zM413.15 71.25H420.75V73.85H413.15zM483.15 71.25H490.75V73.85H483.15zM413.15 73.75H420.75V76.35H413.15zM485.65 73.75H493.25V76.35H485.65zM410.65 76.25H418.25V78.85H410.65zM485.65 76.25H493.25V78.85H485.65zM408.15 78.75H415.75V81.35H408.15zM485.65 78.75H493.25V81.35H485.65zM405.65 81.25H413.25V83.85H405.65zM488.15 81.25H495.75V83.85H488.15zM403.15 83.75H410.75V86.35H403.15zM488.15 83.75H495.75V86.35H488.15zM490.65 86.25H498.25V88.85H490.65zM490.65 88.75H498.25V91.35H490.65zM493.15 91.25H500.75V93.85H493.15zM493.15 93.75H500.75V96.35H493.15zM495.65 96.25H503.25V98.85H495.65zM495.65 98.75H503.25V101.35H495.65zM418.15 101.25H455.75V103.85H418.15zM498.15 101.25H505.75V103.85H498.15zM415.65 103.75H473.25V106.35H415.65zM498.15 103.75H505.75V106.35H498.15zM413.15 106.25H473.25V108.85H413.15zM498.15 106.25H505.75V108.85H498.15zM455.65 108.75H485.75V111.35H455.65zM498.15 108.75H505.75V111.35H498.15zM470.65 111.25H488.25V113.85H470.65zM498.15 111.25H505.75V113.85H498.15zM473.15 113.75H493.25V116.35H473.15zM498.15 113.75H505.75V116.35H498.15zM488.15 116.25H503.25V118.85H488.15zM490.65 118.75H500.75V121.35H490.65zM493.15 121.25H498.25V123.85H493.15z"/>
<path fill="#9415ff" d="M400.65 86.25H408.25V88.85H400.65zM400.65 88.75H408.25V91.35H400.65zM398.15 91.25H400.75V93.85H398.15zM395.65 93.75H398.25V96.35H395.65zM395.65 96.25H398.25V98.85H395.65zM395.65 98.75H398.25V101.35H395.65zM398.15 101.25H400.75V103.85H398.15zM413.15 101.25H418.25V103.85H413.15zM400.65 103.75H403.25V106.35H400.65zM408.15 103.75H415.75V106.35H408.15zM403.15 106.25H413.25V108.85H403.15z"/>
<path fill="#851aff" d="M400.65 91.25H405.75V93.85H400.65zM398.15 93.75H403.25V96.35H398.15zM398.15 96.25H400.75V98.85H398.15zM398.15 98.75H400.75V101.35H398.15zM400.65 101.25H413.25V103.85H400.65zM403.15 103.75H408.25V106.35H403.15z"/>
<path fill="#771eff" d="M400.65 96.25H403.25V98.85H400.65zM400.65 98.75H403.25V101.35H400.65z"/>
<path fill="#2352ff" d="M440.65 73.75H443.25V76.35H440.65zM445.65 76.25H448.25V78.85H445.65zM460.65 81.25H463.25V83.85H460.65zM460.65 83.75H463.25V86.35H460.65z"/>
<path fill="#1e5aff" d="M453.15 68.75H455.75V71.35H453.15zM443.15 71.25H448.25V73.85H443.15zM453.15 71.25H455.75V73.85H453.15zM443.15 73.75H448.25V76.35H443.15zM460.65 73.75H463.25V76.35H460.65zM438.15 76.25H445.75V78.85H438.15zM460.65 76.25H463.25V78.85H460.65zM438.15 78.75H448.25V81.35H438.15zM460.65 78.75H465.75V81.35H460.65zM445.65 81.25H448.25V83.85H445.65zM458.15 81.25H460.75V83.85H458.15zM463.15 81.25H465.75V83.85H463.15zM458.15 83.75H460.75V86.35H458.15zM463.15 83.75H465.75V86.35H463.15zM458.15 88.75H460.75V91.35H458.15z"/>
<path fill="#1d65ff" d="M450.65 61.25H455.75V63.85H450.65zM450.65 63.75H455.75V66.35H450.65zM440.65 66.25H443.25V68.85H440.65zM445.65 66.25H448.25V68.85H445.65zM450.65 66.25H455.75V68.85H450.65zM440.65 68.75H443.25V71.35H440.65zM445.65 68.75H453.25V71.35H445.65zM460.65 68.75H463.25V71.35H460.65zM438.15 71.25H443.25V73.85H438.15zM448.15 71.25H453.25V73.85H448.15zM460.65 71.25H463.25V73.85H460.65zM438.15 73.75H440.75V76.35H438.15zM448.15 73.75H458.25V76.35H448.15zM463.15 73.75H465.75V76.35H463.15zM448.15 76.25H460.75V78.85H448.15zM463.15 76.25H468.25V78.85H463.15zM448.15 78.75H450.75V81.35H448.15zM453.15 78.75H460.75V81.35H453.15zM438.15 81.25H445.75V83.85H438.15zM450.65 81.25H458.25V83.85H450.65zM455.65 83.75H458.25V86.35H455.65zM458.15 86.25H463.25V88.85H458.15zM460.65 88.75H463.25V91.35H460.65z"/>
<path fill="#1c70ff" d="M458.15 41.25H460.75V43.85H458.15zM458.15 43.75H460.75V46.35H458.15zM458.15 46.25H460.75V48.85H458.15zM455.65 53.75H460.75V56.35H455.65zM453.15 56.25H458.25V58.85H453.15zM453.15 58.75H460.75V61.35H453.15zM455.65 61.25H460.75V63.85H455.65zM443.15 63.75H445.75V66.35H443.15zM448.15 63.75H450.75V66.35H448.15zM455.65 63.75H463.25V66.35H455.65zM443.15 66.25H445.75V68.85H443.15zM448.15 66.25H450.75V68.85H448.15zM455.65 66.25H463.25V68.85H455.65zM443.15 68.75H445.75V71.35H443.15zM455.65 68.75H460.75V71.35H455.65zM455.65 71.25H460.75V73.85H455.65zM463.15 71.25H465.75V73.85H463.15zM458.15 73.75H460.75V76.35H458.15zM433.15 76.25H435.75V78.85H433.15zM435.65 78.75H438.25V81.35H435.65zM450.65 78.75H453.25V81.35H450.65zM465.65 78.75H468.25V81.35H465.65zM435.65 81.25H438.25V83.85H435.65zM448.15 81.25H450.75V83.85H448.15zM465.65 81.25H468.25V83.85H465.65zM473.15 81.25H475.75V83.85H473.15zM428.15 83.75H430.75V86.35H428.15zM438.15 83.75H440.75V86.35H438.15zM445.65 83.75H448.25V86.35H445.65zM453.15 83.75H455.75V86.35H453.15zM465.65 83.75H468.25V86.35H465.65zM473.15 83.75H475.75V86.35H473.15zM425.65 86.25H428.25V88.85H425.65zM438.15 86.25H440.75V88.85H438.15zM445.65 86.25H448.25V88.85H445.65zM453.15 86.25H458.25V88.85H453.15zM463.15 86.25H465.75V88.85H463.15zM455.65 88.75H458.25V91.35H455.65zM463.15 88.75H465.75V91.35H463.15z"/>
<path fill="#1b7bff" d="M455.65 46.25H458.25V48.85H455.65zM460.65 46.25H463.25V48.85H460.65zM455.65 48.75H460.75V51.35H455.65zM453.15 51.25H458.25V53.85H453.15zM443.15 53.75H445.75V56.35H443.15zM453.15 53.75H455.75V56.35H453.15zM450.65 56.25H453.25V58.85H450.65zM458.15 56.25H460.75V58.85H458.15zM450.65 58.75H453.25V61.35H450.65zM440.65 61.25H443.25V63.85H440.65zM445.65 61.25H448.25V63.85H445.65zM440.65 63.75H443.25V66.35H440.65zM445.65 63.75H448.25V66.35H445.65zM433.15 68.75H435.75V71.35H433.15zM465.65 68.75H468.25V71.35H465.65zM433.15 71.25H435.75V73.85H433.15zM465.65 71.25H470.75V73.85H465.65zM465.65 73.75H470.75V76.35H465.65zM470.65 76.25H473.25V78.85H470.65zM425.65 78.75H428.25V81.35H425.65zM430.65 78.75H435.75V81.35H430.65zM470.65 78.75H473.25V81.35H470.65zM425.65 81.25H428.25V83.85H425.65zM433.15 81.25H435.75V83.85H433.15zM468.15 81.25H470.75V83.85H468.15zM425.65 83.75H428.25V86.35H425.65zM435.65 83.75H438.25V86.35H435.65zM440.65 83.75H445.75V86.35H440.65zM448.15 83.75H453.25V86.35H448.15zM468.15 83.75H470.75V86.35H468.15zM428.15 86.25H430.75V88.85H428.15zM435.65 86.25H438.25V88.85H435.65zM440.65 86.25H445.75V88.85H440.65zM448.15 86.25H453.25V88.85H448.15zM473.15 86.25H475.75V88.85H473.15zM480.65 86.25H483.25V88.85H480.65zM465.65 88.75H468.25V91.35H465.65zM470.65 88.75H478.25V91.35H470.65zM458.15 91.25H460.75V93.85H458.15zM473.15 91.25H475.75V93.85H473.15zM458.15 93.75H460.75V96.35H458.15zM485.65 108.75H490.75V111.35H485.65zM488.15 111.25H490.75V113.85H488.15z"/>
<path fill="#1a87ff" d="M460.65 33.75H463.25V36.35H460.65zM460.65 36.25H463.25V38.85H460.65zM458.15 38.75H465.75V41.35H458.15zM460.65 41.25H465.75V43.85H460.65zM460.65 43.75H463.25V46.35H460.65zM453.15 48.75H455.75V51.35H453.15zM460.65 48.75H463.25V51.35H460.65zM445.65 51.25H448.25V53.85H445.65zM458.15 51.25H463.25V53.85H458.15zM445.65 53.75H448.25V56.35H445.65zM450.65 53.75H453.25V56.35H450.65zM460.65 53.75H465.75V56.35H460.65zM468.15 53.75H470.75V56.35H468.15zM443.15 56.25H445.75V58.85H443.15zM460.65 56.25H465.75V58.85H460.65zM468.15 56.25H470.75V58.85H468.15zM440.65 58.75H445.75V61.35H440.65zM460.65 58.75H463.25V61.35H460.65zM468.15 58.75H470.75V61.35H468.15zM460.65 61.25H463.25V63.85H460.65zM468.15 61.25H470.75V63.85H468.15zM465.65 63.75H470.75V66.35H465.65zM438.15 66.25H440.75V68.85H438.15zM463.15 66.25H468.25V68.85H463.15zM470.65 66.25H473.25V68.85H470.65zM438.15 68.75H440.75V71.35H438.15zM463.15 68.75H465.75V71.35H463.15zM470.65 68.75H475.75V71.35H470.65zM430.65 71.25H433.25V73.85H430.65zM470.65 71.25H475.75V73.85H470.65zM428.15 73.75H438.25V76.35H428.15zM470.65 73.75H478.25V76.35H470.65zM425.65 76.25H430.75V78.85H425.65zM435.65 76.25H438.25V78.85H435.65zM468.15 76.25H470.75V78.85H468.15zM473.15 76.25H478.25V78.85H473.15zM428.15 78.75H430.75V81.35H428.15zM468.15 78.75H470.75V81.35H468.15zM473.15 78.75H478.25V81.35H473.15zM428.15 81.25H433.25V83.85H428.15zM470.65 81.25H473.25V83.85H470.65zM475.65 81.25H478.25V83.85H475.65zM430.65 83.75H435.75V86.35H430.65zM470.65 83.75H473.25V86.35H470.65zM475.65 83.75H478.25V86.35H475.65zM433.15 86.25H435.75V88.85H433.15zM465.65 86.25H473.25V88.85H465.65zM415.65 88.75H418.25V91.35H415.65zM435.65 88.75H440.75V91.35H435.65zM468.15 88.75H470.75V91.35H468.15zM480.65 88.75H483.25V91.35H480.65zM415.65 91.25H418.25V93.85H415.65zM435.65 91.25H440.75V93.85H435.65zM455.65 91.25H458.25V93.85H455.65zM460.65 91.25H465.75V93.85H460.65zM475.65 91.25H478.25V93.85H475.65zM455.65 93.75H458.25V96.35H455.65z"/>
<path fill="#1892ff" d="M460.65 28.75H463.25V31.35H460.65zM458.15 31.25H463.25V33.85H458.15zM458.15 33.75H460.75V36.35H458.15zM455.65 36.25H460.75V38.85H455.65zM455.65 38.75H458.25V41.35H455.65zM455.65 41.25H458.25V43.85H455.65zM455.65 43.75H458.25V46.35H455.65zM463.15 43.75H465.75V46.35H463.15zM448.15 46.25H450.75V48.85H448.15zM463.15 46.25H468.25V48.85H463.15zM448.15 48.75H450.75V51.35H448.15zM463.15 48.75H468.25V51.35H463.15zM465.65 51.25H468.25V53.85H465.65zM445.65 56.25H450.75V58.85H445.65zM445.65 58.75H450.75V61.35H445.65zM463.15 58.75H465.75V61.35H463.15zM438.15 61.25H440.75V63.85H438.15zM443.15 61.25H445.75V63.85H443.15zM448.15 61.25H450.75V63.85H448.15zM463.15 61.25H465.75V63.85H463.15zM438.15 63.75H440.75V66.35H438.15zM463.15 63.75H465.75V66.35H463.15zM470.65 63.75H473.25V66.35H470.65zM468.15 66.25H470.75V68.85H468.15zM468.15 68.75H470.75V71.35H468.15zM430.65 76.25H433.25V78.85H430.65zM423.15 81.25H425.75V83.85H423.15zM478.15 81.25H483.25V83.85H478.15zM420.65 83.75H425.75V86.35H420.65zM478.15 83.75H480.75V86.35H478.15zM418.15 86.25H425.75V88.85H418.15zM430.65 86.25H433.25V88.85H430.65zM475.65 86.25H480.75V88.85H475.65zM418.15 88.75H428.25V91.35H418.15zM440.65 88.75H443.25V91.35H440.65zM445.65 88.75H448.25V91.35H445.65zM450.65 88.75H455.75V91.35H450.65zM478.15 88.75H480.75V91.35H478.15zM413.15 91.25H415.75V93.85H413.15zM418.15 91.25H428.25V93.85H418.15zM440.65 91.25H443.25V93.85H440.65zM450.65 91.25H455.75V93.85H450.65zM465.65 91.25H468.25V93.85H465.65zM470.65 91.25H473.25V93.85H470.65zM480.65 91.25H483.25V93.85H480.65zM460.65 93.75H475.75V96.35H460.65zM473.15 96.25H475.75V98.85H473.15z"/>
<path fill="#179dff" d="M450.65 43.75H453.25V46.35H450.65zM450.65 46.25H455.75V48.85H450.65zM443.15 48.75H445.75V51.35H443.15zM450.65 48.75H453.25V51.35H450.65zM443.15 51.25H445.75V53.85H443.15zM448.15 51.25H453.25V53.85H448.15zM463.15 51.25H465.75V53.85H463.15zM440.65 53.75H443.25V56.35H440.65zM448.15 53.75H450.75V56.35H448.15zM465.65 53.75H468.25V56.35H465.65zM465.65 56.25H468.25V58.85H465.65zM465.65 58.75H468.25V61.35H465.65zM465.65 61.25H468.25V63.85H465.65zM433.15 63.75H438.25V66.35H433.15zM433.15 66.25H438.25V68.85H433.15zM435.65 68.75H438.25V71.35H435.65zM435.65 71.25H438.25V73.85H435.65zM480.65 83.75H483.25V86.35H480.65zM428.15 88.75H430.75V91.35H428.15zM433.15 88.75H435.75V91.35H433.15zM443.15 88.75H445.75V91.35H443.15zM448.15 88.75H450.75V91.35H448.15zM428.15 91.25H430.75V93.85H428.15zM433.15 91.25H435.75V93.85H433.15zM443.15 91.25H450.75V93.85H443.15zM468.15 91.25H470.75V93.85H468.15zM478.15 91.25H480.75V93.85H478.15zM475.65 93.75H478.25V96.35H475.65zM480.65 93.75H483.25V96.35H480.65zM475.65 96.25H478.25V98.85H475.65zM485.65 96.25H488.25V98.85H485.65zM485.65 98.75H488.25V101.35H485.65z"/>
<path fill="#15a9ff" d="M463.15 28.75H465.75V31.35H463.15zM463.15 31.25H465.75V33.85H463.15zM463.15 33.75H465.75V36.35H463.15zM463.15 36.25H465.75V38.85H463.15zM453.15 38.75H455.75V41.35H453.15zM453.15 41.25H455.75V43.85H453.15zM453.15 43.75H455.75V46.35H453.15zM445.65 46.25H448.25V48.85H445.65zM445.65 48.75H448.25V51.35H445.65zM440.65 56.25H443.25V58.85H440.65zM430.65 66.25H433.25V68.85H430.65zM430.65 68.75H433.25V71.35H430.65zM425.65 73.75H428.25V76.35H425.65zM413.15 86.25H418.25V88.85H413.15zM430.65 88.75H433.25V91.35H430.65zM430.65 91.25H433.25V93.85H430.65zM483.15 91.25H485.75V93.85H483.15zM435.65 93.75H443.25V96.35H435.65zM478.15 93.75H480.75V96.35H478.15zM483.15 93.75H485.75V96.35H483.15zM455.65 96.25H460.75V98.85H455.65zM478.15 96.25H485.75V98.85H478.15zM478.15 98.75H485.75V101.35H478.15z"/>
<path fill="#14b4ff" d="M460.65 23.75H463.25V26.35H460.65zM458.15 26.25H463.25V28.85H458.15zM458.15 28.75H460.75V31.35H458.15zM455.65 31.25H458.25V33.85H455.65zM465.65 38.75H468.25V41.35H465.65zM448.15 41.25H450.75V43.85H448.15zM465.65 41.25H468.25V43.85H465.65zM448.15 43.75H450.75V46.35H448.15zM465.65 43.75H468.25V46.35H465.65zM468.15 48.75H470.75V51.35H468.15zM468.15 51.25H470.75V53.85H468.15zM438.15 56.25H440.75V58.85H438.15zM438.15 58.75H440.75V61.35H438.15zM470.65 61.25H473.25V63.85H470.65zM473.15 63.75H475.75V66.35H473.15zM473.15 66.25H475.75V68.85H473.15zM428.15 68.75H430.75V71.35H428.15zM475.65 68.75H478.25V71.35H475.65zM425.65 71.25H430.75V73.85H425.65zM475.65 71.25H478.25V73.85H475.65zM478.15 73.75H480.75V76.35H478.15zM423.15 76.25H425.75V78.85H423.15zM478.15 76.25H480.75V78.85H478.15zM420.65 78.75H425.75V81.35H420.65zM478.15 78.75H480.75V81.35H478.15zM420.65 81.25H423.25V83.85H420.65zM415.65 83.75H418.25V86.35H415.65zM413.15 88.75H415.75V91.35H413.15zM415.65 93.75H418.25V96.35H415.65zM433.15 93.75H435.75V96.35H433.15zM443.15 93.75H445.75V96.35H443.15zM453.15 93.75H455.75V96.35H453.15zM463.15 96.25H468.25V98.85H463.15zM470.65 96.25H473.25V98.85H470.65zM473.15 98.75H478.25V101.35H473.15zM475.65 101.25H478.25V103.85H475.65z"/>
<path fill="#0ec1ff" d="M453.15 33.75H458.25V36.35H453.15zM450.65 38.75H453.25V41.35H450.65zM450.65 41.25H453.25V43.85H450.65zM468.15 46.25H470.75V48.85H468.15zM470.65 53.75H473.25V56.35H470.65zM470.65 56.25H473.25V58.85H470.65zM435.65 58.75H438.25V61.35H435.65zM470.65 58.75H473.25V61.35H470.65zM435.65 61.25H438.25V63.85H435.65zM418.15 81.25H420.75V83.85H418.15zM418.15 83.75H420.75V86.35H418.15zM483.15 86.25H485.75V88.85H483.15zM413.15 93.75H415.75V96.35H413.15zM418.15 93.75H428.25V96.35H418.15zM430.65 93.75H433.25V96.35H430.65zM445.65 93.75H453.25V96.35H445.65zM460.65 96.25H463.25V98.85H460.65zM468.15 96.25H470.75V98.85H468.15zM488.15 96.25H490.75V98.85H488.15zM483.15 101.25H488.25V103.85H483.15z"/>
<path fill="#09ceff" d="M455.65 26.25H458.25V28.85H455.65zM463.15 26.25H465.75V28.85H463.15zM465.65 28.75H468.25V31.35H465.65zM465.65 31.25H468.25V33.85H465.65zM453.15 36.25H455.75V38.85H453.15zM445.65 41.25H448.25V43.85H445.65zM445.65 43.75H448.25V46.35H445.65zM443.15 46.25H445.75V48.85H443.15zM440.65 48.75H443.25V51.35H440.65zM440.65 51.25H443.25V53.85H440.65zM433.15 58.75H435.75V61.35H433.15zM433.15 61.25H435.75V63.85H433.15zM430.65 63.75H433.25V66.35H430.65zM480.65 73.75H483.25V76.35H480.65zM480.65 76.25H483.25V78.85H480.65zM480.65 78.75H483.25V81.35H480.65zM483.15 81.25H485.75V83.85H483.15zM483.15 88.75H485.75V91.35H483.15zM410.65 91.25H413.25V93.85H410.65zM485.65 91.25H488.25V93.85H485.65zM428.15 93.75H430.75V96.35H428.15zM485.65 93.75H488.25V96.35H485.65zM435.65 96.25H443.25V98.85H435.65zM455.65 98.75H458.25V101.35H455.65zM465.65 98.75H468.25V101.35H465.65zM488.15 98.75H490.75V101.35H488.15zM478.15 101.25H480.75V103.85H478.15z"/>
<path fill="#03daff" d="M460.65 18.75H463.25V21.35H460.65zM460.65 21.25H468.25V23.85H460.65zM458.15 23.75H460.75V26.35H458.15zM463.15 23.75H468.25V26.35H463.15zM465.65 26.25H468.25V28.85H465.65zM455.65 28.75H458.25V31.35H455.65zM453.15 31.25H455.75V33.85H453.15zM450.65 33.75H453.25V36.35H450.65zM465.65 33.75H468.25V36.35H465.65zM450.65 36.25H453.25V38.85H450.65zM465.65 36.25H468.25V38.85H465.65zM448.15 38.75H450.75V41.35H448.15zM443.15 41.25H445.75V43.85H443.15zM443.15 43.75H445.75V46.35H443.15zM468.15 43.75H470.75V46.35H468.15zM470.65 48.75H473.25V51.35H470.65zM470.65 51.25H473.25V53.85H470.65zM438.15 53.75H440.75V56.35H438.15zM473.15 53.75H475.75V56.35H473.15zM435.65 56.25H438.25V58.85H435.65zM473.15 56.25H475.75V58.85H473.15zM473.15 58.75H475.75V61.35H473.15zM473.15 61.25H475.75V63.85H473.15zM475.65 63.75H478.25V66.35H475.65zM428.15 66.25H430.75V68.85H428.15zM475.65 66.25H478.25V68.85H475.65zM425.65 68.75H428.25V71.35H425.65zM478.15 68.75H480.75V71.35H478.15zM423.15 71.25H425.75V73.85H423.15zM478.15 71.25H483.25V73.85H478.15zM423.15 73.75H425.75V76.35H423.15zM483.15 73.75H485.75V76.35H483.15zM420.65 76.25H423.25V78.85H420.65zM483.15 76.25H485.75V78.85H483.15zM418.15 78.75H420.75V81.35H418.15zM483.15 78.75H485.75V81.35H483.15zM415.65 81.25H418.25V83.85H415.65zM413.15 83.75H415.75V86.35H413.15zM483.15 83.75H485.75V86.35H483.15zM410.65 86.25H413.25V88.85H410.65zM488.15 91.25H490.75V93.85H488.15zM408.15 93.75H413.25V96.35H408.15zM488.15 93.75H490.75V96.35H488.15zM415.65 96.25H435.75V98.85H415.65zM443.15 96.25H455.75V98.85H443.15zM490.65 96.25H493.25V98.85H490.65zM438.15 98.75H440.75V101.35H438.15zM458.15 98.75H460.75V101.35H458.15zM463.15 98.75H465.75V101.35H463.15zM468.15 98.75H473.25V101.35H468.15zM465.65 101.25H468.25V103.85H465.65zM473.15 101.25H475.75V103.85H473.15zM480.65 101.25H483.25V103.85H480.65zM475.65 103.75H480.75V106.35H475.65zM483.15 103.75H485.75V106.35H483.15zM493.15 111.25H495.75V113.85H493.15z"/>
<path fill="#00e7f8" d="M463.15 13.75H465.75V16.35H463.15zM460.65 16.25H465.75V18.85H460.65zM458.15 18.75H460.75V21.35H458.15zM463.15 18.75H465.75V21.35H463.15zM458.15 21.25H460.75V23.85H458.15zM455.65 23.75H458.25V26.35H455.65zM453.15 26.25H455.75V28.85H453.15zM453.15 28.75H455.75V31.35H453.15zM468.15 28.75H470.75V31.35H468.15zM450.65 31.25H453.25V33.85H450.65zM448.15 33.75H450.75V36.35H448.15zM448.15 36.25H450.75V38.85H448.15zM445.65 38.75H448.25V41.35H445.65zM468.15 38.75H470.75V41.35H468.15zM468.15 41.25H470.75V43.85H468.15zM440.65 46.25H443.25V48.85H440.65zM470.65 46.25H473.25V48.85H470.65zM438.15 48.75H440.75V51.35H438.15zM438.15 51.25H440.75V53.85H438.15zM435.65 53.75H438.25V56.35H435.65zM433.15 56.25H435.75V58.85H433.15zM475.65 56.25H478.25V58.85H475.65zM430.65 58.75H433.25V61.35H430.65zM475.65 58.75H478.25V61.35H475.65zM430.65 61.25H433.25V63.85H430.65zM475.65 61.25H478.25V63.85H475.65zM428.15 63.75H430.75V66.35H428.15zM425.65 66.25H428.25V68.85H425.65zM478.15 66.25H480.75V68.85H478.15zM423.15 68.75H425.75V71.35H423.15zM480.65 68.75H483.25V71.35H480.65zM420.65 71.25H423.25V73.85H420.65zM420.65 73.75H423.25V76.35H420.65zM418.15 76.25H420.75V78.85H418.15zM415.65 78.75H418.25V81.35H415.65zM413.15 81.25H415.75V83.85H413.15zM485.65 81.25H488.25V83.85H485.65zM410.65 83.75H413.25V86.35H410.65zM408.15 86.25H410.75V88.85H408.15zM485.65 86.25H488.25V88.85H485.65zM410.65 88.75H413.25V91.35H410.65zM485.65 88.75H488.25V91.35H485.65zM490.65 93.75H493.25V96.35H490.65zM413.15 96.25H415.75V98.85H413.15zM493.15 96.25H495.75V98.85H493.15zM420.65 98.75H438.25V101.35H420.65zM440.65 98.75H448.25V101.35H440.65zM450.65 98.75H455.75V101.35H450.65zM460.65 98.75H463.25V101.35H460.65zM490.65 98.75H493.25V101.35H490.65zM455.65 101.25H460.75V103.85H455.65zM463.15 101.25H465.75V103.85H463.15zM468.15 101.25H473.25V103.85H468.15zM488.15 101.25H493.25V103.85H488.15zM473.15 103.75H475.75V106.35H473.15zM480.65 103.75H483.25V106.35H480.65zM485.65 103.75H488.25V106.35H485.65zM473.15 106.25H480.75V108.85H473.15zM483.15 106.25H485.75V108.85H483.15zM495.65 111.25H498.25V113.85H495.65zM493.15 113.75H498.25V116.35H493.15z"/>
<path fill="#00f2eb" d="M468.15 31.25H470.75V33.85H468.15zM468.15 33.75H470.75V36.35H468.15zM468.15 36.25H470.75V38.85H468.15zM470.65 43.75H473.25V46.35H470.65zM473.15 46.25H475.75V48.85H473.15zM473.15 48.75H475.75V51.35H473.15zM473.15 51.25H475.75V53.85H473.15zM475.65 53.75H478.25V56.35H475.65zM478.15 63.75H480.75V66.35H478.15zM485.65 83.75H488.25V86.35H485.65zM488.15 86.25H490.75V88.85H488.15zM408.15 88.75H410.75V91.35H408.15zM488.15 88.75H490.75V91.35H488.15zM408.15 91.25H410.75V93.85H408.15zM490.65 91.25H493.25V93.85H490.65zM410.65 96.25H413.25V98.85H410.65zM413.15 98.75H420.75V101.35H413.15zM448.15 98.75H450.75V101.35H448.15zM493.15 98.75H495.75V101.35H493.15zM460.65 101.25H463.25V103.85H460.65zM493.15 101.25H498.25V103.85H493.15zM480.65 106.25H483.25V108.85H480.65zM485.65 106.25H488.25V108.85H485.65zM495.65 108.75H498.25V111.35H495.65zM490.65 111.25H493.25V113.85H490.65z"/>
<path fill="#00fedd" d="M470.65 38.75H473.25V41.35H470.65zM470.65 41.25H473.25V43.85H470.65zM405.65 91.25H408.25V93.85H405.65zM403.15 93.75H408.25V96.35H403.15zM405.65 96.25H410.75V98.85H405.65zM410.65 98.75H413.25V101.35H410.65zM495.65 103.75H498.25V106.35H495.65zM495.65 106.25H498.25V108.85H495.65zM493.15 108.75H495.75V111.35H493.15z"/>
<path fill="#00ffba" d="M403.15 96.25H405.75V98.85H403.15zM403.15 98.75H405.75V101.35H403.15zM408.15 98.75H410.75V101.35H408.15z"/>
<path fill="#00ff96" d="M405.65 98.75H408.25V101.35H405.65z"/>
<path fill="#05ff7f" d="M490.65 108.75H493.25V111.35H490.65z"/>
<path fill="#0aff67" d="M488.15 103.75H490.75V106.35H488.15zM493.15 103.75H495.75V106.35H493.15zM493.15 106.25H495.75V108.85H493.15z"/>
<path fill="#10ff50" d="M488.15 106.25H490.75V108.85H488.15z"/>
<path fill="#16ff3a" d="M490.65 103.75H493.25V106.35H490.65z"/>
<path fill="#42ff0e" d="M490.65 106.25H493.25V108.85H490.65z"/>
</g></g>
<rect x="403.2" y="121.5" width="96" height="104.2" fill="#000"/>
<clipPath id="hec"><path d="M460.7 124.3H463.2V125.57H460.7zM460.7 125.55H465.7V126.82H460.7zM460.7 126.8H465.7V128.07H460.7zM458.2 128.05H465.7V129.32H458.2zM458.2 129.3H465.7V130.57H458.2zM458.2 130.55H465.7V131.82H458.2zM458.2 131.8H468.2V133.07H458.2zM455.7 133.05H468.2V134.32H455.7zM455.7 134.3H468.2V135.57H455.7zM455.7 135.55H468.2V136.82H455.7zM453.2 136.8H468.2V138.07H453.2zM453.2 138.05H468.2V139.32H453.2zM453.2 139.3H468.2V140.57H453.2zM450.7 140.55H470.7V141.82H450.7zM450.7 141.8H470.7V143.07H450.7zM450.7 143.05H470.7V144.32H450.7zM450.7 144.3H470.7V145.57H450.7zM448.2 145.55H470.7V146.82H448.2zM448.2 146.8H470.7V148.07H448.2zM448.2 148.05H470.7V149.32H448.2zM445.7 149.3H473.2V150.57H445.7zM445.7 150.55H473.2V151.82H445.7zM445.7 151.8H473.2V153.07H445.7zM443.2 153.05H473.2V154.32H443.2zM443.2 154.3H473.2V155.57H443.2zM443.2 155.55H473.2V156.82H443.2zM440.7 156.8H473.2V158.07H440.7zM440.7 158.05H475.7V159.32H440.7zM440.7 159.3H475.7V160.57H440.7zM438.2 160.55H475.7V161.82H438.2zM438.2 161.8H475.7V163.07H438.2zM435.7 163.05H475.7V164.32H435.7zM435.7 164.3H475.7V165.57H435.7zM435.7 165.55H478.2V166.82H435.7zM433.2 166.8H478.2V168.07H433.2zM433.2 168.05H478.2V169.32H433.2zM433.2 169.3H478.2V170.57H433.2zM430.7 170.55H478.2V171.82H430.7zM430.7 171.8H478.2V173.07H430.7zM430.7 173.05H480.7V174.32H430.7zM428.2 174.3H480.7V175.57H428.2zM428.2 175.55H480.7V176.82H428.2zM425.7 176.8H480.7V178.07H425.7zM425.7 178.05H480.7V179.32H425.7zM423.2 179.3H480.7V180.57H423.2zM423.2 180.55H483.2V181.82H423.2zM423.2 181.8H483.2V183.07H423.2zM420.7 183.05H483.2V184.32H420.7zM420.7 184.3H483.2V185.57H420.7zM418.2 185.55H485.7V186.82H418.2zM418.2 186.8H485.7V188.07H418.2zM418.2 188.05H485.7V189.32H418.2zM415.7 189.3H485.7V190.57H415.7zM415.7 190.55H488.2V191.82H415.7zM413.2 191.8H488.2V193.07H413.2zM413.2 193.05H488.2V194.32H413.2zM410.7 194.3H488.2V195.57H410.7zM410.7 195.55H488.2V196.82H410.7zM410.7 196.8H490.7V198.07H410.7zM408.2 198.05H490.7V199.32H408.2zM408.2 199.3H490.7V200.57H408.2zM405.7 200.55H490.7V201.82H405.7zM405.7 201.8H493.2V203.07H405.7zM405.7 203.05H493.2V204.32H405.7zM403.2 204.3H493.2V205.57H403.2zM403.2 205.55H493.2V206.82H403.2zM403.2 206.8H495.7V208.07H403.2zM403.2 208.05H495.7V209.32H403.2zM403.2 209.3H495.7V210.57H403.2zM403.2 210.55H495.7V211.82H403.2zM403.2 211.8H498.2V213.07H403.2zM455.7 213.05H498.2V214.32H455.7zM455.7 214.3H498.2V215.57H455.7zM473.2 215.55H498.2V216.82H473.2zM473.2 216.8H498.2V218.07H473.2zM473.2 218.05H498.2V219.32H473.2zM473.2 219.3H498.2V220.57H473.2zM490.7 220.55H498.2V221.82H490.7zM490.7 221.8H498.2V223.07H490.7zM490.7 223.05H498.2V224.32H490.7zM493.2 224.3H498.2V225.57H493.2zM493.2 225.55H498.2V225.72H493.2z"/></clipPath>
<filter id="heb" x="-10%" y="-10%" width="120%" height="120%"><feGaussianBlur stdDeviation="1.2" color-interpolation-filters="sRGB"/></filter>
<g clip-path="url(#hec)"><g filter="url(#heb)">
<path fill="#bb05ff" d="M460.65 116.75H465.75V119.35H460.65zM458.15 119.25H468.25V121.85H458.15zM455.65 121.75H470.75V124.35H455.65zM453.15 124.25H460.75V126.85H453.15zM465.65 124.25H473.25V126.85H465.65zM453.15 126.75H460.75V129.35H453.15zM465.65 126.75H473.25V129.35H465.65zM450.65 129.25H458.25V131.85H450.65zM465.65 129.25H473.25V131.85H465.65zM448.15 131.75H455.75V134.35H448.15zM468.15 131.75H475.75V134.35H468.15zM448.15 134.25H455.75V136.85H448.15zM468.15 134.25H475.75V136.85H468.15zM445.65 136.75H453.25V139.35H445.65zM468.15 136.75H475.75V139.35H468.15zM445.65 139.25H453.25V141.85H445.65zM468.15 139.25H475.75V141.85H468.15zM443.15 141.75H450.75V144.35H443.15zM470.65 141.75H478.25V144.35H470.65zM440.65 144.25H448.25V146.85H440.65zM470.65 144.25H478.25V146.85H470.65zM440.65 146.75H448.25V149.35H440.65zM470.65 146.75H478.25V149.35H470.65zM438.15 149.25H445.75V151.85H438.15zM473.15 149.25H480.75V151.85H473.15zM438.15 151.75H445.75V154.35H438.15zM473.15 151.75H480.75V154.35H473.15zM435.65 154.25H443.25V156.85H435.65zM473.15 154.25H480.75V156.85H473.15zM433.15 156.75H440.75V159.35H433.15zM475.65 156.75H483.25V159.35H475.65zM430.65 159.25H438.25V161.85H430.65zM475.65 159.25H483.25V161.85H475.65zM430.65 161.75H438.25V164.35H430.65zM475.65 161.75H483.25V164.35H475.65zM428.15 164.25H435.75V166.85H428.15zM478.15 164.25H485.75V166.85H478.15zM425.65 166.75H433.25V169.35H425.65zM478.15 166.75H485.75V169.35H478.15zM425.65 169.25H433.25V171.85H425.65zM478.15 169.25H485.75V171.85H478.15zM423.15 171.75H430.75V174.35H423.15zM478.15 171.75H485.75V174.35H478.15zM420.65 174.25H428.25V176.85H420.65zM480.65 174.25H488.25V176.85H480.65zM418.15 176.75H425.75V179.35H418.15zM480.65 176.75H488.25V179.35H480.65zM415.65 179.25H423.25V181.85H415.65zM483.15 179.25H490.75V181.85H483.15zM413.15 181.75H420.75V184.35H413.15zM483.15 181.75H490.75V184.35H483.15zM413.15 184.25H420.75V186.85H413.15zM485.65 184.25H493.25V186.85H485.65zM410.65 186.75H418.25V189.35H410.65zM485.65 186.75H493.25V189.35H485.65zM408.15 189.25H415.75V191.85H408.15zM485.65 189.25H493.25V191.85H485.65zM405.65 191.75H413.25V194.35H405.65zM488.15 191.75H495.75V194.35H488.15zM403.15 194.25H410.75V196.85H403.15zM488.15 194.25H495.75V196.85H488.15zM400.65 196.75H408.25V199.35H400.65zM490.65 196.75H498.25V199.35H490.65zM400.65 199.25H408.25V201.85H400.65zM490.65 199.25H498.25V201.85H490.65zM398.15 201.75H405.75V204.35H398.15zM493.15 201.75H500.75V204.35H493.15zM395.65 204.25H403.25V206.85H395.65zM493.15 204.25H500.75V206.85H493.15zM395.65 206.75H403.25V209.35H395.65zM495.65 206.75H503.25V209.35H495.65zM395.65 209.25H403.25V211.85H395.65zM500.65 209.25H503.25V211.85H500.65zM398.15 211.75H455.75V214.35H398.15zM503.15 211.75H505.75V214.35H503.15zM400.65 214.25H455.75V216.85H400.65zM403.15 216.75H473.25V219.35H403.15zM453.15 219.25H483.25V221.85H453.15zM455.65 221.75H483.25V224.35H455.65zM503.15 221.75H505.75V224.35H503.15zM473.15 224.25H485.75V226.85H473.15zM503.15 224.25H505.75V226.85H503.15zM500.65 226.75H503.25V229.35H500.65zM490.65 229.25H500.75V231.85H490.65zM493.15 231.75H498.25V234.35H493.15z"/>
<path fill="#ae0aff" d="M495.65 209.25H500.75V211.85H495.65zM498.15 211.75H503.25V214.35H498.15zM500.65 214.25H505.75V216.85H500.65zM500.65 216.75H505.75V219.35H500.65zM483.15 219.25H485.75V221.85H483.15zM500.65 219.25H505.75V221.85H500.65zM483.15 221.75H488.25V224.35H483.15zM500.65 221.75H503.25V224.35H500.65zM485.65 224.25H490.75V226.85H485.65zM498.15 224.25H503.25V226.85H498.15zM488.15 226.75H500.75V229.35H488.15z"/>
<path fill="#a110ff" d="M498.15 214.25H500.75V216.85H498.15zM485.65 219.25H488.25V221.85H485.65zM498.15 221.75H500.75V224.35H498.15zM490.65 224.25H493.25V226.85H490.65z"/>
<path fill="#9415ff" d="M498.15 216.75H500.75V219.35H498.15zM498.15 219.25H500.75V221.85H498.15zM488.15 221.75H490.75V224.35H488.15z"/>
<path fill="#851aff" d="M488.15 219.25H490.75V221.85H488.15z"/>
<path fill="#3d36ff" d="M463.15 166.75H465.75V169.35H463.15zM445.65 171.75H448.25V174.35H445.65zM465.65 174.25H468.25V176.85H465.65zM465.65 176.75H468.25V179.35H465.65z"/>
<path fill="#343bff" d="M458.15 164.25H465.75V166.85H458.15zM460.65 166.75H463.25V169.35H460.65zM448.15 169.25H450.75V171.85H448.15zM463.15 169.25H465.75V171.85H463.15zM448.15 171.75H450.75V174.35H448.15zM463.15 171.75H465.75V174.35H463.15zM445.65 174.25H450.75V176.85H445.65zM463.15 174.25H465.75V176.85H463.15zM445.65 176.75H450.75V179.35H445.65zM440.65 179.25H443.25V181.85H440.65zM448.15 179.25H450.75V181.85H448.15zM465.65 179.25H468.25V181.85H465.65zM438.15 181.75H443.25V184.35H438.15zM448.15 181.75H450.75V184.35H448.15zM465.65 181.75H468.25V184.35H465.65zM438.15 184.25H443.25V186.85H438.15zM448.15 184.25H450.75V186.85H448.15zM463.15 184.25H465.75V186.85H463.15zM438.15 186.75H443.25V189.35H438.15zM448.15 186.75H450.75V189.35H448.15zM463.15 186.75H465.75V189.35H463.15zM440.65 189.25H443.25V191.85H440.65zM448.15 189.25H450.75V191.85H448.15zM463.15 189.25H465.75V191.85H463.15zM440.65 191.75H443.25V194.35H440.65zM445.65 191.75H450.75V194.35H445.65zM463.15 191.75H465.75V194.35H463.15zM445.65 194.25H450.75V196.85H445.65zM460.65 194.25H465.75V196.85H460.65zM443.15 196.75H448.25V199.35H443.15zM453.15 196.75H455.75V199.35H453.15zM463.15 196.75H465.75V199.35H463.15zM463.15 199.25H465.75V201.85H463.15zM453.15 201.75H455.75V204.35H453.15zM463.15 201.75H465.75V204.35H463.15z"/>
<path fill="#2e43ff" d="M465.65 156.75H468.25V159.35H465.65zM455.65 159.25H458.25V161.85H455.65zM460.65 159.25H463.25V161.85H460.65zM465.65 159.25H468.25V161.85H465.65zM453.15 161.75H463.25V164.35H453.15zM465.65 161.75H468.25V164.35H465.65zM453.15 164.25H458.25V166.85H453.15zM465.65 164.25H468.25V166.85H465.65zM443.15 166.75H460.75V169.35H443.15zM465.65 166.75H468.25V169.35H465.65zM443.15 169.25H448.25V171.85H443.15zM450.65 169.25H453.25V171.85H450.65zM460.65 169.25H463.25V171.85H460.65zM465.65 169.25H468.25V171.85H465.65zM443.15 171.75H445.75V174.35H443.15zM450.65 171.75H453.25V174.35H450.65zM460.65 171.75H463.25V174.35H460.65zM465.65 171.75H468.25V174.35H465.65zM443.15 174.25H445.75V176.85H443.15zM450.65 174.25H453.25V176.85H450.65zM438.15 176.75H440.75V179.35H438.15zM443.15 176.75H445.75V179.35H443.15zM463.15 176.75H465.75V179.35H463.15zM438.15 179.25H440.75V181.85H438.15zM443.15 179.25H448.25V181.85H443.15zM463.15 179.25H465.75V181.85H463.15zM445.65 181.75H448.25V184.35H445.65zM463.15 181.75H465.75V184.35H463.15zM435.65 184.25H438.25V186.85H435.65zM445.65 184.25H448.25V186.85H445.65zM450.65 184.25H453.25V186.85H450.65zM465.65 184.25H468.25V186.85H465.65zM435.65 186.75H438.25V189.35H435.65zM445.65 186.75H448.25V189.35H445.65zM450.65 186.75H453.25V189.35H450.65zM460.65 186.75H463.25V189.35H460.65zM465.65 186.75H468.25V189.35H465.65zM470.65 186.75H473.25V189.35H470.65zM435.65 189.25H440.75V191.85H435.65zM445.65 189.25H448.25V191.85H445.65zM450.65 189.25H453.25V191.85H450.65zM460.65 189.25H463.25V191.85H460.65zM435.65 191.75H440.75V194.35H435.65zM443.15 191.75H445.75V194.35H443.15zM450.65 191.75H453.25V194.35H450.65zM460.65 191.75H463.25V194.35H460.65zM470.65 191.75H475.75V194.35H470.65zM420.65 194.25H423.25V196.85H420.65zM440.65 194.25H445.75V196.85H440.65zM450.65 194.25H455.75V196.85H450.65zM470.65 194.25H475.75V196.85H470.65zM420.65 196.75H423.25V199.35H420.65zM438.15 196.75H443.25V199.35H438.15zM448.15 196.75H453.25V199.35H448.15zM460.65 196.75H463.25V199.35H460.65zM465.65 196.75H468.25V199.35H465.65zM470.65 196.75H475.75V199.35H470.65zM420.65 199.25H425.75V201.85H420.65zM443.15 199.25H448.25V201.85H443.15zM453.15 199.25H458.25V201.85H453.15zM460.65 199.25H463.25V201.85H460.65zM465.65 199.25H468.25V201.85H465.65zM470.65 199.25H478.25V201.85H470.65zM420.65 201.75H425.75V204.35H420.65zM443.15 201.75H448.25V204.35H443.15zM465.65 201.75H478.25V204.35H465.65zM473.15 204.25H480.75V206.85H473.15zM483.15 206.75H485.75V209.35H483.15zM483.15 209.25H485.75V211.85H483.15z"/>
<path fill="#284aff" d="M463.15 149.25H465.75V151.85H463.15zM463.15 151.75H465.75V154.35H463.15zM465.65 154.25H468.25V156.85H465.65zM455.65 156.75H458.25V159.35H455.65zM460.65 156.75H463.25V159.35H460.65zM458.15 159.25H460.75V161.85H458.15zM463.15 159.25H465.75V161.85H463.15zM463.15 161.75H465.75V164.35H463.15zM443.15 164.25H448.25V166.85H443.15zM450.65 164.25H453.25V166.85H450.65zM440.65 169.25H443.25V171.85H440.65zM453.15 169.25H460.75V171.85H453.15zM440.65 171.75H443.25V174.35H440.65zM453.15 171.75H455.75V174.35H453.15zM438.15 174.25H443.25V176.85H438.15zM453.15 174.25H455.75V176.85H453.15zM460.65 174.25H463.25V176.85H460.65zM440.65 176.75H443.25V179.35H440.65zM450.65 176.75H453.25V179.35H450.65zM460.65 176.75H463.25V179.35H460.65zM450.65 179.25H453.25V181.85H450.65zM460.65 179.25H463.25V181.85H460.65zM470.65 179.25H475.75V181.85H470.65zM443.15 181.75H445.75V184.35H443.15zM450.65 181.75H453.25V184.35H450.65zM460.65 181.75H463.25V184.35H460.65zM468.15 181.75H475.75V184.35H468.15zM443.15 184.25H445.75V186.85H443.15zM460.65 184.25H463.25V186.85H460.65zM468.15 184.25H470.75V186.85H468.15zM473.15 184.25H478.25V186.85H473.15zM433.15 186.75H435.75V189.35H433.15zM443.15 186.75H445.75V189.35H443.15zM453.15 186.75H455.75V189.35H453.15zM473.15 186.75H475.75V189.35H473.15zM430.65 189.25H435.75V191.85H430.65zM443.15 189.25H445.75V191.85H443.15zM453.15 189.25H455.75V191.85H453.15zM465.65 189.25H468.25V191.85H465.65zM470.65 189.25H475.75V191.85H470.65zM423.15 191.75H425.75V194.35H423.15zM430.65 191.75H435.75V194.35H430.65zM453.15 191.75H455.75V194.35H453.15zM465.65 191.75H468.25V194.35H465.65zM423.15 194.25H425.75V196.85H423.15zM428.15 194.25H440.75V196.85H428.15zM465.65 194.25H468.25V196.85H465.65zM418.15 196.75H420.75V199.35H418.15zM423.15 196.75H428.25V199.35H423.15zM430.65 196.75H438.25V199.35H430.65zM455.65 196.75H458.25V199.35H455.65zM468.15 196.75H470.75V199.35H468.15zM418.15 199.25H420.75V201.85H418.15zM440.65 199.25H443.25V201.85H440.65zM448.15 199.25H453.25V201.85H448.15zM458.15 199.25H460.75V201.85H458.15zM468.15 199.25H470.75V201.85H468.15zM418.15 201.75H420.75V204.35H418.15zM438.15 201.75H443.25V204.35H438.15zM448.15 201.75H453.25V204.35H448.15zM455.65 201.75H458.25V204.35H455.65zM460.65 201.75H463.25V204.35H460.65zM483.15 201.75H485.75V204.35H483.15zM443.15 204.25H448.25V206.85H443.15zM453.15 204.25H458.25V206.85H453.15zM460.65 204.25H468.25V206.85H460.65zM483.15 204.25H485.75V206.85H483.15zM460.65 206.75H463.25V209.35H460.65zM475.65 206.75H483.25V209.35H475.65zM485.65 206.75H488.25V209.35H485.65zM475.65 209.25H483.25V211.85H475.65zM485.65 209.25H488.25V211.85H485.65z"/>
<path fill="#2352ff" d="M460.65 131.75H463.25V134.35H460.65zM460.65 134.25H463.25V136.85H460.65zM463.15 141.75H465.75V144.35H463.15zM463.15 144.25H465.75V146.85H463.15zM463.15 146.75H465.75V149.35H463.15zM465.65 149.25H468.25V151.85H465.65zM453.15 151.75H455.75V154.35H453.15zM465.65 151.75H468.25V154.35H465.65zM450.65 154.25H455.75V156.85H450.65zM458.15 154.25H460.75V156.85H458.15zM463.15 154.25H465.75V156.85H463.15zM453.15 156.75H455.75V159.35H453.15zM458.15 156.75H460.75V159.35H458.15zM463.15 156.75H465.75V159.35H463.15zM468.15 156.75H470.75V159.35H468.15zM453.15 159.25H455.75V161.85H453.15zM468.15 159.25H470.75V161.85H468.15zM445.65 161.75H448.25V164.35H445.65zM448.15 164.25H450.75V166.85H448.15zM468.15 164.25H470.75V166.85H468.15zM468.15 166.75H470.75V169.35H468.15zM438.15 171.75H440.75V174.35H438.15zM455.65 171.75H460.75V174.35H455.65zM455.65 174.25H460.75V176.85H455.65zM468.15 174.25H473.25V176.85H468.15zM435.65 176.75H438.25V179.35H435.65zM453.15 176.75H458.25V179.35H453.15zM468.15 176.75H473.25V179.35H468.15zM435.65 179.25H438.25V181.85H435.65zM453.15 179.25H455.75V181.85H453.15zM468.15 179.25H470.75V181.85H468.15zM475.65 179.25H478.25V181.85H475.65zM435.65 181.75H438.25V184.35H435.65zM453.15 181.75H455.75V184.35H453.15zM475.65 181.75H478.25V184.35H475.65zM428.15 184.25H430.75V186.85H428.15zM453.15 184.25H455.75V186.85H453.15zM470.65 184.25H473.25V186.85H470.65zM425.65 186.75H430.75V189.35H425.65zM468.15 186.75H470.75V189.35H468.15zM475.65 186.75H478.25V189.35H475.65zM420.65 189.25H423.25V191.85H420.65zM425.65 189.25H430.75V191.85H425.65zM468.15 189.25H470.75V191.85H468.15zM475.65 189.25H478.25V191.85H475.65zM418.15 191.75H423.25V194.35H418.15zM425.65 191.75H430.75V194.35H425.65zM455.65 191.75H460.75V194.35H455.65zM468.15 191.75H470.75V194.35H468.15zM418.15 194.25H420.75V196.85H418.15zM425.65 194.25H428.25V196.85H425.65zM455.65 194.25H460.75V196.85H455.65zM468.15 194.25H470.75V196.85H468.15zM475.65 194.25H478.25V196.85H475.65zM428.15 196.75H430.75V199.35H428.15zM458.15 196.75H460.75V199.35H458.15zM475.65 196.75H478.25V199.35H475.65zM415.65 199.25H418.25V201.85H415.65zM433.15 199.25H435.75V201.85H433.15zM438.15 199.25H440.75V201.85H438.15zM413.15 201.75H415.75V204.35H413.15zM433.15 201.75H435.75V204.35H433.15zM458.15 201.75H460.75V204.35H458.15zM478.15 201.75H483.25V204.35H478.15zM420.65 204.25H425.75V206.85H420.65zM440.65 204.25H443.25V206.85H440.65zM458.15 204.25H460.75V206.85H458.15zM468.15 204.25H473.25V206.85H468.15zM480.65 204.25H483.25V206.85H480.65zM463.15 206.75H475.75V209.35H463.15zM488.15 206.75H490.75V209.35H488.15zM473.15 209.25H475.75V211.85H473.15zM480.65 211.75H485.75V214.35H480.65z"/>
<path fill="#1e5aff" d="M460.65 136.75H463.25V139.35H460.65zM460.65 141.75H463.25V144.35H460.65zM465.65 141.75H468.25V144.35H465.65zM460.65 144.25H463.25V146.85H460.65zM465.65 144.25H468.25V146.85H465.65zM460.65 146.75H463.25V149.35H460.65zM465.65 146.75H468.25V149.35H465.65zM453.15 149.25H455.75V151.85H453.15zM460.65 149.25H463.25V151.85H460.65zM458.15 151.75H463.25V154.35H458.15zM455.65 154.25H458.25V156.85H455.65zM460.65 154.25H463.25V156.85H460.65zM450.65 156.75H453.25V159.35H450.65zM443.15 159.25H445.75V161.85H443.15zM448.15 159.25H453.25V161.85H448.15zM443.15 161.75H445.75V164.35H443.15zM448.15 161.75H453.25V164.35H448.15zM468.15 161.75H470.75V164.35H468.15zM440.65 164.25H443.25V166.85H440.65zM440.65 166.75H443.25V169.35H440.65zM468.15 169.25H470.75V171.85H468.15zM468.15 171.75H470.75V174.35H468.15zM473.15 174.25H475.75V176.85H473.15zM458.15 176.75H460.75V179.35H458.15zM473.15 176.75H475.75V179.35H473.15zM428.15 179.25H430.75V181.85H428.15zM433.15 179.25H435.75V181.85H433.15zM455.65 179.25H460.75V181.85H455.65zM425.65 181.75H435.75V184.35H425.65zM455.65 181.75H460.75V184.35H455.65zM425.65 184.25H428.25V186.85H425.65zM430.65 184.25H435.75V186.85H430.65zM455.65 184.25H460.75V186.85H455.65zM478.15 184.25H480.75V186.85H478.15zM423.15 186.75H425.75V189.35H423.15zM430.65 186.75H433.25V189.35H430.65zM455.65 186.75H460.75V189.35H455.65zM423.15 189.25H425.75V191.85H423.15zM455.65 189.25H460.75V191.85H455.65zM475.65 191.75H478.25V194.35H475.65zM415.65 194.25H418.25V196.85H415.65zM413.15 196.75H415.75V199.35H413.15zM413.15 199.25H415.75V201.85H413.15zM425.65 199.25H433.25V201.85H425.65zM435.65 199.25H438.25V201.85H435.65zM478.15 199.25H485.75V201.85H478.15zM410.65 201.75H413.25V204.35H410.65zM415.65 201.75H418.25V204.35H415.65zM425.65 201.75H433.25V204.35H425.65zM435.65 201.75H438.25V204.35H435.65zM485.65 201.75H488.25V204.35H485.65zM410.65 204.25H415.75V206.85H410.65zM418.15 204.25H420.75V206.85H418.15zM438.15 204.25H440.75V206.85H438.15zM448.15 204.25H453.25V206.85H448.15zM485.65 204.25H488.25V206.85H485.65zM443.15 206.75H445.75V209.35H443.15zM453.15 206.75H458.25V209.35H453.15zM460.65 209.25H463.25V211.85H460.65zM465.65 209.25H468.25V211.85H465.65zM488.15 209.25H490.75V211.85H488.15zM475.65 211.75H480.75V214.35H475.65zM485.65 211.75H488.25V214.35H485.65z"/>
<path fill="#1d65ff" d="M460.65 129.25H463.25V131.85H460.65zM458.15 131.75H460.75V134.35H458.15zM458.15 136.75H460.75V139.35H458.15zM458.15 139.25H463.25V141.85H458.15zM465.65 139.25H468.25V141.85H465.65zM458.15 141.75H460.75V144.35H458.15zM453.15 144.25H455.75V146.85H453.15zM458.15 144.25H460.75V146.85H458.15zM453.15 146.75H458.25V149.35H453.15zM468.15 146.75H470.75V149.35H468.15zM450.65 149.25H453.25V151.85H450.65zM455.65 149.25H458.25V151.85H455.65zM468.15 149.25H470.75V151.85H468.15zM450.65 151.75H453.25V154.35H450.65zM455.65 151.75H458.25V154.35H455.65zM468.15 151.75H470.75V154.35H468.15zM448.15 154.25H450.75V156.85H448.15zM468.15 154.25H470.75V156.85H468.15zM445.65 156.75H450.75V159.35H445.65zM445.65 159.25H448.25V161.85H445.65zM438.15 166.75H440.75V169.35H438.15zM438.15 169.25H440.75V171.85H438.15zM470.65 169.25H473.25V171.85H470.65zM435.65 171.75H438.25V174.35H435.65zM470.65 171.75H473.25V174.35H470.65zM435.65 174.25H438.25V176.85H435.65zM475.65 174.25H478.25V176.85H475.65zM475.65 176.75H478.25V179.35H475.65zM425.65 179.25H428.25V181.85H425.65zM478.15 179.25H483.25V181.85H478.15zM480.65 184.25H483.25V186.85H480.65zM478.15 186.75H480.75V189.35H478.15zM418.15 189.25H420.75V191.85H418.15zM478.15 191.75H480.75V194.35H478.15zM478.15 194.25H480.75V196.85H478.15zM415.65 196.75H418.25V199.35H415.65zM478.15 196.75H485.75V199.35H478.15zM488.15 201.75H493.25V204.35H488.15zM408.15 204.25H410.75V206.85H408.15zM415.65 204.25H418.25V206.85H415.65zM425.65 204.25H428.25V206.85H425.65zM430.65 204.25H435.75V206.85H430.65zM488.15 204.25H490.75V206.85H488.15zM420.65 206.75H425.75V209.35H420.65zM440.65 206.75H443.25V209.35H440.65zM445.65 206.75H448.25V209.35H445.65zM458.15 206.75H460.75V209.35H458.15zM440.65 209.25H445.75V211.85H440.65zM453.15 209.25H455.75V211.85H453.15zM458.15 209.25H460.75V211.85H458.15zM463.15 209.25H465.75V211.85H463.15zM468.15 209.25H473.25V211.85H468.15zM473.15 211.75H475.75V214.35H473.15zM488.15 211.75H490.75V214.35H488.15zM480.65 214.25H485.75V216.85H480.65z"/>
<path fill="#1c70ff" d="M460.65 124.25H463.25V126.85H460.65zM460.65 126.75H463.25V129.35H460.65zM458.15 129.25H460.75V131.85H458.15zM455.65 131.75H458.25V134.35H455.65zM463.15 131.75H468.25V134.35H463.15zM458.15 134.25H460.75V136.85H458.15zM463.15 134.25H468.25V136.85H463.15zM453.15 136.75H455.75V139.35H453.15zM463.15 136.75H468.25V139.35H463.15zM463.15 139.25H465.75V141.85H463.15zM455.65 141.75H458.25V144.35H455.65zM468.15 141.75H470.75V144.35H468.15zM468.15 144.25H470.75V146.85H468.15zM458.15 146.75H460.75V149.35H458.15zM458.15 149.25H460.75V151.85H458.15zM470.65 149.25H473.25V151.85H470.65zM470.65 151.75H473.25V154.35H470.65zM470.65 154.25H473.25V156.85H470.65zM470.65 156.75H473.25V159.35H470.65zM440.65 159.25H443.25V161.85H440.65zM440.65 161.75H443.25V164.35H440.65zM470.65 164.25H473.25V166.85H470.65zM433.15 166.75H435.75V169.35H433.15zM470.65 166.75H473.25V169.35H470.65zM433.15 169.25H435.75V171.85H433.15zM473.15 169.25H478.25V171.85H473.15zM473.15 171.75H478.25V174.35H473.15zM428.15 174.25H430.75V176.85H428.15zM433.15 174.25H435.75V176.85H433.15zM478.15 174.25H480.75V176.85H478.15zM425.65 176.75H435.75V179.35H425.65zM478.15 176.75H480.75V179.35H478.15zM423.15 179.25H425.75V181.85H423.15zM430.65 179.25H433.25V181.85H430.65zM420.65 181.75H425.75V184.35H420.65zM478.15 181.75H483.25V184.35H478.15zM420.65 184.25H425.75V186.85H420.65zM418.15 186.75H423.25V189.35H418.15zM480.65 186.75H483.25V189.35H480.65zM478.15 189.25H480.75V191.85H478.15zM415.65 191.75H418.25V194.35H415.65zM480.65 191.75H483.25V194.35H480.65zM485.65 191.75H488.25V194.35H485.65zM410.65 194.25H415.75V196.85H410.65zM480.65 194.25H483.25V196.85H480.65zM485.65 194.25H488.25V196.85H485.65zM408.15 196.75H413.25V199.35H408.15zM485.65 196.75H490.75V199.35H485.65zM408.15 199.25H413.25V201.85H408.15zM485.65 199.25H490.75V201.85H485.65zM408.15 201.75H410.75V204.35H408.15zM428.15 204.25H430.75V206.85H428.15zM435.65 204.25H438.25V206.85H435.65zM490.65 204.25H493.25V206.85H490.65zM410.65 206.75H415.75V209.35H410.65zM418.15 206.75H420.75V209.35H418.15zM433.15 206.75H435.75V209.35H433.15zM438.15 206.75H440.75V209.35H438.15zM448.15 206.75H453.25V209.35H448.15zM490.65 206.75H495.75V209.35H490.65zM413.15 209.25H415.75V211.85H413.15zM420.65 209.25H425.75V211.85H420.65zM445.65 209.25H448.25V211.85H445.65zM455.65 209.25H458.25V211.85H455.65zM465.65 211.75H468.25V214.35H465.65zM475.65 214.25H480.75V216.85H475.65zM485.65 214.25H488.25V216.85H485.65zM478.15 216.75H485.75V219.35H478.15z"/>
<path fill="#1b7bff" d="M463.15 124.25H465.75V126.85H463.15zM463.15 126.75H465.75V129.35H463.15zM463.15 129.25H465.75V131.85H463.15zM455.65 134.25H458.25V136.85H455.65zM455.65 136.75H458.25V139.35H455.65zM453.15 139.25H455.75V141.85H453.15zM450.65 141.75H455.75V144.35H450.65zM450.65 144.25H453.25V146.85H450.65zM455.65 144.25H458.25V146.85H455.65zM450.65 146.75H453.25V149.35H450.65zM448.15 149.25H450.75V151.85H448.15zM448.15 151.75H450.75V154.35H448.15zM440.65 156.75H445.75V159.35H440.65zM473.15 156.75H475.75V159.35H473.15zM470.65 159.25H473.25V161.85H470.65zM470.65 161.75H473.25V164.35H470.65zM438.15 164.25H440.75V166.85H438.15zM473.15 164.25H478.25V166.85H473.15zM435.65 166.75H438.25V169.35H435.65zM473.15 166.75H478.25V169.35H473.15zM435.65 169.25H438.25V171.85H435.65zM430.65 171.75H435.75V174.35H430.65zM430.65 174.25H433.25V176.85H430.65zM483.15 184.25H485.75V186.85H483.15zM483.15 186.75H485.75V189.35H483.15zM415.65 189.25H418.25V191.85H415.65zM480.65 189.25H483.25V191.85H480.65zM413.15 191.75H415.75V194.35H413.15zM483.15 191.75H485.75V194.35H483.15zM483.15 194.25H485.75V196.85H483.15zM405.65 201.75H408.25V204.35H405.65zM403.15 204.25H408.25V206.85H403.15zM408.15 206.75H410.75V209.35H408.15zM415.65 206.75H418.25V209.35H415.65zM425.65 206.75H433.25V209.35H425.65zM410.65 209.25H413.25V211.85H410.65zM415.65 209.25H420.75V211.85H415.65zM425.65 209.25H435.75V211.85H425.65zM438.15 209.25H440.75V211.85H438.15zM448.15 209.25H453.25V211.85H448.15zM490.65 209.25H493.25V211.85H490.65zM455.65 211.75H465.75V214.35H455.65zM470.65 211.75H473.25V214.35H470.65zM490.65 211.75H493.25V214.35H490.65zM455.65 214.25H458.25V216.85H455.65zM465.65 214.25H468.25V216.85H465.65zM473.15 214.25H475.75V216.85H473.15zM473.15 216.75H478.25V219.35H473.15zM485.65 216.75H488.25V219.35H485.65z"/>
<path fill="#1a87ff" d="M455.65 139.25H458.25V141.85H455.65zM448.15 144.25H450.75V146.85H448.15zM448.15 146.75H450.75V149.35H448.15zM445.65 149.25H448.25V151.85H445.65zM445.65 151.75H448.25V154.35H445.65zM443.15 154.25H448.25V156.85H443.15zM438.15 159.25H440.75V161.85H438.15zM473.15 159.25H475.75V161.85H473.15zM438.15 161.75H440.75V164.35H438.15zM473.15 161.75H475.75V164.35H473.15zM435.65 164.25H438.25V166.85H435.65zM483.15 189.25H485.75V191.85H483.15zM403.15 206.75H408.25V209.35H403.15zM435.65 206.75H438.25V209.35H435.65zM403.15 209.25H410.75V211.85H403.15zM493.15 209.25H495.75V211.85H493.15zM468.15 211.75H470.75V214.35H468.15zM495.65 211.75H498.25V214.35H495.65zM458.15 214.25H465.75V216.85H458.15zM468.15 214.25H473.25V216.85H468.15zM488.15 214.25H493.25V216.85H488.15zM493.15 224.25H498.25V226.85H493.15z"/>
<path fill="#1892ff" d="M435.65 209.25H438.25V211.85H435.65zM493.15 211.75H495.75V214.35H493.15zM488.15 216.75H490.75V219.35H488.15zM490.65 221.75H493.25V224.35H490.65z"/>
<path fill="#179dff" d="M495.65 214.25H498.25V216.85H495.65zM493.15 221.75H498.25V224.35H493.15z"/>
<path fill="#15a9ff" d="M490.65 216.75H493.25V219.35H490.65zM490.65 219.25H493.25V221.85H490.65zM495.65 219.25H498.25V221.85H495.65z"/>
<path fill="#14b4ff" d="M493.15 214.25H495.75V216.85H493.15zM495.65 216.75H498.25V219.35H495.65z"/>
<path fill="#0ec1ff" d="M493.15 216.75H495.75V219.35H493.15zM493.15 219.25H495.75V221.85H493.15z"/>
</g></g>
<rect x="403.4" y="236.3" width="97.8" height="102.5" fill="#000"/>
<clipPath id="hfc"><path d="M460.9 236.3H468.4V237.57H460.9zM460.9 237.55H468.4V238.82H460.9zM460.9 238.8H468.4V240.07H460.9zM458.4 240.05H468.4V241.32H458.4zM458.4 241.3H470.9V242.57H458.4zM458.4 242.55H470.9V243.82H458.4zM458.4 243.8H470.9V245.07H458.4zM455.9 245.05H470.9V246.32H455.9zM455.9 246.3H470.9V247.57H455.9zM455.9 247.55H470.9V248.82H455.9zM455.9 248.8H470.9V250.07H455.9zM453.4 250.05H470.9V251.32H453.4zM453.4 251.3H470.9V252.57H453.4zM453.4 252.55H473.4V253.82H453.4zM453.4 253.8H473.4V255.07H453.4zM453.4 255.05H473.4V256.32H453.4zM450.9 256.3H473.4V257.57H450.9zM450.9 257.55H473.4V258.82H450.9zM450.9 258.8H473.4V260.07H450.9zM448.4 260.05H473.4V261.32H448.4zM448.4 261.3H473.4V262.57H448.4zM448.4 262.55H473.4V263.82H448.4zM445.9 263.8H475.9V265.07H445.9zM445.9 265.05H475.9V266.32H445.9zM445.9 266.3H475.9V267.57H445.9zM443.4 267.55H475.9V268.82H443.4zM443.4 268.8H475.9V270.07H443.4zM443.4 270.05H475.9V271.32H443.4zM440.9 271.3H478.4V272.57H440.9zM440.9 272.55H478.4V273.82H440.9zM440.9 273.8H478.4V275.07H440.9zM440.9 275.05H478.4V276.32H440.9zM438.4 276.3H478.4V277.57H438.4zM438.4 277.55H478.4V278.82H438.4zM438.4 278.8H478.4V280.07H438.4zM435.9 280.05H480.9V281.32H435.9zM435.9 281.3H480.9V282.57H435.9zM435.9 282.55H480.9V283.82H435.9zM433.4 283.8H480.9V285.07H433.4zM433.4 285.05H480.9V286.32H433.4zM433.4 286.3H480.9V287.57H433.4zM430.9 287.55H483.4V288.82H430.9zM430.9 288.8H483.4V290.07H430.9zM430.9 290.05H483.4V291.32H430.9zM428.4 291.3H483.4V292.57H428.4zM428.4 292.55H483.4V293.82H428.4zM425.9 293.8H483.4V295.07H425.9zM425.9 295.05H483.4V296.32H425.9zM423.4 296.3H485.9V297.57H423.4zM423.4 297.55H485.9V298.82H423.4zM420.9 298.8H485.9V300.07H420.9zM420.9 300.05H485.9V301.32H420.9zM418.4 301.3H488.4V302.57H418.4zM418.4 302.55H488.4V303.82H418.4zM415.9 303.8H488.4V305.07H415.9zM415.9 305.05H488.4V306.32H415.9zM413.4 306.3H488.4V307.57H413.4zM413.4 307.55H490.9V308.82H413.4zM410.9 308.8H490.9V310.07H410.9zM410.9 310.05H490.9V311.32H410.9zM410.9 311.3H490.9V312.57H410.9zM408.4 312.55H493.4V313.82H408.4zM408.4 313.8H493.4V315.07H408.4zM405.9 315.05H493.4V316.32H405.9zM405.9 316.3H493.4V317.57H405.9zM403.4 317.55H495.9V318.82H403.4zM403.4 318.8H495.9V320.07H403.4zM403.4 320.05H495.9V321.32H403.4zM403.4 321.3H495.9V322.57H403.4zM403.4 322.55H495.9V323.82H403.4zM403.4 323.8H498.4V325.07H403.4zM455.9 325.05H498.4V326.32H455.9zM455.9 326.3H498.4V327.57H455.9zM455.9 327.55H498.4V328.82H455.9zM455.9 328.8H500.9V330.07H455.9zM475.9 330.05H500.9V331.32H475.9zM475.9 331.3H500.9V332.57H475.9zM475.9 332.55H500.9V333.82H475.9zM475.9 333.8H500.9V335.07H475.9zM490.9 335.05H500.9V336.32H490.9zM490.9 336.3H500.9V337.57H490.9zM490.9 337.55H500.9V338.82H490.9z"/></clipPath>
<filter id="hfb" x="-10%" y="-10%" width="120%" height="120%"><feGaussianBlur stdDeviation="1.0" color-interpolation-filters="sRGB"/></filter>
<g clip-path="url(#hfc)"><g filter="url(#hfb)">
<path fill="#0088ff" d="M465.85 228.75H468.45V231.35H465.85zM465.85 231.25H470.95V233.85H465.85zM465.85 233.75H473.45V236.35H465.85zM468.35 236.25H475.95V238.85H468.35zM468.35 238.75H475.95V241.35H468.35zM470.85 241.25H478.45V243.85H470.85zM470.85 243.75H478.45V246.35H470.85zM470.85 246.25H478.45V248.85H470.85zM470.85 248.75H478.45V251.35H470.85zM473.35 251.25H480.95V253.85H473.35zM473.35 253.75H480.95V256.35H473.35zM473.35 256.25H480.95V258.85H473.35zM473.35 258.75H480.95V261.35H473.35zM473.35 261.25H480.95V263.85H473.35zM475.85 263.75H483.45V266.35H475.85zM475.85 266.25H483.45V268.85H475.85zM475.85 268.75H483.45V271.35H475.85zM478.35 271.25H485.95V273.85H478.35zM478.35 273.75H485.95V276.35H478.35zM478.35 276.25H485.95V278.85H478.35zM480.85 278.75H488.45V281.35H480.85zM480.85 281.25H488.45V283.85H480.85zM480.85 283.75H488.45V286.35H480.85zM480.85 286.25H488.45V288.85H480.85zM483.35 288.75H490.95V291.35H483.35zM483.35 291.25H490.95V293.85H483.35zM483.35 293.75H490.95V296.35H483.35zM485.85 296.25H493.45V298.85H485.85zM485.85 298.75H493.45V301.35H485.85zM488.35 301.25H495.95V303.85H488.35zM488.35 303.75H495.95V306.35H488.35zM490.85 306.25H498.45V308.85H490.85zM490.85 308.75H498.45V311.35H490.85zM490.85 311.25H498.45V313.85H490.85zM493.35 313.75H500.95V316.35H493.35zM493.35 316.25H500.95V318.85H493.35zM495.85 318.75H503.45V321.35H495.85zM495.85 321.25H503.45V323.85H495.85zM498.35 323.75H505.95V326.35H498.35zM498.35 326.25H505.95V328.85H498.35z"/>
<path fill="#00fec1" d="M465.85 236.25H468.45V238.85H465.85zM465.85 238.75H468.45V241.35H465.85zM468.35 241.25H470.95V243.85H468.35zM468.35 243.75H470.95V246.35H468.35zM468.35 246.25H470.95V248.85H468.35zM468.35 248.75H470.95V251.35H468.35zM470.85 251.25H473.45V253.85H470.85zM470.85 253.75H473.45V256.35H470.85zM470.85 256.25H473.45V258.85H470.85zM470.85 258.75H473.45V261.35H470.85zM470.85 261.25H473.45V263.85H470.85zM473.35 263.75H475.95V266.35H473.35zM473.35 266.25H475.95V268.85H473.35zM473.35 268.75H475.95V271.35H473.35zM475.85 271.25H478.45V273.85H475.85zM475.85 273.75H478.45V276.35H475.85zM475.85 276.25H478.45V278.85H475.85zM478.35 278.75H480.95V281.35H478.35zM478.35 281.25H480.95V283.85H478.35zM478.35 283.75H480.95V286.35H478.35zM478.35 286.25H480.95V288.85H478.35zM480.85 288.75H483.45V291.35H480.85zM480.85 291.25H483.45V293.85H480.85zM480.85 293.75H483.45V296.35H480.85zM483.35 296.25H485.95V298.85H483.35zM483.35 298.75H485.95V301.35H483.35zM485.85 301.25H488.45V303.85H485.85zM485.85 303.75H488.45V306.35H485.85zM488.35 306.25H490.95V308.85H488.35zM488.35 308.75H490.95V311.35H488.35zM488.35 311.25H490.95V313.85H488.35zM490.85 313.75H493.45V316.35H490.85zM490.85 316.25H493.45V318.85H490.85zM493.35 318.75H495.95V321.35H493.35zM493.35 321.25H495.95V323.85H493.35z"/>
<path fill="#0fff36" d="M460.85 228.75H465.95V231.35H460.85zM458.35 231.25H465.95V233.85H458.35zM455.85 233.75H465.95V236.35H455.85zM453.35 236.25H460.95V238.85H453.35zM453.35 238.75H460.95V241.35H453.35zM450.85 241.25H458.45V243.85H450.85zM450.85 243.75H458.45V246.35H450.85zM448.35 246.25H455.95V248.85H448.35zM448.35 248.75H455.95V251.35H448.35zM445.85 251.25H453.45V253.85H445.85zM445.85 253.75H453.45V256.35H445.85zM443.35 256.25H450.95V258.85H443.35zM443.35 258.75H450.95V261.35H443.35zM440.85 261.25H448.45V263.85H440.85zM438.35 263.75H445.95V266.35H438.35zM438.35 266.25H445.95V268.85H438.35zM435.85 268.75H443.45V271.35H435.85zM433.35 271.25H443.45V273.85H433.35zM433.35 273.75H443.45V276.35H433.35zM430.85 276.25H438.45V278.85H430.85zM428.35 278.75H435.95V281.35H428.35zM428.35 281.25H435.95V283.85H428.35zM425.85 283.75H433.45V286.35H425.85zM423.35 286.25H430.95V288.85H423.35zM423.35 288.75H430.95V291.35H423.35zM420.85 291.25H428.45V293.85H420.85zM418.35 293.75H425.95V296.35H418.35zM415.85 296.25H423.45V298.85H415.85zM413.35 298.75H420.95V301.35H413.35zM410.85 301.25H418.45V303.85H410.85zM408.35 303.75H415.95V306.35H408.35zM423.35 303.75H425.95V306.35H423.35zM405.85 306.25H413.45V308.85H405.85zM403.35 308.75H410.95V311.35H403.35zM400.85 311.25H408.45V313.85H400.85zM398.35 313.75H408.45V316.35H398.35zM395.85 316.25H403.45V318.85H395.85zM395.85 318.75H403.45V321.35H395.85zM423.35 318.75H425.95V321.35H423.35zM395.85 321.25H403.45V323.85H395.85zM423.35 321.25H425.95V323.85H423.35zM395.85 323.75H403.45V326.35H395.85zM398.35 326.25H428.45V328.85H398.35zM400.85 328.75H428.45V331.35H400.85zM500.85 328.75H508.45V331.35H500.85zM403.35 331.25H428.45V333.85H403.35zM500.85 331.25H508.45V333.85H500.85zM475.85 333.75H490.95V336.35H475.85zM500.85 333.75H508.45V336.35H500.85zM475.85 336.25H490.95V338.85H475.85zM500.85 336.25H508.45V338.85H500.85zM475.85 338.75H505.95V341.35H475.85zM488.35 341.25H503.45V343.85H488.35zM490.85 343.75H500.95V346.35H490.85z"/>
<path fill="#15ff2a" d="M460.85 236.25H463.45V238.85H460.85zM460.85 238.75H463.45V241.35H460.85zM440.85 276.25H443.45V278.85H440.85zM440.85 278.75H443.45V281.35H440.85zM440.85 281.25H443.45V283.85H440.85zM480.85 296.25H483.45V298.85H480.85zM480.85 298.75H483.45V301.35H480.85zM408.35 311.25H410.95V313.85H408.35zM405.85 316.25H408.45V318.85H405.85zM420.85 321.25H423.45V323.85H420.85zM488.35 321.25H490.95V323.85H488.35zM480.85 326.25H483.45V328.85H480.85z"/>
<path fill="#1aff1e" d="M460.85 241.25H463.45V243.85H460.85zM450.85 256.25H453.45V258.85H450.85zM465.85 261.25H468.45V263.85H465.85zM443.35 268.75H445.95V271.35H443.35zM443.35 271.25H445.95V273.85H443.35zM443.35 273.75H445.95V276.35H443.35zM438.35 276.25H440.95V278.85H438.35zM443.35 276.25H445.95V278.85H443.35zM443.35 278.75H445.95V281.35H443.35zM428.35 293.75H430.95V296.35H428.35zM430.85 296.25H433.45V298.85H430.85zM478.35 296.25H480.95V298.85H478.35zM478.35 298.75H480.95V301.35H478.35zM423.35 301.25H425.95V303.85H423.35zM480.85 301.25H485.95V303.85H480.85zM423.35 306.25H425.95V308.85H423.35zM423.35 308.75H425.95V311.35H423.35zM423.35 311.25H425.95V313.85H423.35zM463.35 311.25H465.95V313.85H463.35zM408.35 313.75H410.95V316.35H408.35zM463.35 313.75H465.95V316.35H463.35zM408.35 316.25H410.95V318.85H408.35zM463.35 316.25H465.95V318.85H463.35zM405.85 318.75H410.95V321.35H405.85zM420.85 318.75H423.45V321.35H420.85zM425.85 318.75H428.45V321.35H425.85zM488.35 318.75H490.95V321.35H488.35zM405.85 321.25H408.45V323.85H405.85zM425.85 321.25H428.45V323.85H425.85zM463.35 321.25H468.45V323.85H463.35zM478.35 323.75H480.95V326.35H478.35zM478.35 326.25H480.95V328.85H478.35zM478.35 328.75H480.95V331.35H478.35z"/>
<path fill="#20ff13" d="M460.85 243.75H463.45V246.35H460.85zM465.85 258.75H468.45V261.35H465.85zM463.35 261.25H465.95V263.85H463.35zM463.35 263.75H465.95V266.35H463.35zM445.85 273.75H448.45V276.35H445.85zM438.35 278.75H440.95V281.35H438.35zM475.85 278.75H478.45V281.35H475.85zM428.35 291.25H430.95V293.85H428.35zM478.35 291.25H480.95V293.85H478.35zM430.85 293.75H433.45V296.35H430.85zM478.35 293.75H480.95V296.35H478.35zM428.35 296.25H430.95V298.85H428.35zM423.35 298.75H430.95V301.35H423.35zM418.35 301.25H423.45V303.85H418.35zM425.85 301.25H428.45V303.85H425.85zM420.85 303.75H423.45V306.35H420.85zM480.85 303.75H485.95V306.35H480.85zM483.35 306.25H485.95V308.85H483.35zM410.85 308.75H413.45V311.35H410.85zM475.85 308.75H478.45V311.35H475.85zM410.85 311.25H413.45V313.85H410.85zM475.85 311.25H478.45V313.85H475.85zM410.85 313.75H413.45V316.35H410.85zM423.35 313.75H425.95V316.35H423.35zM423.35 316.25H425.95V318.85H423.35zM488.35 316.25H490.95V318.85H488.35zM418.35 318.75H420.95V321.35H418.35zM428.35 318.75H430.95V321.35H428.35zM433.35 318.75H435.95V321.35H433.35zM463.35 318.75H465.95V321.35H463.35zM490.85 318.75H493.45V321.35H490.85zM408.35 321.25H410.95V323.85H408.35zM428.35 321.25H430.95V323.85H428.35zM433.35 321.25H435.95V323.85H433.35zM468.35 321.25H470.95V323.85H468.35zM473.35 321.25H475.95V323.85H473.35zM490.85 321.25H493.45V323.85H490.85zM475.85 323.75H478.45V326.35H475.85zM480.85 323.75H483.45V326.35H480.85zM483.35 326.25H485.95V328.85H483.35zM488.35 326.25H490.95V328.85H488.35zM480.85 328.75H483.45V331.35H480.85z"/>
<path fill="#2dff10" d="M463.35 236.25H465.95V238.85H463.35zM463.35 238.75H465.95V241.35H463.35zM460.85 246.25H463.45V248.85H460.85zM460.85 248.75H463.45V251.35H460.85zM453.35 251.25H455.95V253.85H453.35zM458.35 253.75H460.95V256.35H458.35zM465.85 253.75H468.45V256.35H465.85zM460.85 256.25H468.45V258.85H460.85zM450.85 258.75H453.45V261.35H450.85zM460.85 258.75H465.95V261.35H460.85zM460.85 261.25H463.45V263.85H460.85zM465.85 263.75H468.45V266.35H465.85zM463.35 266.25H468.45V268.85H463.35zM463.35 268.75H468.45V271.35H463.35zM445.85 271.25H448.45V273.85H445.85zM473.35 271.25H475.95V273.85H473.35zM473.35 273.75H475.95V276.35H473.35zM438.35 281.25H440.95V283.85H438.35zM475.85 281.25H478.45V283.85H475.85zM438.35 283.75H443.45V286.35H438.35zM475.85 283.75H478.45V286.35H475.85zM440.85 286.25H443.45V288.85H440.85zM470.85 288.75H473.45V291.35H470.85zM478.35 288.75H480.95V291.35H478.35zM430.85 291.25H433.45V293.85H430.85zM470.85 291.25H473.45V293.85H470.85zM425.85 296.25H428.45V298.85H425.85zM420.85 298.75H423.45V301.35H420.85zM430.85 298.75H433.45V301.35H430.85zM478.35 301.25H480.95V303.85H478.35zM415.85 303.75H420.95V306.35H415.85zM425.85 303.75H428.45V306.35H425.85zM435.85 303.75H440.95V306.35H435.85zM475.85 303.75H480.95V306.35H475.85zM420.85 306.25H423.45V308.85H420.85zM425.85 306.25H428.45V308.85H425.85zM438.35 306.25H440.95V308.85H438.35zM475.85 306.25H480.95V308.85H475.85zM425.85 308.75H428.45V311.35H425.85zM463.35 308.75H465.95V311.35H463.35zM478.35 308.75H480.95V311.35H478.35zM483.35 308.75H485.95V311.35H483.35zM478.35 311.25H480.95V313.85H478.35zM483.35 311.25H485.95V313.85H483.35zM465.85 313.75H468.45V316.35H465.85zM475.85 313.75H480.95V316.35H475.85zM403.35 316.25H405.95V318.85H403.35zM410.85 316.25H413.45V318.85H410.85zM465.85 316.25H468.45V318.85H465.85zM473.35 316.25H480.95V318.85H473.35zM485.85 316.25H488.45V318.85H485.85zM410.85 318.75H413.45V321.35H410.85zM430.85 318.75H433.45V321.35H430.85zM435.85 318.75H438.45V321.35H435.85zM465.85 318.75H468.45V321.35H465.85zM473.35 318.75H485.95V321.35H473.35zM410.85 321.25H413.45V323.85H410.85zM418.35 321.25H420.95V323.85H418.35zM460.85 321.25H463.45V323.85H460.85zM470.85 321.25H473.45V323.85H470.85zM478.35 321.25H488.45V323.85H478.35zM483.35 323.75H485.95V326.35H483.35zM488.35 323.75H493.45V326.35H488.35zM495.85 323.75H498.45V326.35H495.85zM475.85 326.25H478.45V328.85H475.85zM485.85 326.25H488.45V328.85H485.85zM498.35 328.75H500.95V331.35H498.35z"/>
<path fill="#39ff0d" d="M458.35 241.25H460.95V243.85H458.35zM463.35 241.25H465.95V243.85H463.35zM463.35 243.75H465.95V246.35H463.35zM463.35 246.25H465.95V248.85H463.35zM458.35 248.75H460.95V251.35H458.35zM463.35 248.75H468.45V251.35H463.35zM458.35 251.25H463.45V253.85H458.35zM465.85 251.25H468.45V253.85H465.85zM453.35 253.75H455.95V256.35H453.35zM460.85 253.75H465.95V256.35H460.85zM448.35 261.25H453.45V263.85H448.35zM460.85 263.75H463.45V266.35H460.85zM468.35 263.75H473.45V266.35H468.35zM445.85 266.25H448.45V268.85H445.85zM468.35 266.25H473.45V268.85H468.35zM445.85 268.75H448.45V271.35H445.85zM468.35 268.75H473.45V271.35H468.35zM465.85 271.25H468.45V273.85H465.85zM470.85 271.25H473.45V273.85H470.85zM470.85 273.75H473.45V276.35H470.85zM445.85 276.25H448.45V278.85H445.85zM470.85 276.25H475.95V278.85H470.85zM435.85 278.75H438.45V281.35H435.85zM445.85 278.75H448.45V281.35H445.85zM473.35 278.75H475.95V281.35H473.35zM443.35 281.25H448.45V283.85H443.35zM433.35 283.75H435.95V286.35H433.35zM443.35 283.75H445.95V286.35H443.35zM470.85 283.75H473.45V286.35H470.85zM430.85 286.25H433.45V288.85H430.85zM438.35 286.25H440.95V288.85H438.35zM468.35 286.25H473.45V288.85H468.35zM475.85 286.25H478.45V288.85H475.85zM430.85 288.75H433.45V291.35H430.85zM440.85 288.75H443.45V291.35H440.85zM450.85 288.75H453.45V291.35H450.85zM468.35 288.75H470.95V291.35H468.35zM475.85 288.75H478.45V291.35H475.85zM450.85 291.25H453.45V293.85H450.85zM468.35 291.25H470.95V293.85H468.35zM475.85 291.25H478.45V293.85H475.85zM425.85 293.75H428.45V296.35H425.85zM450.85 293.75H453.45V296.35H450.85zM468.35 293.75H473.45V296.35H468.35zM475.85 293.75H478.45V296.35H475.85zM423.35 296.25H425.95V298.85H423.35zM450.85 296.25H453.45V298.85H450.85zM458.35 296.25H460.95V298.85H458.35zM435.85 298.75H438.45V301.35H435.85zM450.85 298.75H453.45V301.35H450.85zM458.35 298.75H463.45V301.35H458.35zM430.85 301.25H440.95V303.85H430.85zM450.85 301.25H453.45V303.85H450.85zM458.35 301.25H463.45V303.85H458.35zM475.85 301.25H478.45V303.85H475.85zM430.85 303.75H435.95V306.35H430.85zM460.85 303.75H463.45V306.35H460.85zM415.85 306.25H420.95V308.85H415.85zM435.85 306.25H438.45V308.85H435.85zM460.85 306.25H465.95V308.85H460.85zM485.85 306.25H488.45V308.85H485.85zM415.85 308.75H420.95V311.35H415.85zM435.85 308.75H440.95V311.35H435.85zM460.85 308.75H463.45V311.35H460.85zM485.85 308.75H488.45V311.35H485.85zM415.85 311.25H418.45V313.85H415.85zM425.85 311.25H428.45V313.85H425.85zM430.85 311.25H433.45V313.85H430.85zM460.85 311.25H463.45V313.85H460.85zM465.85 311.25H468.45V313.85H465.85zM485.85 311.25H488.45V313.85H485.85zM425.85 313.75H428.45V316.35H425.85zM430.85 313.75H435.95V316.35H430.85zM460.85 313.75H463.45V316.35H460.85zM473.35 313.75H475.95V316.35H473.35zM485.85 313.75H490.95V316.35H485.85zM420.85 316.25H423.45V318.85H420.85zM425.85 316.25H428.45V318.85H425.85zM430.85 316.25H435.95V318.85H430.85zM460.85 316.25H463.45V318.85H460.85zM480.85 316.25H485.95V318.85H480.85zM403.35 318.75H405.95V321.35H403.35zM438.35 318.75H440.95V321.35H438.35zM443.35 318.75H445.95V321.35H443.35zM450.85 318.75H453.45V321.35H450.85zM460.85 318.75H463.45V321.35H460.85zM485.85 318.75H488.45V321.35H485.85zM403.35 321.25H405.95V323.85H403.35zM430.85 321.25H433.45V323.85H430.85zM458.35 321.25H460.95V323.85H458.35zM475.85 321.25H478.45V323.85H475.85zM485.85 323.75H488.45V326.35H485.85zM493.35 323.75H495.95V326.35H493.35zM490.85 326.25H498.45V328.85H490.85zM475.85 328.75H478.45V331.35H475.85zM483.35 328.75H485.95V331.35H483.35zM488.35 328.75H490.95V331.35H488.35zM498.35 331.25H500.95V333.85H498.35z"/>
<path fill="#46ff0a" d="M458.35 243.75H460.95V246.35H458.35zM455.85 246.25H460.95V248.85H455.85zM465.85 246.25H468.45V248.85H465.85zM455.85 248.75H458.45V251.35H455.85zM455.85 251.25H458.45V253.85H455.85zM463.35 251.25H465.95V253.85H463.35zM468.35 251.25H470.95V253.85H468.35zM468.35 253.75H470.95V256.35H468.35zM453.35 256.25H455.95V258.85H453.35zM458.35 256.25H460.95V258.85H458.35zM468.35 256.25H470.95V258.85H468.35zM458.35 258.75H460.95V261.35H458.35zM468.35 258.75H470.95V261.35H468.35zM458.35 261.25H460.95V263.85H458.35zM468.35 261.25H470.95V263.85H468.35zM445.85 263.75H453.45V266.35H445.85zM458.35 263.75H460.95V266.35H458.35zM448.35 266.25H450.95V268.85H448.35zM460.85 266.25H463.45V268.85H460.85zM448.35 268.75H450.95V271.35H448.35zM448.35 271.25H450.95V273.85H448.35zM463.35 271.25H465.95V273.85H463.35zM465.85 273.75H468.45V276.35H465.85zM435.85 281.25H438.45V283.85H435.85zM468.35 281.25H475.95V283.85H468.35zM445.85 283.75H448.45V286.35H445.85zM468.35 283.75H470.95V286.35H468.35zM473.35 283.75H475.95V286.35H473.35zM433.35 286.25H435.95V288.85H433.35zM443.35 286.25H445.95V288.85H443.35zM450.85 286.25H453.45V288.85H450.85zM473.35 286.25H475.95V288.85H473.35zM448.35 288.75H450.95V291.35H448.35zM440.85 291.25H443.45V293.85H440.85zM448.35 291.25H450.95V293.85H448.35zM453.35 291.25H455.95V293.85H453.35zM433.35 293.75H435.95V296.35H433.35zM453.35 293.75H455.95V296.35H453.35zM458.35 293.75H460.95V296.35H458.35zM465.85 293.75H468.45V296.35H465.85zM473.35 293.75H475.95V296.35H473.35zM453.35 296.25H458.45V298.85H453.35zM460.85 296.25H463.45V298.85H460.85zM465.85 296.25H478.45V298.85H465.85zM433.35 298.75H435.95V301.35H433.35zM438.35 298.75H440.95V301.35H438.35zM453.35 298.75H458.45V301.35H453.35zM465.85 298.75H468.45V301.35H465.85zM473.35 298.75H478.45V301.35H473.35zM428.35 301.25H430.95V303.85H428.35zM455.85 301.25H458.45V303.85H455.85zM463.35 301.25H465.95V303.85H463.35zM473.35 301.25H475.95V303.85H473.35zM450.85 303.75H453.45V306.35H450.85zM458.35 303.75H460.95V306.35H458.35zM463.35 303.75H465.95V306.35H463.35zM413.35 306.25H415.95V308.85H413.35zM430.85 306.25H435.95V308.85H430.85zM450.85 306.25H453.45V308.85H450.85zM480.85 306.25H483.45V308.85H480.85zM413.35 308.75H415.95V311.35H413.35zM420.85 308.75H423.45V311.35H420.85zM430.85 308.75H435.95V311.35H430.85zM450.85 308.75H453.45V311.35H450.85zM465.85 308.75H468.45V311.35H465.85zM473.35 308.75H475.95V311.35H473.35zM480.85 308.75H483.45V311.35H480.85zM413.35 311.25H415.95V313.85H413.35zM420.85 311.25H423.45V313.85H420.85zM433.35 311.25H438.45V313.85H433.35zM473.35 311.25H475.95V313.85H473.35zM480.85 311.25H483.45V313.85H480.85zM418.35 313.75H423.45V316.35H418.35zM480.85 313.75H485.95V316.35H480.85zM418.35 316.25H420.95V318.85H418.35zM428.35 316.25H430.95V318.85H428.35zM415.85 318.75H418.45V321.35H415.85zM440.85 318.75H443.45V321.35H440.85zM445.85 318.75H450.95V321.35H445.85zM453.35 318.75H455.95V321.35H453.35zM468.35 318.75H470.95V321.35H468.35zM455.85 321.25H458.45V323.85H455.85zM485.85 328.75H488.45V331.35H485.85zM490.85 328.75H495.95V331.35H490.85zM498.35 333.75H500.95V336.35H498.35zM493.35 336.25H495.95V338.85H493.35z"/>
<path fill="#52ff07" d="M465.85 241.25H468.45V243.85H465.85zM465.85 243.75H468.45V246.35H465.85zM455.85 253.75H458.45V256.35H455.85zM455.85 256.25H458.45V258.85H455.85zM453.35 258.75H458.45V261.35H453.35zM450.85 266.25H453.45V268.85H450.85zM458.35 266.25H460.95V268.85H458.35zM460.85 268.75H463.45V271.35H460.85zM468.35 271.25H470.95V273.85H468.35zM453.35 273.75H455.95V276.35H453.35zM463.35 273.75H465.95V276.35H463.35zM468.35 273.75H470.95V276.35H468.35zM465.85 276.25H470.95V278.85H465.85zM448.35 278.75H450.95V281.35H448.35zM468.35 278.75H473.45V281.35H468.35zM448.35 281.25H450.95V283.85H448.35zM435.85 283.75H438.45V286.35H435.85zM448.35 283.75H453.45V286.35H448.35zM445.85 286.25H450.95V288.85H445.85zM465.85 286.25H468.45V288.85H465.85zM433.35 288.75H435.95V291.35H433.35zM438.35 288.75H440.95V291.35H438.35zM453.35 288.75H455.95V291.35H453.35zM465.85 288.75H468.45V291.35H465.85zM473.35 288.75H475.95V291.35H473.35zM433.35 291.25H435.95V293.85H433.35zM438.35 291.25H440.95V293.85H438.35zM465.85 291.25H468.45V293.85H465.85zM473.35 291.25H475.95V293.85H473.35zM438.35 293.75H443.45V296.35H438.35zM448.35 293.75H450.95V296.35H448.35zM455.85 293.75H458.45V296.35H455.85zM460.85 293.75H463.45V296.35H460.85zM433.35 296.25H440.95V298.85H433.35zM448.35 296.25H450.95V298.85H448.35zM463.35 298.75H465.95V301.35H463.35zM468.35 298.75H473.45V301.35H468.35zM465.85 301.25H470.95V303.85H465.85zM428.35 303.75H430.95V306.35H428.35zM448.35 303.75H450.95V306.35H448.35zM465.85 303.75H468.45V306.35H465.85zM473.35 303.75H475.95V306.35H473.35zM448.35 306.25H450.95V308.85H448.35zM465.85 306.25H468.45V308.85H465.85zM473.35 306.25H475.95V308.85H473.35zM448.35 308.75H450.95V311.35H448.35zM418.35 311.25H420.95V313.85H418.35zM438.35 311.25H440.95V313.85H438.35zM448.35 311.25H453.45V313.85H448.35zM413.35 313.75H418.45V316.35H413.35zM428.35 313.75H430.95V316.35H428.35zM435.85 313.75H438.45V316.35H435.85zM435.85 316.25H438.45V318.85H435.85zM458.35 316.25H460.95V318.85H458.35zM458.35 318.75H460.95V321.35H458.35zM470.85 318.75H473.45V321.35H470.85zM415.85 321.25H418.45V323.85H415.85zM495.85 328.75H498.45V331.35H495.85zM490.85 331.25H495.95V333.85H490.85zM490.85 333.75H495.95V336.35H490.85zM490.85 336.25H493.45V338.85H490.85zM498.35 336.25H500.95V338.85H498.35z"/>
<path fill="#5fff04" d="M453.35 261.25H455.95V263.85H453.35zM453.35 263.75H455.95V266.35H453.35zM455.85 266.25H458.45V268.85H455.85zM453.35 268.75H460.95V271.35H453.35zM453.35 271.25H458.45V273.85H453.35zM460.85 271.25H463.45V273.85H460.85zM448.35 273.75H453.45V276.35H448.35zM455.85 273.75H458.45V276.35H455.85zM448.35 276.25H458.45V278.85H448.35zM463.35 276.25H465.95V278.85H463.35zM450.85 278.75H453.45V281.35H450.85zM463.35 278.75H468.45V281.35H463.35zM450.85 281.25H453.45V283.85H450.85zM463.35 281.25H468.45V283.85H463.35zM463.35 283.75H468.45V286.35H463.35zM435.85 286.25H438.45V288.85H435.85zM453.35 286.25H455.95V288.85H453.35zM463.35 286.25H465.95V288.85H463.35zM435.85 288.75H438.45V291.35H435.85zM443.35 288.75H448.45V291.35H443.35zM445.85 291.25H448.45V293.85H445.85zM455.85 291.25H463.45V293.85H455.85zM435.85 293.75H438.45V296.35H435.85zM463.35 293.75H465.95V296.35H463.35zM440.85 296.25H443.45V298.85H440.85zM463.35 296.25H465.95V298.85H463.35zM440.85 298.75H443.45V301.35H440.85zM448.35 298.75H450.95V301.35H448.35zM440.85 301.25H443.45V303.85H440.85zM448.35 301.25H450.95V303.85H448.35zM453.35 301.25H455.95V303.85H453.35zM470.85 301.25H473.45V303.85H470.85zM440.85 303.75H443.45V306.35H440.85zM455.85 303.75H458.45V306.35H455.85zM468.35 303.75H470.95V306.35H468.35zM428.35 306.25H430.95V308.85H428.35zM458.35 306.25H460.95V308.85H458.35zM428.35 308.75H430.95V311.35H428.35zM458.35 308.75H460.95V311.35H458.35zM428.35 311.25H430.95V313.85H428.35zM458.35 311.25H460.95V313.85H458.35zM438.35 313.75H440.95V316.35H438.35zM443.35 313.75H453.45V316.35H443.35zM458.35 313.75H460.95V316.35H458.35zM415.85 316.25H418.45V318.85H415.85zM438.35 316.25H440.95V318.85H438.35zM443.35 316.25H453.45V318.85H443.35zM468.35 316.25H473.45V318.85H468.35zM413.35 318.75H415.95V321.35H413.35zM413.35 321.25H415.95V323.85H413.35zM495.85 331.25H498.45V333.85H495.85z"/>
<path fill="#6bff01" d="M455.85 263.75H458.45V266.35H455.85zM453.35 266.25H455.95V268.85H453.35zM450.85 268.75H453.45V271.35H450.85zM450.85 271.25H453.45V273.85H450.85zM458.35 271.25H460.95V273.85H458.35zM458.35 273.75H463.45V276.35H458.35zM458.35 276.25H463.45V278.85H458.35zM453.35 278.75H460.95V281.35H453.35zM453.35 281.25H460.95V283.85H453.35zM453.35 283.75H455.95V286.35H453.35zM458.35 283.75H460.95V286.35H458.35zM458.35 286.25H460.95V288.85H458.35zM455.85 288.75H465.95V291.35H455.85zM435.85 291.25H438.45V293.85H435.85zM443.35 291.25H445.95V293.85H443.35zM463.35 291.25H465.95V293.85H463.35zM445.85 293.75H448.45V296.35H445.85zM445.85 296.25H448.45V298.85H445.85zM445.85 298.75H448.45V301.35H445.85zM453.35 303.75H455.95V306.35H453.35zM470.85 303.75H473.45V306.35H470.85zM440.85 306.25H443.45V308.85H440.85zM455.85 306.25H458.45V308.85H455.85zM468.35 306.25H470.95V308.85H468.35zM440.85 308.75H443.45V311.35H440.85zM445.85 308.75H448.45V311.35H445.85zM443.35 311.25H448.45V313.85H443.35zM468.35 313.75H470.95V316.35H468.35zM440.85 316.25H443.45V318.85H440.85zM455.85 318.75H458.45V321.35H455.85zM495.85 333.75H498.45V336.35H495.85zM495.85 336.25H498.45V338.85H495.85z"/>
<path fill="#7cff00" d="M455.85 261.25H458.45V263.85H455.85zM460.85 278.75H463.45V281.35H460.85zM460.85 281.25H463.45V283.85H460.85zM455.85 283.75H458.45V286.35H455.85zM460.85 283.75H463.45V286.35H460.85zM455.85 286.25H458.45V288.85H455.85zM460.85 286.25H463.45V288.85H460.85zM443.35 293.75H445.95V296.35H443.35zM443.35 296.25H445.95V298.85H443.35zM445.85 301.25H448.45V303.85H445.85zM445.85 303.75H448.45V306.35H445.85zM445.85 306.25H448.45V308.85H445.85zM470.85 306.25H473.45V308.85H470.85zM443.35 308.75H445.95V311.35H443.35zM455.85 308.75H458.45V311.35H455.85zM468.35 308.75H470.95V311.35H468.35zM440.85 311.25H443.45V313.85H440.85zM468.35 311.25H473.45V313.85H468.35zM440.85 313.75H443.45V316.35H440.85zM470.85 313.75H473.45V316.35H470.85zM413.35 316.25H415.95V318.85H413.35zM453.35 316.25H458.45V318.85H453.35zM403.35 323.75H430.95V326.35H403.35z"/>
<path fill="#8eff00" d="M443.35 298.75H445.95V301.35H443.35zM443.35 301.25H445.95V303.85H443.35zM443.35 303.75H445.95V306.35H443.35zM443.35 306.25H445.95V308.85H443.35zM453.35 306.25H455.95V308.85H453.35zM470.85 308.75H473.45V311.35H470.85zM455.85 311.25H458.45V313.85H455.85zM453.35 313.75H458.45V316.35H453.35z"/>
<path fill="#a0ff00" d="M453.35 308.75H455.95V311.35H453.35zM453.35 311.25H455.95V313.85H453.35z"/>
<path fill="#c3ff00" d="M475.85 331.25H490.95V333.85H475.85z"/>
<path fill="#e5ff00" d="M435.85 321.25H455.95V323.85H435.85zM455.85 323.75H475.95V326.35H455.85z"/>
<path fill="#ffcf00" d="M460.85 326.25H463.45V328.85H460.85zM465.85 326.25H470.95V328.85H465.85z"/>
<path fill="#ffc300" d="M430.85 323.75H433.45V326.35H430.85zM435.85 323.75H440.95V326.35H435.85zM450.85 323.75H453.45V326.35H450.85zM458.35 326.25H460.95V328.85H458.35z"/>
<path fill="#ffb500" d="M433.35 323.75H435.95V326.35H433.35zM440.85 323.75H448.45V326.35H440.85zM455.85 326.25H458.45V328.85H455.85zM470.85 326.25H475.95V328.85H470.85z"/>
<path fill="#ffa800" d="M448.35 323.75H450.95V326.35H448.35zM453.35 323.75H455.95V326.35H453.35zM463.35 326.25H465.95V328.85H463.35z"/>
<path fill="#ff2f00" d="M428.35 326.25H455.95V328.85H428.35zM428.35 328.75H475.95V331.35H428.35zM428.35 331.25H475.95V333.85H428.35zM455.85 333.75H475.95V336.35H455.85zM473.35 336.25H475.95V338.85H473.35z"/>
</g></g>
<linearGradient id="g1" x1="0" y1="1" x2="0" y2="0">
<stop offset="0" stop-color="#c800ff"/>
<stop offset="0.06" stop-color="#9614ff"/>
<stop offset="0.12" stop-color="#5a28ff"/>
<stop offset="0.19" stop-color="#323cff"/>
<stop offset="0.25" stop-color="#1e5aff"/>
<stop offset="0.32" stop-color="#198cff"/>
<stop offset="0.38" stop-color="#14b4ff"/>
<stop offset="0.43" stop-color="#00e1ff"/>
<stop offset="0.47" stop-color="#00ffdc"/>
<stop offset="0.5" stop-color="#00ff96"/>
<stop offset="0.56" stop-color="#14ff3c"/>
<stop offset="0.62" stop-color="#50ff00"/>
<stop offset="0.69" stop-color="#aaff00"/>
<stop offset="0.75" stop-color="#fffa00"/>
<stop offset="0.81" stop-color="#ffc800"/>
<stop offset="0.88" stop-color="#ff8c00"/>
<stop offset="0.94" stop-color="#ff4600"/>
<stop offset="1" stop-color="#ff0000"/>
</linearGradient>
<rect x="509" y="13.6" width="7.2" height="211.4" fill="url(#g1)"/>
<text class="s" x="522.5" y="16.05" font-size="7.15">4620</text>
<text class="s" x="522.5" y="42.48" font-size="7.15">4115</text>
<text class="s" x="522.5" y="68.9" font-size="7.15">3610</text>
<text class="s" x="522.5" y="95.33" font-size="7.15">3105</text>
<text class="s" x="522.5" y="121.75" font-size="7.15">2600</text>
<text class="s" x="522.5" y="148.17" font-size="7.15">2095</text>
<text class="s" x="522.5" y="174.6" font-size="7.15">1590</text>
<text class="s" x="522.5" y="201.02" font-size="7.15">1085</text>
<text class="s" x="522.5" y="227.45" font-size="7.15">580.0</text>
<path d="M516.2 13.6h3M516.2 40.02h3M516.2 66.45h3M516.2 92.88h3M516.2 119.3h3M516.2 145.72h3M516.2 172.15h3M516.2 198.57h3M516.2 225h3" stroke="#222" stroke-width="0.6" fill="none"/>
<linearGradient id="g2" x1="0" y1="1" x2="0" y2="0">
<stop offset="0" stop-color="#0000ff"/>
<stop offset="0.08" stop-color="#0050ff"/>
<stop offset="0.16" stop-color="#00b4ff"/>
<stop offset="0.24" stop-color="#00f5ff"/>
<stop offset="0.3" stop-color="#00ffbe"/>
<stop offset="0.36" stop-color="#00ff5a"/>
<stop offset="0.45" stop-color="#1eff14"/>
<stop offset="0.55" stop-color="#6eff00"/>
<stop offset="0.62" stop-color="#beff00"/>
<stop offset="0.68" stop-color="#ffff00"/>
<stop offset="0.76" stop-color="#ffc800"/>
<stop offset="0.84" stop-color="#ff8200"/>
<stop offset="0.92" stop-color="#ff3c00"/>
<stop offset="1" stop-color="#ff0000"/>
</linearGradient>
<rect x="509.5" y="239" width="8" height="99.5" fill="url(#g2)"/>
<text class="s" x="522.9" y="241.45" font-size="7.15">1.200</text>
<text class="s" x="522.9" y="274.62" font-size="7.15">0.9467</text>
<text class="s" x="522.9" y="307.78" font-size="7.15">0.6933</text>
<text class="s" x="522.9" y="340.95" font-size="7.15">0.4400</text>
<text class="r" x="376.2" y="30.8" font-size="18.4" font-weight="bold">(d)</text>
<text class="r" x="378.4" y="141.8" font-size="18.4" font-weight="bold">(e)</text>
<text class="r" x="380.4" y="258.6" font-size="18.4" font-weight="bold">(f)</text>
</g>
</svg></body></html>
